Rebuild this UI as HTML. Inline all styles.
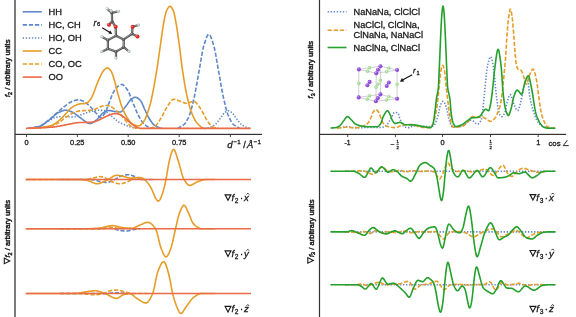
<!DOCTYPE html>
<html><head><meta charset="utf-8">
<style>
html,body{margin:0;padding:0;background:#fff;}
body{width:576px;height:317px;overflow:hidden;position:relative;font-family:"Liberation Sans",sans-serif;}
svg{position:absolute;left:0;top:0;will-change:transform;}
text{font-family:"Liberation Sans",sans-serif;fill:#1a1a1a;stroke:#1a1a1a;stroke-width:0.3px;}
</style></head><body>
<svg width="576" height="317" viewBox="0 0 576 317">
<rect width="576" height="317" fill="#fff"/>
<!-- axes -->
<rect x="14" y="0" width="2" height="317" fill="#7c7c7c"/>
<rect x="15" y="133.8" width="247" height="1.2" fill="#333"/>
<rect x="318.9" y="0" width="1.2" height="317" fill="#333"/>
<rect x="319.5" y="133.8" width="246.6" height="1.2" fill="#333"/>
<!-- ticks -->
<g fill="#333">
<rect x="26.1" y="134.5" width="0.9" height="2.6"/>
<rect x="76.9" y="134.5" width="0.9" height="2.6"/>
<rect x="127.7" y="134.5" width="0.9" height="2.6"/>
<rect x="178.7" y="134.5" width="0.9" height="2.6"/>
<rect x="229.9" y="134.5" width="0.9" height="2.6"/>
<rect x="347.3" y="134.5" width="0.9" height="2.6"/>
<rect x="394.9" y="134.5" width="0.9" height="2.6"/>
<rect x="442.1" y="134.5" width="0.9" height="2.6"/>
<rect x="490.0" y="134.5" width="0.9" height="2.6"/>
<rect x="537.7" y="134.5" width="0.9" height="2.6"/>
</g>
<g font-size="7.4" text-anchor="middle" style="stroke-width:0.5px">
<text x="26.6" y="145.2">0</text>
<text x="77.3" y="145.2">0.25</text>
<text x="128.2" y="145.2">0.50</text>
<text x="179.2" y="145.2">0.75</text>
<text x="347.6" y="145.1" font-size="6.8">-1</text>
<text x="442.6" y="145.2">0</text>
<text x="538.2" y="145.2">1</text>
</g>
<path d="M28.5 128.3L29.0 128.3L29.5 128.2L30.0 128.2L30.5 128.1L31.0 128.1L31.5 128.0L32.0 128.0L32.5 127.9L33.0 127.8L33.5 127.7L34.0 127.7L34.5 127.6L35.0 127.5L35.5 127.4L36.0 127.3L36.5 127.2L37.0 127.1L37.5 127.0L38.0 126.9L38.5 126.8L39.0 126.6L39.5 126.5L40.0 126.4L40.5 126.2L41.0 125.9L41.5 125.7L42.0 125.4L42.5 125.1L43.0 124.7L43.5 124.4L44.0 124.0L44.5 123.7L45.0 123.3L45.5 122.9L46.0 122.6L46.5 122.2L47.0 121.9L47.5 121.5L48.0 121.2L48.5 120.9L49.0 120.6L49.5 120.3L50.0 120.1L50.5 119.8L51.0 119.5L51.5 119.2L52.0 118.9L52.5 118.6L53.0 118.4L53.5 118.1L54.0 117.9L54.5 117.7L55.0 117.6L55.5 117.5L56.0 117.3L56.5 117.2L57.0 117.1L57.5 117.0L58.0 116.9L58.5 116.8L59.0 116.8L59.5 116.7L60.0 116.7L60.5 116.7L61.0 116.7L61.5 116.7L62.0 116.7L62.5 116.7L63.0 116.7L63.5 116.7L64.0 116.7L64.5 116.7L65.0 116.7L65.5 116.7L66.0 116.7L66.5 116.7L67.0 116.7L67.5 116.7L68.0 116.7L68.5 116.8L69.0 116.8L69.5 116.8L70.0 116.8L70.5 116.9L71.0 116.9L71.5 116.9L72.0 116.9L72.5 116.9L73.0 116.9L73.5 116.8L74.0 116.8L74.5 116.7L75.0 116.6L75.5 116.4L76.0 116.3L76.5 116.2L77.0 116.1L77.5 115.9L78.0 115.8L78.5 115.7L79.0 115.5L79.5 115.4L80.0 115.2L80.5 115.0L81.0 114.9L81.5 114.7L82.0 114.5L82.5 114.3L83.0 114.1L83.5 113.9L84.0 113.7L84.5 113.5L85.0 113.3L85.5 113.2L86.0 113.0L86.5 112.8L87.0 112.7L87.5 112.5L88.0 112.3L88.5 112.1L89.0 112.0L89.5 111.8L90.0 111.6L90.5 111.5L91.0 111.3L91.5 111.2L92.0 111.1L92.5 111.0L93.0 110.9L93.5 110.8L94.0 110.7L94.5 110.7L95.0 110.6L95.5 110.5L96.0 110.5L96.5 110.4L97.0 110.4L97.5 110.3L98.0 110.3L98.5 110.3L99.0 110.3L99.5 110.3L100.0 110.3L100.5 110.3L101.0 110.4L101.5 110.4L102.0 110.4L102.5 110.5L103.0 110.5L103.5 110.6L104.0 110.6L104.5 110.8L105.0 111.0L105.5 111.3L106.0 111.6L106.5 112.0L107.0 112.4L107.5 112.8L108.0 113.2L108.5 113.6L109.0 114.0L109.5 114.4L110.0 114.8L110.5 115.2L111.0 115.6L111.5 116.1L112.0 116.5L112.5 116.9L113.0 117.4L113.5 117.8L114.0 118.3L114.5 118.7L115.0 119.1L115.5 119.5L116.0 119.9L116.5 120.3L117.0 120.7L117.5 121.1L118.0 121.5L118.5 121.9L119.0 122.2L119.5 122.5L120.0 122.8L120.5 123.1L121.0 123.3L121.5 123.5L122.0 123.8L122.5 124.0L123.0 124.2L123.5 124.4L124.0 124.5L124.5 124.7L125.0 124.9L125.5 125.1L126.0 125.3L126.5 125.5L127.0 125.7L127.5 125.9L128.0 126.1L128.5 126.3L129.0 126.4L129.5 126.6L130.0 126.8L130.5 126.9L131.0 127.1L131.5 127.2L132.0 127.3L132.5 127.4L133.0 127.5L133.5 127.6L134.0 127.7L134.5 127.8L135.0 127.9L135.5 128.0L136.0 128.0L136.5 128.1L137.0 128.2L137.5 128.3L138.0 128.3L138.5 128.3M204.5 128.4L205.0 128.4L205.5 128.2L206.0 128.1L206.5 128.0L207.0 127.9L207.5 127.8L208.0 127.8L208.5 127.7L209.0 127.6L209.5 127.5L210.0 127.4L210.5 127.3L211.0 127.1L211.5 126.9L212.0 126.6L212.5 126.3L213.0 126.0L213.5 125.7L214.0 125.3L214.5 125.0L215.0 124.6L215.5 124.2L216.0 123.7L216.5 123.1L217.0 122.6L217.5 121.9L218.0 121.3L218.5 120.6L219.0 120.0L219.5 119.4L220.0 118.7L220.5 118.1L221.0 117.3L221.5 116.6L222.0 115.9L222.5 115.1L223.0 114.5L223.5 113.8L224.0 113.3L224.5 112.9L225.0 112.5L225.5 112.1L226.0 111.7L226.5 111.4L227.0 111.1L227.5 110.9L228.0 110.8L228.5 110.8L229.0 110.9L229.5 111.1L230.0 111.4L230.5 111.7L231.0 112.0L231.5 112.4L232.0 112.8L232.5 113.2L233.0 113.7L233.5 114.3L234.0 115.0L234.5 115.7L235.0 116.5L235.5 117.2L236.0 117.9L236.5 118.6L237.0 119.2L237.5 119.9L238.0 120.5L238.5 121.2L239.0 121.8L239.5 122.4L240.0 123.0L240.5 123.6L241.0 124.1L241.5 124.5L242.0 124.9L242.5 125.3L243.0 125.6L243.5 125.9L244.0 126.2L244.5 126.5L245.0 126.8L245.5 127.0L246.0 127.2L246.5 127.4L247.0 127.6L247.5 127.7L248.0 127.9L248.5 128.0L249.0 128.1L249.5 128.2L250.0 128.3L250.5 128.4" stroke="#5f88c8" stroke-width="1.6" fill="none" stroke-dasharray="1.35 1.7" stroke-linejoin="round"/>
<path d="M28.0 128.3L28.5 128.3L29.0 128.3L29.5 128.2L30.0 128.2L30.5 128.1L31.0 128.1L31.5 128.0L32.0 127.9L32.5 127.9L33.0 127.8L33.5 127.7L34.0 127.6L34.5 127.5L35.0 127.4L35.5 127.3L36.0 127.2L36.5 127.1L37.0 127.0L37.5 126.9L38.0 126.8L38.5 126.7L39.0 126.5L39.5 126.4L40.0 126.3L40.5 126.1L41.0 125.8L41.5 125.6L42.0 125.3L42.5 125.0L43.0 124.7L43.5 124.3L44.0 124.0L44.5 123.6L45.0 123.2L45.5 122.8L46.0 122.5L46.5 122.1L47.0 121.7L47.5 121.3L48.0 120.9L48.5 120.5L49.0 120.2L49.5 119.8L50.0 119.4L50.5 119.0L51.0 118.5L51.5 118.1L52.0 117.6L52.5 117.1L53.0 116.7L53.5 116.2L54.0 115.8L54.5 115.3L55.0 114.9L55.5 114.5L56.0 114.1L56.5 113.7L57.0 113.4L57.5 113.1L58.0 112.8L58.5 112.6L59.0 112.4L59.5 112.1L60.0 111.9L60.5 111.7L61.0 111.4L61.5 111.2L62.0 111.0L62.5 110.8L63.0 110.7L63.5 110.5L64.0 110.4L64.5 110.3L65.0 110.2L65.5 110.2L66.0 110.2L66.5 110.2L67.0 110.3L67.5 110.4L68.0 110.5L68.5 110.7L69.0 110.8L69.5 111.0L70.0 111.2L70.5 111.4L71.0 111.6L71.5 111.8L72.0 112.0L72.5 112.2L73.0 112.4L73.5 112.7L74.0 113.0L74.5 113.3L75.0 113.7L75.5 114.1L76.0 114.4L76.5 114.8L77.0 115.2L77.5 115.6L78.0 116.0L78.5 116.4L79.0 116.8L79.5 117.2L80.0 117.5L80.5 117.8L81.0 118.2L81.5 118.6L82.0 119.0L82.5 119.4L83.0 119.8L83.5 120.2L84.0 120.6L84.5 121.0L85.0 121.3L85.5 121.7L86.0 122.0L86.5 122.4L87.0 122.6L87.5 122.9L88.0 123.1L88.5 123.3L89.0 123.4L89.5 123.5L90.0 123.5L90.5 123.5L91.0 123.3L91.5 123.2L92.0 123.0L92.5 122.7L93.0 122.4L93.5 122.1L94.0 121.8L94.5 121.4L95.0 121.0L95.5 120.7L96.0 120.3L96.5 119.9L97.0 119.5L97.5 119.1L98.0 118.6L98.5 118.0L99.0 117.4L99.5 116.8L100.0 116.2L100.5 115.5L101.0 114.9L101.5 114.3L102.0 113.8L102.5 113.4L103.0 113.0L103.5 112.7L104.0 112.4L104.5 112.1L105.0 111.8L105.5 111.5L106.0 111.3L106.5 111.0L107.0 110.8L107.5 110.7L108.0 110.6L108.5 110.5L109.0 110.5L109.5 110.5L110.0 110.6L110.5 110.7L111.0 110.8L111.5 110.9L112.0 111.0L112.5 111.1L113.0 111.2L113.5 111.3L114.0 111.4L114.5 111.5L115.0 111.5L115.5 111.6L116.0 111.7L116.5 111.7L117.0 111.8L117.5 111.8L118.0 111.9L118.5 111.9L119.0 112.0L119.5 112.0L120.0 112.0L120.5 112.0L121.0 111.8L121.5 111.5L122.0 111.1L122.5 110.6L123.0 110.0L123.5 109.3L124.0 108.6L124.5 107.9L125.0 107.3L125.5 106.6L126.0 106.0L126.5 105.4L127.0 104.7L127.5 104.0L128.0 103.2L128.5 102.5L129.0 101.7L129.5 101.1L130.0 100.4L130.5 99.9L131.0 99.5L131.5 99.1L132.0 98.8L132.5 98.4L133.0 98.1L133.5 97.8L134.0 97.6L134.5 97.4L135.0 97.3L135.5 97.3L136.0 97.4L136.5 97.5L137.0 97.7L137.5 98.0L138.0 98.3L138.5 98.7L139.0 99.1L139.5 99.6L140.0 100.0L140.5 100.6L141.0 101.3L141.5 102.2L142.0 103.2L142.5 104.3L143.0 105.5L143.5 106.7L144.0 107.8L144.5 109.0L145.0 110.0L145.5 111.0L146.0 112.1L146.5 113.1L147.0 114.2L147.5 115.2L148.0 116.3L148.5 117.2L149.0 118.2L149.5 119.0L150.0 119.8L150.5 120.5L151.0 121.2L151.5 121.9L152.0 122.6L152.5 123.3L153.0 123.9L153.5 124.4L154.0 124.9L154.5 125.3L155.0 125.6L155.5 125.9L156.0 126.1L156.5 126.4L157.0 126.7L157.5 126.9L158.0 127.1L158.5 127.4L159.0 127.6L159.5 127.7L160.0 127.9L160.5 128.1L161.0 128.2L161.5 128.3L162.0 128.3L162.5 128.4" stroke="#5f88c8" stroke-width="1.6" fill="none" stroke-linejoin="round"/>
<path d="M28.0 128.3L28.5 128.3L29.0 128.3L29.5 128.2L30.0 128.2L30.5 128.1L31.0 128.1L31.5 128.0L32.0 127.9L32.5 127.8L33.0 127.8L33.5 127.7L34.0 127.6L34.5 127.5L35.0 127.4L35.5 127.3L36.0 127.2L36.5 127.1L37.0 126.9L37.5 126.8L38.0 126.7L38.5 126.6L39.0 126.5L39.5 126.3L40.0 126.1L40.5 125.9L41.0 125.7L41.5 125.4L42.0 125.1L42.5 124.8L43.0 124.5L43.5 124.1L44.0 123.8L44.5 123.4L45.0 123.0L45.5 122.6L46.0 122.2L46.5 121.8L47.0 121.3L47.5 120.9L48.0 120.5L48.5 120.2L49.0 119.8L49.5 119.4L50.0 119.0L50.5 118.6L51.0 118.1L51.5 117.7L52.0 117.3L52.5 116.8L53.0 116.4L53.5 115.9L54.0 115.5L54.5 115.0L55.0 114.6L55.5 114.1L56.0 113.6L56.5 113.2L57.0 112.8L57.5 112.3L58.0 111.9L58.5 111.5L59.0 111.0L59.5 110.6L60.0 110.2L60.5 109.7L61.0 109.3L61.5 108.9L62.0 108.4L62.5 108.0L63.0 107.6L63.5 107.2L64.0 106.8L64.5 106.4L65.0 106.1L65.5 105.7L66.0 105.3L66.5 104.9L67.0 104.6L67.5 104.2L68.0 103.8L68.5 103.5L69.0 103.1L69.5 102.8L70.0 102.5L70.5 102.2L71.0 102.0L71.5 101.7L72.0 101.5L72.5 101.3L73.0 101.2L73.5 101.0L74.0 100.8L74.5 100.6L75.0 100.5L75.5 100.3L76.0 100.2L76.5 100.1L77.0 100.0L77.5 99.9L78.0 99.9L78.5 99.9L79.0 99.9L79.5 100.0L80.0 100.1L80.5 100.2L81.0 100.3L81.5 100.5L82.0 100.7L82.5 100.9L83.0 101.1L83.5 101.3L84.0 101.5L84.5 101.7L85.0 102.0L85.5 102.4L86.0 102.8L86.5 103.2L87.0 103.6L87.5 104.1L88.0 104.6L88.5 105.0L89.0 105.5L89.5 106.0L90.0 106.5L90.5 107.0L91.0 107.5L91.5 108.0L92.0 108.6L92.5 109.1L93.0 109.7L93.5 110.2L94.0 110.8L94.5 111.4L95.0 111.9L95.5 112.5L96.0 113.0L96.5 113.6L97.0 114.2L97.5 114.9L98.0 115.5L98.5 116.1L99.0 116.7L99.5 117.1L100.0 117.4L100.5 117.5L101.0 117.4L101.5 117.2L102.0 116.8L102.5 116.3L103.0 115.8L103.5 115.1L104.0 114.4L104.5 113.7L105.0 113.0L105.5 112.2L106.0 111.1L106.5 109.9L107.0 108.5L107.5 107.1L108.0 105.7L108.5 104.3L109.0 103.0L109.5 101.7L110.0 100.4L110.5 99.1L111.0 97.8L111.5 96.5L112.0 95.3L112.5 94.2L113.0 93.2L113.5 92.2L114.0 91.3L114.5 90.3L115.0 89.5L115.5 88.8L116.0 88.2L116.5 87.7L117.0 87.3L117.5 86.8L118.0 86.4L118.5 86.0L119.0 85.6L119.5 85.3L120.0 85.0L120.5 84.8L121.0 84.6L121.5 84.5L122.0 84.5L122.5 84.6L123.0 84.9L123.5 85.2L124.0 85.6L124.5 86.1L125.0 86.7L125.5 87.3L126.0 87.9L126.5 88.6L127.0 89.3L127.5 90.0L128.0 90.8L128.5 91.7L129.0 92.8L129.5 93.9L130.0 95.2L130.5 96.5L131.0 97.8L131.5 99.2L132.0 100.5L132.5 101.8L133.0 103.0L133.5 104.2L134.0 105.4L134.5 106.6L135.0 107.8L135.5 109.0L136.0 110.2L136.5 111.4L137.0 112.5L137.5 113.6L138.0 114.7L138.5 115.6L139.0 116.5L139.5 117.4L140.0 118.3L140.5 119.2L141.0 120.1L141.5 120.9L142.0 121.6L142.5 122.3L143.0 123.0L143.5 123.5L144.0 124.0L144.5 124.4L145.0 124.8L145.5 125.3L146.0 125.6L146.5 126.0L147.0 126.3L147.5 126.6L148.0 126.9L148.5 127.2L149.0 127.3L149.5 127.5L150.0 127.6L150.5 127.7L151.0 127.7L151.5 127.8L152.0 127.9L152.5 127.9L153.0 128.0L153.5 128.0L154.0 128.1L154.5 128.1L155.0 128.2L155.5 128.2L156.0 128.3L156.5 128.3L157.0 128.3M177.5 128.4L178.0 128.4L178.5 128.2L179.0 127.7L179.5 127.3L180.0 127.0L180.5 126.7L181.0 126.4L181.5 126.1L182.0 125.9L182.5 125.6L183.0 125.3L183.5 124.9L184.0 124.5L184.5 124.1L185.0 123.5L185.5 122.9L186.0 122.1L186.5 121.3L187.0 120.4L187.5 119.4L188.0 118.4L188.5 117.3L189.0 116.1L189.5 114.9L190.0 113.6L190.5 112.0L191.0 110.4L191.5 108.6L192.0 106.7L192.5 104.7L193.0 102.6L193.5 100.5L194.0 98.3L194.5 96.1L195.0 93.6L195.5 91.1L196.0 88.3L196.5 85.5L197.0 82.7L197.5 79.8L198.0 76.9L198.5 74.1L199.0 71.4L199.5 68.6L200.0 65.7L200.5 62.7L201.0 59.7L201.5 56.8L202.0 54.0L202.5 51.3L203.0 48.9L203.5 46.8L204.0 45.1L204.5 43.5L205.0 41.9L205.5 40.4L206.0 38.9L206.5 37.6L207.0 36.5L207.5 35.5L208.0 34.8L208.5 34.5L209.0 34.4L209.5 34.7L210.0 35.4L210.5 36.2L211.0 37.4L211.5 38.7L212.0 40.1L212.5 41.6L213.0 43.2L213.5 44.8L214.0 46.5L214.5 48.5L215.0 50.8L215.5 53.4L216.0 56.2L216.5 59.1L217.0 62.1L217.5 65.1L218.0 68.0L218.5 70.8L219.0 73.6L219.5 76.4L220.0 79.2L220.5 82.1L221.0 85.0L221.5 87.8L222.0 90.5L222.5 93.1L223.0 95.6L223.5 97.9L224.0 100.0L224.5 102.2L225.0 104.2L225.5 106.3L226.0 108.2L226.5 110.0L227.0 111.7L227.5 113.3L228.0 114.7L228.5 115.9L229.0 117.1L229.5 118.2L230.0 119.2L230.5 120.2L231.0 121.1L231.5 122.0L232.0 122.7L232.5 123.4L233.0 124.0L233.5 124.5L234.0 124.9L234.5 125.2L235.0 125.6L235.5 125.9L236.0 126.2L236.5 126.4L237.0 126.7L237.5 127.0L238.0 127.2L238.5 127.6L239.0 127.9L239.5 128.3L240.0 128.4L240.5 128.4" stroke="#5f88c8" stroke-width="1.6" fill="none" stroke-dasharray="4.3 1.8" stroke-linejoin="round"/>
<path d="M31.5 128.3L32.0 128.3L32.5 128.3L33.0 128.3L33.5 128.2L34.0 128.2L34.5 128.2L35.0 128.2L35.5 128.1L36.0 128.1L36.5 128.1L37.0 128.1L37.5 128.0L38.0 128.0L38.5 128.0L39.0 128.0L39.5 127.9L40.0 127.9L40.5 127.9L41.0 127.8L41.5 127.8L42.0 127.7L42.5 127.7L43.0 127.6L43.5 127.6L44.0 127.5L44.5 127.5L45.0 127.4L45.5 127.3L46.0 127.2L46.5 127.2L47.0 127.1L47.5 127.0L48.0 126.9L48.5 126.8L49.0 126.7L49.5 126.6L50.0 126.4L50.5 126.3L51.0 126.1L51.5 125.9L52.0 125.7L52.5 125.5L53.0 125.4L53.5 125.2L54.0 124.9L54.5 124.7L55.0 124.5L55.5 124.3L56.0 124.1L56.5 123.9L57.0 123.6L57.5 123.4L58.0 123.1L58.5 122.8L59.0 122.5L59.5 122.2L60.0 121.9L60.5 121.6L61.0 121.2L61.5 120.8L62.0 120.4L62.5 120.0L63.0 119.6L63.5 119.2L64.0 118.8L64.5 118.4L65.0 118.1L65.5 117.7L66.0 117.3L66.5 116.9L67.0 116.6L67.5 116.2L68.0 115.9L68.5 115.5L69.0 115.2L69.5 114.9L70.0 114.6L70.5 114.3L71.0 114.0L71.5 113.7L72.0 113.4L72.5 113.2L73.0 112.9L73.5 112.7L74.0 112.5L74.5 112.3L75.0 112.1L75.5 111.9L76.0 111.7L76.5 111.6L77.0 111.4L77.5 111.3L78.0 111.2L78.5 111.1L79.0 111.0L79.5 110.9L80.0 110.9L80.5 110.8L81.0 110.8L81.5 110.7L82.0 110.7L82.5 110.7L83.0 110.6L83.5 110.6L84.0 110.6L84.5 110.6L85.0 110.5L85.5 110.5L86.0 110.5L86.5 110.5L87.0 110.5L87.5 110.5L88.0 110.5L88.5 110.4L89.0 110.4L89.5 110.4L90.0 110.4L90.5 110.4L91.0 110.3L91.5 110.3L92.0 110.3L92.5 110.2L93.0 110.0L93.5 109.8L94.0 109.6L94.5 109.4L95.0 109.2L95.5 109.0L96.0 108.7L96.5 108.5L97.0 108.3L97.5 108.1L98.0 107.9L98.5 107.6L99.0 107.4L99.5 107.1L100.0 106.9L100.5 106.7L101.0 106.5L101.5 106.4L102.0 106.3L102.5 106.2L103.0 106.0L103.5 105.9L104.0 105.8L104.5 105.7L105.0 105.7L105.5 105.6L106.0 105.5L106.5 105.5L107.0 105.5L107.5 105.5L108.0 105.6L108.5 105.7L109.0 105.9L109.5 106.1L110.0 106.3L110.5 106.5L111.0 106.7L111.5 106.9L112.0 107.2L112.5 107.5L113.0 107.9L113.5 108.2L114.0 108.6L114.5 109.0L115.0 109.4L115.5 109.8L116.0 110.2L116.5 110.6L117.0 111.1L117.5 111.5L118.0 112.0L118.5 112.5L119.0 113.0L119.5 113.5L120.0 114.0L120.5 114.5L121.0 115.1L121.5 115.6L122.0 116.2L122.5 116.8L123.0 117.4L123.5 118.0L124.0 118.6L124.5 119.2L125.0 119.8L125.5 120.4L126.0 121.0L126.5 121.6L127.0 122.2L127.5 122.8L128.0 123.4L128.5 124.0L129.0 124.6L129.5 125.1L130.0 125.5L130.5 125.9L131.0 126.3L131.5 126.7L132.0 127.0L132.5 127.3L133.0 127.5L133.5 127.6L134.0 127.7L134.5 127.8L135.0 127.9L135.5 128.0L136.0 128.1L136.5 128.2L137.0 128.2L137.5 128.3L138.0 128.3L138.5 128.4M149.5 128.4L150.0 128.3L150.5 128.2L151.0 128.1L151.5 127.9L152.0 127.7L152.5 127.5L153.0 127.3L153.5 127.0L154.0 126.8L154.5 126.5L155.0 126.2L155.5 125.9L156.0 125.4L156.5 124.9L157.0 124.3L157.5 123.6L158.0 122.9L158.5 122.1L159.0 121.3L159.5 120.5L160.0 119.7L160.5 118.8L161.0 118.0L161.5 117.2L162.0 116.4L162.5 115.5L163.0 114.5L163.5 113.5L164.0 112.5L164.5 111.5L165.0 110.5L165.5 109.5L166.0 108.6L166.5 107.8L167.0 107.0L167.5 106.3L168.0 105.5L168.5 104.7L169.0 104.0L169.5 103.2L170.0 102.5L170.5 101.8L171.0 101.2L171.5 100.6L172.0 100.1L172.5 99.8L173.0 99.5L173.5 99.3L174.0 99.3L174.5 99.3L175.0 99.4L175.5 99.5L176.0 99.7L176.5 99.9L177.0 100.0L177.5 100.2L178.0 100.4L178.5 100.6L179.0 100.8L179.5 101.0L180.0 101.2L180.5 101.4L181.0 101.6L181.5 101.8L182.0 102.0L182.5 102.2L183.0 102.4L183.5 102.6L184.0 102.8L184.5 103.0L185.0 103.1L185.5 103.2L186.0 103.2L186.5 103.2L187.0 103.1L187.5 103.0L188.0 102.9L188.5 102.7L189.0 102.6L189.5 102.4L190.0 102.3L190.5 102.2L191.0 102.0L191.5 101.8L192.0 101.7L192.5 101.5L193.0 101.4L193.5 101.3L194.0 101.3L194.5 101.4L195.0 101.7L195.5 102.1L196.0 102.6L196.5 103.1L197.0 103.8L197.5 104.4L198.0 105.0L198.5 105.6L199.0 106.3L199.5 107.1L200.0 107.9L200.5 108.7L201.0 109.5L201.5 110.4L202.0 111.3L202.5 112.2L203.0 113.0L203.5 113.9L204.0 114.8L204.5 115.7L205.0 116.7L205.5 117.6L206.0 118.6L206.5 119.5L207.0 120.3L207.5 121.2L208.0 121.9L208.5 122.6L209.0 123.2L209.5 123.8L210.0 124.4L210.5 124.9L211.0 125.5L211.5 126.0L212.0 126.4L212.5 126.8L213.0 127.2L213.5 127.4L214.0 127.6L214.5 127.7L215.0 127.8L215.5 127.9L216.0 128.0L216.5 128.1L217.0 128.2L217.5 128.2L218.0 128.3L218.5 128.3" stroke="#e69d28" stroke-width="1.6" fill="none" stroke-dasharray="4.3 1.8" stroke-linejoin="round"/>
<path d="M30.0 128.3L30.5 128.3L31.0 128.3L31.5 128.2L32.0 128.2L32.5 128.2L33.0 128.2L33.5 128.1L34.0 128.1L34.5 128.1L35.0 128.0L35.5 128.0L36.0 127.9L36.5 127.9L37.0 127.9L37.5 127.8L38.0 127.8L38.5 127.7L39.0 127.7L39.5 127.6L40.0 127.6L40.5 127.6L41.0 127.5L41.5 127.4L42.0 127.4L42.5 127.3L43.0 127.3L43.5 127.2L44.0 127.1L44.5 127.0L45.0 126.9L45.5 126.9L46.0 126.8L46.5 126.7L47.0 126.6L47.5 126.5L48.0 126.3L48.5 126.2L49.0 126.1L49.5 126.0L50.0 125.8L50.5 125.7L51.0 125.6L51.5 125.4L52.0 125.2L52.5 125.0L53.0 124.8L53.5 124.5L54.0 124.2L54.5 123.9L55.0 123.6L55.5 123.2L56.0 122.9L56.5 122.5L57.0 122.1L57.5 121.8L58.0 121.4L58.5 121.0L59.0 120.6L59.5 120.2L60.0 119.7L60.5 119.3L61.0 118.8L61.5 118.3L62.0 117.8L62.5 117.3L63.0 116.8L63.5 116.2L64.0 115.7L64.5 115.2L65.0 114.6L65.5 114.1L66.0 113.5L66.5 113.0L67.0 112.4L67.5 111.8L68.0 111.2L68.5 110.6L69.0 110.0L69.5 109.5L70.0 109.0L70.5 108.6L71.0 108.1L71.5 107.7L72.0 107.4L72.5 107.0L73.0 106.7L73.5 106.4L74.0 106.1L74.5 105.9L75.0 105.6L75.5 105.4L76.0 105.2L76.5 104.9L77.0 104.7L77.5 104.5L78.0 104.4L78.5 104.2L79.0 104.1L79.5 104.0L80.0 103.9L80.5 103.8L81.0 103.8L81.5 103.8L82.0 103.7L82.5 103.7L83.0 103.7L83.5 103.6L84.0 103.6L84.5 103.6L85.0 103.5L85.5 103.5L86.0 103.4L86.5 103.3L87.0 103.0L87.5 102.6L88.0 102.2L88.5 101.7L89.0 101.2L89.5 100.6L90.0 100.0L90.5 99.3L91.0 98.5L91.5 97.6L92.0 96.6L92.5 95.5L93.0 94.4L93.5 93.3L94.0 92.1L94.5 90.8L95.0 89.4L95.5 88.0L96.0 86.6L96.5 85.3L97.0 84.0L97.5 82.8L98.0 81.6L98.5 80.4L99.0 79.2L99.5 78.1L100.0 77.0L100.5 76.0L101.0 75.0L101.5 74.0L102.0 73.1L102.5 72.1L103.0 71.3L103.5 70.5L104.0 70.0L104.5 69.6L105.0 69.2L105.5 68.8L106.0 68.5L106.5 68.2L107.0 68.1L107.5 68.0L108.0 68.1L108.5 68.3L109.0 68.7L109.5 69.2L110.0 69.7L110.5 70.4L111.0 71.0L111.5 71.8L112.0 73.0L112.5 74.3L113.0 75.8L113.5 77.4L114.0 79.0L114.5 80.7L115.0 82.6L115.5 84.5L116.0 86.6L116.5 88.5L117.0 90.4L117.5 92.2L118.0 94.0L118.5 95.8L119.0 97.6L119.5 99.3L120.0 101.0L120.5 102.7L121.0 104.2L121.5 105.7L122.0 107.0L122.5 108.2L123.0 109.4L123.5 110.6L124.0 111.7L124.5 112.8L125.0 113.9L125.5 114.9L126.0 115.8L126.5 116.7L127.0 117.5L127.5 118.3L128.0 119.0L128.5 119.7L129.0 120.3L129.5 121.0L130.0 121.6L130.5 122.2L131.0 122.7L131.5 123.2L132.0 123.6L132.5 123.9L133.0 124.2L133.5 124.4L134.0 124.6L134.5 124.8L135.0 125.0L135.5 125.2L136.0 125.4L136.5 125.5L137.0 125.6L137.5 125.7L138.0 125.8L138.5 125.8L139.0 125.8L139.5 125.6L140.0 125.4L140.5 125.1L141.0 124.6L141.5 124.1L142.0 123.6L142.5 123.0L143.0 122.3L143.5 121.7L144.0 121.0L144.5 120.3L145.0 119.4L145.5 118.3L146.0 117.2L146.5 115.9L147.0 114.6L147.5 113.1L148.0 111.6L148.5 110.0L149.0 108.4L149.5 106.7L150.0 105.0L150.5 103.2L151.0 101.1L151.5 98.9L152.0 96.5L152.5 94.0L153.0 91.5L153.5 89.0L154.0 86.4L154.5 83.6L155.0 80.8L155.5 77.9L156.0 74.9L156.5 71.9L157.0 68.7L157.5 65.5L158.0 62.0L158.5 58.5L159.0 55.0L159.5 51.5L160.0 48.0L160.5 44.5L161.0 40.8L161.5 37.1L162.0 33.5L162.5 30.1L163.0 26.8L163.5 24.0L164.0 21.3L164.5 18.7L165.0 16.3L165.5 14.1L166.0 12.3L166.5 11.0L167.0 10.0L167.5 9.0L168.0 8.1L168.5 7.4L169.0 6.8L169.5 6.4L170.0 6.3L170.5 6.4L171.0 6.8L171.5 7.4L172.0 8.2L172.5 9.1L173.0 10.1L173.5 11.2L174.0 12.8L174.5 14.9L175.0 17.4L175.5 20.1L176.0 22.9L176.5 25.7L177.0 28.8L177.5 32.1L178.0 35.6L178.5 39.1L179.0 42.8L179.5 46.5L180.0 50.4L180.5 54.6L181.0 58.7L181.5 62.8L182.0 66.6L182.5 70.1L183.0 73.4L183.5 76.7L184.0 79.9L184.5 82.9L185.0 85.8L185.5 88.5L186.0 91.0L186.5 93.4L187.0 95.8L187.5 98.0L188.0 100.2L188.5 102.4L189.0 104.4L189.5 106.2L190.0 108.0L190.5 109.6L191.0 111.0L191.5 112.3L192.0 113.6L192.5 114.8L193.0 116.0L193.5 117.2L194.0 118.2L194.5 119.2L195.0 120.1L195.5 121.0L196.0 121.7L196.5 122.4L197.0 123.0L197.5 123.5L198.0 124.1L198.5 124.6L199.0 125.1L199.5 125.5L200.0 126.0L200.5 126.4L201.0 126.8L201.5 127.2L202.0 127.5L202.5 127.8L203.0 128.0L203.5 128.2L204.0 128.3L204.5 128.4" stroke="#e69d28" stroke-width="1.6" fill="none" stroke-linejoin="round"/>
<path d="M26.0 128.4L26.5 128.4L27.0 128.4L27.5 128.3L28.0 128.3L28.5 128.3L29.0 128.3L29.5 128.3L30.0 128.3L30.5 128.2L31.0 128.2L31.5 128.2L32.0 128.2L32.5 128.1L33.0 128.1L33.5 128.1L34.0 128.1L34.5 128.1L35.0 128.0L35.5 128.0L36.0 128.0L36.5 128.0L37.0 127.9L37.5 127.9L38.0 127.9L38.5 127.9L39.0 127.8L39.5 127.8L40.0 127.8L40.5 127.8L41.0 127.8L41.5 127.7L42.0 127.7L42.5 127.7L43.0 127.7L43.5 127.6L44.0 127.6L44.5 127.6L45.0 127.6L45.5 127.5L46.0 127.5L46.5 127.5L47.0 127.5L47.5 127.4L48.0 127.4L48.5 127.4L49.0 127.3L49.5 127.3L50.0 127.3L50.5 127.2L51.0 127.2L51.5 127.2L52.0 127.1L52.5 127.1L53.0 127.0L53.5 127.0L54.0 126.9L54.5 126.9L55.0 126.8L55.5 126.8L56.0 126.7L56.5 126.6L57.0 126.5L57.5 126.4L58.0 126.4L58.5 126.3L59.0 126.2L59.5 126.1L60.0 126.0L60.5 125.9L61.0 125.8L61.5 125.7L62.0 125.6L62.5 125.5L63.0 125.4L63.5 125.3L64.0 125.2L64.5 125.1L65.0 125.0L65.5 124.9L66.0 124.8L66.5 124.7L67.0 124.6L67.5 124.5L68.0 124.4L68.5 124.3L69.0 124.2L69.5 124.1L70.0 124.0L70.5 123.9L71.0 123.8L71.5 123.7L72.0 123.6L72.5 123.5L73.0 123.4L73.5 123.3L74.0 123.2L74.5 123.2L75.0 123.1L75.5 123.0L76.0 122.9L76.5 122.8L77.0 122.8L77.5 122.7L78.0 122.6L78.5 122.6L79.0 122.5L79.5 122.5L80.0 122.5L80.5 122.5L81.0 122.5L81.5 122.5L82.0 122.5L82.5 122.5L83.0 122.5L83.5 122.5L84.0 122.5L84.5 122.5L85.0 122.4L85.5 122.4L86.0 122.4L86.5 122.4L87.0 122.4L87.5 122.4L88.0 122.4L88.5 122.4L89.0 122.4L89.5 122.4L90.0 122.4L90.5 122.3L91.0 122.3L91.5 122.2L92.0 122.1L92.5 122.0L93.0 121.9L93.5 121.8L94.0 121.7L94.5 121.6L95.0 121.5L95.5 121.4L96.0 121.2L96.5 121.0L97.0 120.8L97.5 120.6L98.0 120.4L98.5 120.2L99.0 119.9L99.5 119.7L100.0 119.5L100.5 119.2L101.0 119.0L101.5 118.8L102.0 118.5L102.5 118.3L103.0 118.0L103.5 117.8L104.0 117.5L104.5 117.3L105.0 117.0L105.5 116.7L106.0 116.5L106.5 116.3L107.0 116.0L107.5 115.8L108.0 115.6L108.5 115.5L109.0 115.3L109.5 115.1L110.0 114.9L110.5 114.7L111.0 114.5L111.5 114.3L112.0 114.1L112.5 114.0L113.0 113.8L113.5 113.7L114.0 113.7L114.5 113.6L115.0 113.6L115.5 113.6L116.0 113.7L116.5 113.7L117.0 113.8L117.5 113.9L118.0 114.0L118.5 114.2L119.0 114.3L119.5 114.4L120.0 114.6L120.5 114.8L121.0 115.0L121.5 115.3L122.0 115.6L122.5 116.0L123.0 116.4L123.5 116.8L124.0 117.2L124.5 117.6L125.0 118.0L125.5 118.4L126.0 118.8L126.5 119.3L127.0 119.8L127.5 120.2L128.0 120.7L128.5 121.2L129.0 121.6L129.5 122.1L130.0 122.5L130.5 122.9L131.0 123.3L131.5 123.7L132.0 124.1L132.5 124.5L133.0 124.9L133.5 125.3L134.0 125.6L134.5 125.9L135.0 126.2L135.5 126.5L136.0 126.7L136.5 127.0L137.0 127.2L137.5 127.4L138.0 127.7L138.5 127.9L139.0 128.0L139.5 128.2L140.0 128.3L140.5 128.4L141.0 128.4L141.5 128.4L142.0 128.4L142.5 128.4L143.0 128.4L143.5 128.4L144.0 128.4L144.5 128.4L145.0 128.4L145.5 128.4L146.0 128.4L146.5 128.4L147.0 128.4L147.5 128.4L148.0 128.4L148.5 128.4L149.0 128.4L149.5 128.4L150.0 128.4L150.5 128.4L151.0 128.4L151.5 128.4L152.0 128.4L152.5 128.4L153.0 128.4L153.5 128.4L154.0 128.4L154.5 128.4L155.0 128.4L155.5 128.4L156.0 128.4L156.5 128.4L157.0 128.4L157.5 128.4L158.0 128.4L158.5 128.4L159.0 128.4L159.5 128.4L160.0 128.4L160.5 128.4L161.0 128.4L161.5 128.4L162.0 128.4L162.5 128.4L163.0 128.4L163.5 128.4L164.0 128.4L164.5 128.4L165.0 128.4L165.5 128.4L166.0 128.4L166.5 128.4L167.0 128.4L167.5 128.4L168.0 128.4L168.5 128.4L169.0 128.4L169.5 128.4L170.0 128.4L170.5 128.4L171.0 128.4L171.5 128.4L172.0 128.4L172.5 128.4L173.0 128.4L173.5 128.4L174.0 128.4L174.5 128.4L175.0 128.4L175.5 128.4L176.0 128.4L176.5 128.4L177.0 128.4L177.5 128.4L178.0 128.4L178.5 128.4L179.0 128.4L179.5 128.4L180.0 128.4L180.5 128.4L181.0 128.4L181.5 128.4L182.0 128.4L182.5 128.4L183.0 128.4L183.5 128.4L184.0 128.4L184.5 128.4L185.0 128.4L185.5 128.4L186.0 128.4L186.5 128.4L187.0 128.4L187.5 128.4L188.0 128.4L188.5 128.4L189.0 128.4L189.5 128.4L190.0 128.4L190.5 128.4L191.0 128.4L191.5 128.4L192.0 128.4L192.5 128.4L193.0 128.4L193.5 128.4L194.0 128.4L194.5 128.4L195.0 128.4L195.5 128.4L196.0 128.4L196.5 128.4L197.0 128.4L197.5 128.4L198.0 128.4L198.5 128.4L199.0 128.4L199.5 128.4L200.0 128.4L200.5 128.4L201.0 128.4L201.5 128.4L202.0 128.4L202.5 128.4L203.0 128.4L203.5 128.4L204.0 128.4L204.5 128.4L205.0 128.4L205.5 128.4L206.0 128.4L206.5 128.4L207.0 128.4L207.5 128.4L208.0 128.4L208.5 128.4L209.0 128.4L209.5 128.4L210.0 128.4L210.5 128.4L211.0 128.4L211.5 128.4L212.0 128.4L212.5 128.4L213.0 128.4L213.5 128.4L214.0 128.4L214.5 128.4L215.0 128.4L215.5 128.4L216.0 128.4L216.5 128.4L217.0 128.4L217.5 128.4L218.0 128.4L218.5 128.4L219.0 128.4L219.5 128.4L220.0 128.4L220.5 128.4L221.0 128.4L221.5 128.4L222.0 128.4L222.5 128.4L223.0 128.4L223.5 128.4L224.0 128.4L224.5 128.4L225.0 128.4L225.5 128.4L226.0 128.4L226.5 128.4L227.0 128.4L227.5 128.4L228.0 128.4L228.5 128.4L229.0 128.4L229.5 128.4L230.0 128.4L230.5 128.4L231.0 128.4L231.5 128.4L232.0 128.4L232.5 128.4L233.0 128.4L233.5 128.4L234.0 128.4L234.5 128.4L235.0 128.4L235.5 128.4L236.0 128.4L236.5 128.4L237.0 128.4L237.5 128.4L238.0 128.4L238.5 128.4L239.0 128.4L239.5 128.4L240.0 128.4L240.5 128.4L241.0 128.4L241.5 128.4L242.0 128.4L242.5 128.4L243.0 128.4L243.5 128.4L244.0 128.4L244.5 128.4L245.0 128.4L245.5 128.4L246.0 128.4L246.5 128.4L247.0 128.4L247.5 128.4L248.0 128.4L248.5 128.4L249.0 128.4L249.5 128.4L250.0 128.4L250.5 128.4L250.7 128.4" stroke="#ec6b46" stroke-width="1.6" fill="none" stroke-linejoin="round"/>
<path d="M337.0 128.2L337.5 128.1L338.0 128.0L338.5 128.0L339.0 127.9L339.5 127.8L340.0 127.7L340.5 127.6L341.0 127.6L341.5 127.5L342.0 127.4L342.5 127.3L343.0 127.2L343.5 127.1L344.0 127.0L344.5 126.9L345.0 126.8L345.5 126.7L346.0 126.7L346.5 126.6L347.0 126.6L347.5 126.6L348.0 126.7L348.5 126.8L349.0 126.9L349.5 127.0L350.0 127.2L350.5 127.3L351.0 127.4L351.5 127.5L352.0 127.5L352.5 127.5L353.0 127.5L353.5 127.5L354.0 127.5L354.5 127.6L355.0 127.6L355.5 127.6L356.0 127.6L356.5 127.6L357.0 127.6L357.5 127.6L358.0 127.6L358.5 127.6L359.0 127.6L359.5 127.6L360.0 127.6L360.5 127.6L361.0 127.6L361.5 127.6L362.0 127.6L362.5 127.6L363.0 127.6L363.5 127.5L364.0 127.5L364.5 127.5L365.0 127.5L365.5 127.5L366.0 127.5L366.5 127.5L367.0 127.4L367.5 127.4L368.0 127.4L368.5 127.4L369.0 127.4L369.5 127.4L370.0 127.4L370.5 127.4L371.0 127.4L371.5 127.4L372.0 127.4L372.5 127.4L373.0 127.4L373.5 127.4L374.0 127.4L374.5 127.4L375.0 127.5L375.5 127.5L376.0 127.5L376.5 127.5L377.0 127.5L377.5 127.5L378.0 127.5L378.5 127.5L379.0 127.5L379.5 127.5L380.0 127.5L380.5 127.5L381.0 127.5L381.5 127.4L382.0 127.3L382.5 127.2L383.0 127.1L383.5 127.0L384.0 126.8L384.5 126.7L385.0 126.5L385.5 126.2L386.0 125.8L386.5 125.3L387.0 124.8L387.5 124.1L388.0 123.5L388.5 122.8L389.0 122.0L389.5 121.1L390.0 120.2L390.5 119.3L391.0 118.4L391.5 117.5L392.0 116.6L392.5 115.5L393.0 114.5L393.5 113.5L394.0 112.7L394.5 112.3L395.0 112.2L395.5 112.3L396.0 112.4L396.5 112.6L397.0 112.8L397.5 113.1L398.0 113.4L398.5 114.2L399.0 115.7L399.5 117.4L400.0 118.8L400.5 120.3L401.0 121.7L401.5 123.0L402.0 124.0L402.5 124.8L403.0 125.6L403.5 126.3L404.0 126.8L404.5 127.0L405.0 127.2L405.5 127.3L406.0 127.4L406.5 127.5L407.0 127.5L407.5 127.6L408.0 127.6L408.5 127.6L409.0 127.6L409.5 127.4L410.0 127.3L410.5 127.1L411.0 126.9L411.5 126.6L412.0 126.4L412.5 126.2L413.0 126.1L413.5 126.0L414.0 126.0L414.5 126.0L415.0 126.0L415.5 126.0L416.0 126.0L416.5 126.1L417.0 126.1L417.5 126.1L418.0 126.1L418.5 126.1L419.0 126.2L419.5 126.2L420.0 126.2L420.5 126.2L421.0 126.2L421.5 126.3L422.0 126.3L422.5 126.3L423.0 126.4L423.5 126.4L424.0 126.4L424.5 126.5L425.0 126.5L425.5 126.5L426.0 126.6L426.5 126.6L427.0 126.6L427.5 126.6L428.0 126.6L428.5 126.6L429.0 126.6L429.5 126.6L430.0 126.5L430.5 126.5L431.0 126.4L431.5 126.4L432.0 126.3L432.5 126.2L433.0 126.1L433.5 126.0L434.0 125.6L434.5 124.8L435.0 123.8L435.5 122.7L436.0 121.6L436.5 120.3L437.0 118.9L437.5 117.3L438.0 115.6L438.5 113.5L439.0 111.1L439.5 108.8L440.0 106.6L440.5 104.9L441.0 103.8L441.5 102.9L442.0 102.1L442.5 101.5L443.0 101.3L443.5 101.4L444.0 101.9L444.5 102.8L445.0 103.8L445.5 105.0L446.0 106.2L446.5 107.8L447.0 110.0L447.5 112.4L448.0 115.0L448.5 117.4L449.0 119.4L449.5 120.9L450.0 122.4L450.5 123.8L451.0 125.1L451.5 126.0L452.0 126.7L452.5 126.8L453.0 126.9L453.5 127.0L454.0 127.0L454.5 127.1L455.0 127.1L455.5 127.1L456.0 127.1L456.5 127.1L457.0 127.1L457.5 127.0L458.0 127.0L458.5 126.9L459.0 126.8L459.5 126.7L460.0 126.6L460.5 126.5L461.0 126.4L461.5 126.3L462.0 126.1L462.5 126.0L463.0 125.8L463.5 125.6L464.0 125.2L464.5 124.7L465.0 124.2L465.5 123.7L466.0 123.2L466.5 122.8L467.0 122.3L467.5 121.8L468.0 121.3L468.5 120.8L469.0 120.4L469.5 120.1L470.0 120.1L470.5 120.2L471.0 120.3L471.5 120.4L472.0 120.6L472.5 120.8L473.0 121.1L473.5 121.3L474.0 121.6L474.5 122.1L475.0 122.6L475.5 123.1L476.0 123.5L476.5 123.9L477.0 124.1L477.5 124.2L478.0 124.1L478.5 123.8L479.0 123.4L479.5 122.9L480.0 122.2L480.5 121.4L481.0 120.5L481.5 118.7L482.0 115.7L482.5 111.9L483.0 108.0L483.5 103.6L484.0 98.4L484.5 93.0L485.0 88.0L485.5 83.1L486.0 77.9L486.5 73.1L487.0 69.0L487.5 66.0L488.0 63.8L488.5 61.7L489.0 59.9L489.5 58.4L490.0 57.3L490.5 56.8L491.0 56.9L491.5 58.0L492.0 59.9L492.5 62.3L493.0 65.1L493.5 68.0L494.0 71.7L494.5 76.5L495.0 81.9L495.5 87.2L496.0 91.8L496.5 96.5L497.0 101.0L497.5 104.9L498.0 107.7L498.5 110.2L499.0 112.3L499.5 114.1L500.0 115.2L500.5 115.8L501.0 116.2L501.5 116.5L502.0 116.6L502.5 116.4L503.0 115.8L503.5 115.1L504.0 114.2L504.5 113.1L505.0 112.0L505.5 110.0L506.0 107.6L506.5 105.0L507.0 102.7L507.5 101.0L508.0 99.3L508.5 97.7L509.0 96.2L509.5 95.1L510.0 94.6L510.5 94.6L511.0 95.4L511.5 96.8L512.0 98.4L512.5 100.1L513.0 101.7L513.5 103.0L514.0 104.1L514.5 105.3L515.0 106.5L515.5 107.6L516.0 108.6L516.5 109.5L517.0 110.2L517.5 110.5L518.0 110.5L518.5 109.8L519.0 108.5L519.5 106.8L520.0 104.9L520.5 103.0L521.0 101.0L521.5 98.5L522.0 95.9L522.5 93.2L523.0 90.7L523.5 88.6L524.0 86.6L524.5 84.6L525.0 82.6L525.5 80.8L526.0 79.3L526.5 78.4L527.0 78.0L527.5 79.1L528.0 81.9L528.5 85.8L529.0 90.2L529.5 94.5L530.0 98.0L530.5 100.5L531.0 102.7L531.5 104.7L532.0 106.6L532.5 108.4L533.0 110.0L533.5 111.5L534.0 113.0L534.5 114.4L535.0 115.8L535.5 117.1L536.0 118.4L536.5 119.5L537.0 120.6L537.5 121.4L538.0 122.1L538.5 122.7L539.0 123.3L539.5 123.9L540.0 124.4L540.5 124.9L541.0 125.3L541.5 125.7L542.0 126.0L542.5 126.3L543.0 126.6L543.5 126.8L544.0 126.9L544.5 127.1L545.0 127.2L545.5 127.3L546.0 127.4L546.5 127.5L547.0 127.6L547.5 127.7L548.0 127.8L548.5 127.9L549.0 127.9L549.5 128.0L550.0 128.0L550.5 128.0L551.0 128.1L551.5 128.1L552.0 128.1L552.5 128.1L553.0 128.2L553.5 128.2L554.0 128.2L554.5 128.2L555.0 128.2" stroke="#5f88c8" stroke-width="1.6" fill="none" stroke-dasharray="1.35 1.7" stroke-linejoin="round"/>
<path d="M337.0 128.2L337.5 128.1L338.0 128.1L338.5 128.0L339.0 127.9L339.5 127.9L340.0 127.8L340.5 127.8L341.0 127.7L341.5 127.6L342.0 127.6L342.5 127.5L343.0 127.5L343.5 127.4L344.0 127.4L344.5 127.3L345.0 127.3L345.5 127.3L346.0 127.2L346.5 127.2L347.0 127.2L347.5 127.2L348.0 127.2L348.5 127.3L349.0 127.3L349.5 127.4L350.0 127.4L350.5 127.5L351.0 127.6L351.5 127.6L352.0 127.7L352.5 127.7L353.0 127.8L353.5 127.8L354.0 127.9L354.5 127.9L355.0 127.9L355.5 127.9L356.0 127.9L356.5 127.8L357.0 127.8L357.5 127.7L358.0 127.6L358.5 127.5L359.0 127.4L359.5 127.3L360.0 127.2L360.5 127.1L361.0 127.0L361.5 126.8L362.0 126.6L362.5 126.4L363.0 126.2L363.5 126.0L364.0 125.8L364.5 125.6L365.0 125.3L365.5 125.1L366.0 124.8L366.5 124.4L367.0 124.0L367.5 123.6L368.0 123.0L368.5 122.3L369.0 121.5L369.5 120.6L370.0 119.6L370.5 118.5L371.0 117.5L371.5 116.3L372.0 114.9L372.5 113.5L373.0 112.3L373.5 111.5L374.0 110.9L374.5 110.4L375.0 110.0L375.5 109.7L376.0 109.6L376.5 109.7L377.0 110.1L377.5 110.6L378.0 111.3L378.5 112.0L379.0 112.9L379.5 114.2L380.0 115.6L380.5 117.0L381.0 118.3L381.5 119.7L382.0 120.9L382.5 121.9L383.0 122.8L383.5 123.6L384.0 124.3L384.5 124.8L385.0 125.2L385.5 125.6L386.0 125.9L386.5 126.1L387.0 126.3L387.5 126.4L388.0 126.6L388.5 126.7L389.0 126.8L389.5 126.9L390.0 127.0L390.5 127.1L391.0 127.2L391.5 127.3L392.0 127.4L392.5 127.5L393.0 127.5L393.5 127.5L394.0 127.6L394.5 127.6L395.0 127.6L395.5 127.6L396.0 127.5L396.5 127.4L397.0 127.3L397.5 127.1L398.0 126.9L398.5 126.7L399.0 126.5L399.5 126.3L400.0 126.0L400.5 125.8L401.0 125.6L401.5 125.4L402.0 125.3L402.5 125.1L403.0 125.0L403.5 125.0L404.0 124.9L404.5 124.9L405.0 124.8L405.5 124.8L406.0 124.7L406.5 124.7L407.0 124.6L407.5 124.6L408.0 124.6L408.5 124.6L409.0 124.5L409.5 124.5L410.0 124.5L410.5 124.5L411.0 124.5L411.5 124.6L412.0 124.6L412.5 124.8L413.0 124.9L413.5 125.0L414.0 125.2L414.5 125.3L415.0 125.5L415.5 125.7L416.0 125.8L416.5 125.9L417.0 126.1L417.5 126.3L418.0 126.5L418.5 126.7L419.0 126.9L419.5 127.0L420.0 127.1L420.5 127.2L421.0 127.3L421.5 127.3L422.0 127.4L422.5 127.4L423.0 127.4L423.5 127.4L424.0 127.5L424.5 127.5L425.0 127.5L425.5 127.5L426.0 127.5L426.5 127.6L427.0 127.6L427.5 127.6L428.0 127.6L428.5 127.6L429.0 127.6L429.5 127.6L430.0 127.4L430.5 127.1L431.0 126.6L431.5 126.0L432.0 125.3L432.5 124.5L433.0 123.6L433.5 122.3L434.0 120.7L434.5 119.0L435.0 117.1L435.5 115.0L436.0 112.6L436.5 109.7L437.0 106.6L437.5 102.9L438.0 98.2L438.5 93.1L439.0 87.9L439.5 83.1L440.0 78.0L440.5 73.2L441.0 70.0L441.5 68.0L442.0 66.3L442.5 65.4L443.0 65.5L443.5 66.6L444.0 68.4L444.5 70.5L445.0 74.3L445.5 79.6L446.0 85.1L446.5 89.8L447.0 94.1L447.5 98.3L448.0 102.3L448.5 106.2L449.0 110.1L449.5 113.7L450.0 117.0L450.5 120.4L451.0 123.2L451.5 124.6L452.0 125.7L452.5 126.5L453.0 127.0L453.5 127.1L454.0 127.1L454.5 127.1L455.0 127.1L455.5 127.1L456.0 127.1L456.5 127.1L457.0 127.1L457.5 127.0L458.0 127.0L458.5 127.0L459.0 126.9L459.5 126.8L460.0 126.8L460.5 126.7L461.0 126.6L461.5 126.5L462.0 126.4L462.5 126.3L463.0 126.0L463.5 125.7L464.0 125.4L464.5 125.0L465.0 124.6L465.5 124.2L466.0 123.7L466.5 123.3L467.0 122.8L467.5 122.4L468.0 121.9L468.5 121.3L469.0 120.6L469.5 119.9L470.0 119.1L470.5 118.4L471.0 117.8L471.5 117.2L472.0 116.8L472.5 116.6L473.0 116.6L473.5 116.7L474.0 116.7L474.5 116.8L475.0 116.9L475.5 117.1L476.0 117.1L476.5 117.2L477.0 117.2L477.5 117.2L478.0 117.2L478.5 117.2L479.0 117.2L479.5 117.2L480.0 117.2L480.5 117.2L481.0 117.2L481.5 117.2L482.0 117.2L482.5 117.2L483.0 117.2L483.5 117.4L484.0 117.6L484.5 117.9L485.0 118.2L485.5 118.5L486.0 118.8L486.5 119.1L487.0 119.4L487.5 119.8L488.0 120.2L488.5 120.5L489.0 120.8L489.5 121.1L490.0 121.2L490.5 121.2L491.0 121.2L491.5 121.0L492.0 120.7L492.5 120.4L493.0 120.0L493.5 119.6L494.0 119.2L494.5 118.7L495.0 118.1L495.5 117.3L496.0 116.4L496.5 115.4L497.0 114.3L497.5 113.2L498.0 112.0L498.5 110.8L499.0 109.5L499.5 108.0L500.0 106.3L500.5 104.2L501.0 101.4L501.5 98.2L502.0 94.5L502.5 90.5L503.0 85.6L503.5 80.3L504.0 75.0L504.5 69.9L505.0 64.7L505.5 58.7L506.0 51.3L506.5 43.2L507.0 35.6L507.5 29.3L508.0 23.3L508.5 18.2L509.0 14.8L509.5 11.8L510.0 9.6L510.5 9.0L511.0 10.3L511.5 12.9L512.0 16.0L512.5 20.1L513.0 25.7L513.5 31.8L514.0 38.3L514.5 45.6L515.0 52.0L515.5 57.4L516.0 62.3L516.5 65.6L517.0 67.1L517.5 68.3L518.0 69.1L518.5 69.5L519.0 69.7L519.5 69.7L520.0 69.8L520.5 69.9L521.0 70.2L521.5 71.0L522.0 72.0L522.5 73.3L523.0 74.7L523.5 76.0L524.0 77.5L524.5 79.4L525.0 81.3L525.5 82.9L526.0 84.1L526.5 84.4L527.0 83.7L527.5 82.2L528.0 80.3L528.5 78.3L529.0 76.4L529.5 75.0L530.0 73.9L530.5 72.8L531.0 71.7L531.5 70.7L532.0 69.9L532.5 69.4L533.0 69.1L533.5 69.3L534.0 70.2L534.5 71.6L535.0 73.4L535.5 75.4L536.0 77.7L536.5 80.0L537.0 82.9L537.5 86.6L538.0 90.7L538.5 94.8L539.0 98.4L539.5 102.2L540.0 105.8L540.5 109.0L541.0 111.4L541.5 113.5L542.0 115.5L542.5 117.2L543.0 118.7L543.5 120.0L544.0 121.2L544.5 122.4L545.0 123.5L545.5 124.5L546.0 125.4L546.5 126.1L547.0 126.6L547.5 126.8L548.0 127.0L548.5 127.2L549.0 127.3L549.5 127.5L550.0 127.6L550.5 127.7L551.0 127.8L551.5 127.9L552.0 128.0L552.5 128.0L553.0 128.1L553.5 128.1L554.0 128.2L554.5 128.2L555.0 128.2" stroke="#e69d28" stroke-width="1.6" fill="none" stroke-dasharray="4.3 1.8" stroke-linejoin="round"/>
<path d="M330.5 128.0L331.0 128.0L331.5 128.0L332.0 128.0L332.5 127.9L333.0 127.9L333.5 127.9L334.0 127.8L334.5 127.8L335.0 127.7L335.5 127.7L336.0 127.6L336.5 127.5L337.0 127.3L337.5 127.1L338.0 126.9L338.5 126.6L339.0 126.2L339.5 125.9L340.0 125.5L340.5 125.0L341.0 124.5L341.5 123.8L342.0 123.1L342.5 122.3L343.0 121.6L343.5 121.0L344.0 120.4L344.5 119.6L345.0 118.9L345.5 118.2L346.0 117.6L346.5 117.1L347.0 116.7L347.5 116.6L348.0 116.7L348.5 117.0L349.0 117.4L349.5 117.9L350.0 118.5L350.5 119.0L351.0 119.5L351.5 120.0L352.0 120.5L352.5 121.1L353.0 121.7L353.5 122.3L354.0 122.9L354.5 123.4L355.0 123.8L355.5 124.1L356.0 124.3L356.5 124.5L357.0 124.7L357.5 124.9L358.0 125.1L358.5 125.3L359.0 125.5L359.5 125.6L360.0 125.8L360.5 125.9L361.0 126.0L361.5 126.1L362.0 126.2L362.5 126.3L363.0 126.3L363.5 126.4L364.0 126.4L364.5 126.5L365.0 126.5L365.5 126.6L366.0 126.6L366.5 126.7L367.0 126.7L367.5 126.7L368.0 126.8L368.5 126.8L369.0 126.8L369.5 126.8L370.0 126.8L370.5 126.8L371.0 126.8L371.5 126.8L372.0 126.8L372.5 126.8L373.0 126.8L373.5 126.8L374.0 126.8L374.5 126.8L375.0 126.8L375.5 126.8L376.0 126.8L376.5 126.8L377.0 126.8L377.5 126.8L378.0 126.6L378.5 126.2L379.0 125.8L379.5 125.2L380.0 124.6L380.5 124.0L381.0 123.1L381.5 121.7L382.0 120.2L382.5 118.6L383.0 117.1L383.5 116.0L384.0 115.1L384.5 114.2L385.0 113.4L385.5 112.6L386.0 111.9L386.5 111.3L387.0 111.0L387.5 110.8L388.0 111.0L388.5 111.6L389.0 112.5L389.5 113.5L390.0 114.5L390.5 115.6L391.0 117.0L391.5 118.5L392.0 119.7L392.5 120.7L393.0 121.4L393.5 122.2L394.0 122.8L394.5 123.2L395.0 123.4L395.5 123.4L396.0 123.3L396.5 123.2L397.0 123.1L397.5 122.9L398.0 122.8L398.5 122.7L399.0 122.5L399.5 122.4L400.0 122.4L400.5 122.4L401.0 122.6L401.5 122.8L402.0 123.1L402.5 123.4L403.0 123.7L403.5 124.1L404.0 124.4L404.5 124.6L405.0 124.8L405.5 124.8L406.0 124.8L406.5 124.8L407.0 124.8L407.5 124.8L408.0 124.8L408.5 124.8L409.0 124.8L409.5 124.9L410.0 124.9L410.5 124.9L411.0 124.9L411.5 124.9L412.0 124.9L412.5 124.9L413.0 124.9L413.5 124.9L414.0 124.9L414.5 124.9L415.0 125.0L415.5 125.0L416.0 125.1L416.5 125.2L417.0 125.3L417.5 125.4L418.0 125.5L418.5 125.6L419.0 125.7L419.5 125.8L420.0 126.0L420.5 126.1L421.0 126.2L421.5 126.3L422.0 126.4L422.5 126.5L423.0 126.6L423.5 126.7L424.0 126.7L424.5 126.8L425.0 126.9L425.5 127.0L426.0 127.1L426.5 127.2L427.0 127.3L427.5 127.4L428.0 127.4L428.5 127.5L429.0 127.5L429.5 127.6L430.0 127.6L430.5 127.6L431.0 127.4L431.5 126.8L432.0 126.1L432.5 125.1L433.0 124.0L433.5 122.0L434.0 118.9L434.5 115.1L435.0 111.1L435.5 107.2L436.0 102.7L436.5 98.4L437.0 95.3L437.5 93.1L438.0 90.6L438.5 86.4L439.0 75.4L439.5 63.6L440.0 51.7L440.5 39.9L441.0 29.0L441.5 19.4L442.0 12.1L442.5 7.8L443.0 6.0L443.5 7.8L444.0 12.1L444.5 19.4L445.0 29.0L445.5 39.9L446.0 51.7L446.5 63.6L447.0 75.5L447.5 86.5L448.0 89.9L448.5 92.0L449.0 94.3L449.5 96.6L450.0 99.7L450.5 105.5L451.0 112.2L451.5 116.0L452.0 118.8L452.5 121.0L453.0 122.5L453.5 123.6L454.0 124.6L454.5 125.5L455.0 126.1L455.5 126.4L456.0 126.5L456.5 126.5L457.0 126.4L457.5 126.3L458.0 126.2L458.5 126.0L459.0 125.9L459.5 125.7L460.0 125.5L460.5 125.3L461.0 125.1L461.5 124.9L462.0 124.7L462.5 124.4L463.0 124.1L463.5 123.8L464.0 123.4L464.5 123.0L465.0 122.6L465.5 122.2L466.0 121.8L466.5 121.4L467.0 121.0L467.5 120.7L468.0 120.3L468.5 120.0L469.0 119.6L469.5 119.2L470.0 118.8L470.5 118.4L471.0 118.1L471.5 117.9L472.0 117.8L472.5 117.7L473.0 117.7L473.5 117.7L474.0 117.6L474.5 117.6L475.0 117.6L475.5 117.6L476.0 117.6L476.5 117.5L477.0 117.5L477.5 117.4L478.0 117.2L478.5 117.0L479.0 116.7L479.5 116.4L480.0 116.0L480.5 115.6L481.0 115.1L481.5 114.3L482.0 113.5L482.5 112.6L483.0 111.9L483.5 111.3L484.0 110.6L484.5 110.0L485.0 109.5L485.5 109.2L486.0 109.3L486.5 109.5L487.0 109.9L487.5 110.3L488.0 110.6L488.5 110.8L489.0 110.4L489.5 108.9L490.0 106.8L490.5 104.5L491.0 101.8L491.5 98.2L492.0 94.2L492.5 90.0L493.0 85.4L493.5 80.3L494.0 75.1L494.5 70.4L495.0 66.5L495.5 62.7L496.0 58.9L496.5 55.3L497.0 52.4L497.5 50.3L498.0 49.3L498.5 49.7L499.0 51.3L499.5 54.0L500.0 57.3L500.5 61.2L501.0 65.4L501.5 70.0L502.0 77.2L502.5 85.3L503.0 92.0L503.5 96.4L504.0 100.3L504.5 103.8L505.0 106.8L505.5 109.2L506.0 111.0L506.5 112.4L507.0 113.7L507.5 114.8L508.0 115.4L508.5 115.4L509.0 114.8L509.5 113.7L510.0 112.2L510.5 110.6L511.0 109.0L511.5 107.1L512.0 104.8L512.5 102.3L513.0 99.8L513.5 97.7L514.0 96.0L514.5 94.7L515.0 93.4L515.5 92.2L516.0 91.2L516.5 90.5L517.0 90.1L517.5 90.2L518.0 90.5L518.5 91.0L519.0 91.6L519.5 92.3L520.0 93.0L520.5 93.6L521.0 94.1L521.5 94.3L522.0 93.9L522.5 92.6L523.0 90.6L523.5 88.2L524.0 85.8L524.5 83.6L525.0 82.0L525.5 80.7L526.0 79.4L526.5 78.2L527.0 77.2L527.5 76.4L528.0 75.9L528.5 75.9L529.0 76.8L529.5 78.4L530.0 80.5L530.5 83.0L531.0 85.6L531.5 88.0L532.0 90.5L532.5 93.5L533.0 96.7L533.5 100.0L534.0 103.3L534.5 106.5L535.0 109.4L535.5 111.9L536.0 113.8L536.5 115.4L537.0 116.8L537.5 118.0L538.0 119.1L538.5 120.2L539.0 121.3L539.5 122.3L540.0 123.2L540.5 123.9L541.0 124.6L541.5 125.2L542.0 125.7L542.5 126.3L543.0 126.7L543.5 127.0L544.0 127.2L544.5 127.4L545.0 127.6L545.5 127.7L546.0 127.9L546.5 128.0L547.0 128.1L547.5 128.1L548.0 128.2L548.5 128.2L549.0 128.2L549.5 128.2L550.0 128.2L550.5 128.2L551.0 128.2L551.5 128.2L552.0 128.2L552.5 128.2L553.0 128.2L553.5 128.2L554.0 128.2L554.5 128.2L555.0 128.2L555.5 128.2" stroke="#24a02c" stroke-width="1.6" fill="none" stroke-linejoin="round"/>
<path d="M60.0 179.5L60.5 179.5L61.0 179.5L61.5 179.5L62.0 179.5L62.5 179.5L63.0 179.5L63.5 179.5L64.0 179.5L64.5 179.5L65.0 179.5L65.5 179.5L66.0 179.5L66.5 179.5L67.0 179.5L67.5 179.5L68.0 179.5L68.5 179.5L69.0 179.5L69.5 179.5L70.0 179.5L70.5 179.5L71.0 179.5L71.5 179.5L72.0 179.5L72.5 179.5L73.0 179.5L73.5 179.5L74.0 179.5L74.5 179.5L75.0 179.5L75.5 179.5L76.0 179.5L76.5 179.5L77.0 179.5L77.5 179.5L78.0 179.5L78.5 179.5L79.0 179.5L79.5 179.5L80.0 179.5L80.5 179.5L81.0 179.5L81.5 179.5L82.0 179.5L82.5 179.5L83.0 179.5L83.5 179.5L84.0 179.5L84.5 179.5L85.0 179.5L85.5 179.5L86.0 179.5L86.5 179.5L87.0 179.5L87.5 179.5L88.0 179.5L88.5 179.5L89.0 179.5L89.5 179.5L90.0 179.5L90.5 179.5L91.0 179.5L91.5 179.6L92.0 179.6L92.5 179.7L93.0 179.7L93.5 179.8L94.0 179.9L94.5 179.9L95.0 180.0L95.5 180.1L96.0 180.2L96.5 180.4L97.0 180.5L97.5 180.7L98.0 180.9L98.5 181.1L99.0 181.2L99.5 181.4L100.0 181.5L100.5 181.6L101.0 181.7L101.5 181.8L102.0 181.9L102.5 182.0L103.0 182.1L103.5 182.2L104.0 182.3L104.5 182.3L105.0 182.4L105.5 182.4L106.0 182.5L106.5 182.5L107.0 182.5L107.5 182.4L108.0 182.3L108.5 182.2L109.0 182.1L109.5 181.9L110.0 181.8L110.5 181.6L111.0 181.4L111.5 181.2L112.0 181.0L112.5 180.8L113.0 180.5L113.5 180.3L114.0 180.0L114.5 179.7L115.0 179.4L115.5 179.1L116.0 178.8L116.5 178.5L117.0 178.2L117.5 177.9L118.0 177.7L118.5 177.4L119.0 177.1L119.5 176.8L120.0 176.6L120.5 176.4L121.0 176.1L121.5 176.0L122.0 175.8L122.5 175.7L123.0 175.6L123.5 175.4L124.0 175.3L124.5 175.2L125.0 175.1L125.5 175.0L126.0 174.9L126.5 174.9L127.0 174.8L127.5 174.8L128.0 174.7L128.5 174.7L129.0 174.7L129.5 174.8L130.0 174.9L130.5 175.0L131.0 175.1L131.5 175.3L132.0 175.5L132.5 175.7L133.0 175.8L133.5 176.0L134.0 176.2L134.5 176.4L135.0 176.6L135.5 176.8L136.0 177.0L136.5 177.2L137.0 177.4L137.5 177.6L138.0 177.8L138.5 178.0L139.0 178.2L139.5 178.4L140.0 178.6L140.5 178.8L141.0 179.0L141.5 179.2L142.0 179.3L142.5 179.4L143.0 179.5L143.5 179.5L144.0 179.5L144.5 179.5L145.0 179.5L145.5 179.5L146.0 179.5L146.5 179.5L147.0 179.5L147.5 179.5L148.0 179.5L148.5 179.5L149.0 179.5L149.5 179.5L150.0 179.5L150.5 179.5L151.0 179.5L151.5 179.5L152.0 179.5L152.5 179.5L153.0 179.5L153.5 179.5L154.0 179.5L154.5 179.5L155.0 179.5" stroke="#5f88c8" stroke-width="1.6" fill="none" stroke-dasharray="4.3 1.8" stroke-linejoin="round"/>
<path d="M26.0 179.5L26.5 179.5L27.0 179.5L27.5 179.5L28.0 179.5L28.5 179.5L29.0 179.5L29.5 179.5L30.0 179.5L30.5 179.5L31.0 179.5L31.5 179.5L32.0 179.5L32.5 179.5L33.0 179.5L33.5 179.5L34.0 179.5L34.5 179.5L35.0 179.5L35.5 179.5L36.0 179.5L36.5 179.5L37.0 179.5L37.5 179.5L38.0 179.5L38.5 179.5L39.0 179.5L39.5 179.5L40.0 179.5L40.5 179.5L41.0 179.5L41.5 179.5L42.0 179.5L42.5 179.5L43.0 179.5L43.5 179.5L44.0 179.5L44.5 179.5L45.0 179.5L45.5 179.5L46.0 179.5L46.5 179.5L47.0 179.5L47.5 179.5L48.0 179.5L48.5 179.5L49.0 179.5L49.5 179.5L50.0 179.5L50.5 179.5L51.0 179.5L51.5 179.5L52.0 179.5L52.5 179.5L53.0 179.5L53.5 179.5L54.0 179.5L54.5 179.5L55.0 179.5L55.5 179.5L56.0 179.5L56.5 179.5L57.0 179.5L57.5 179.5L58.0 179.5L58.5 179.5L59.0 179.5L59.5 179.5L60.0 179.5L60.5 179.5L61.0 179.5L61.5 179.5L62.0 179.5L62.5 179.5L63.0 179.5L63.5 179.5L64.0 179.5L64.5 179.5L65.0 179.5L65.5 179.5L66.0 179.5L66.5 179.5L67.0 179.5L67.5 179.5L68.0 179.5L68.5 179.5L69.0 179.5L69.5 179.5L70.0 179.5L70.5 179.5L71.0 179.5L71.5 179.5L72.0 179.5L72.5 179.5L73.0 179.5L73.5 179.5L74.0 179.5L74.5 179.5L75.0 179.5L75.5 179.5L76.0 179.5L76.5 179.5L77.0 179.5L77.5 179.5L78.0 179.5L78.5 179.5L79.0 179.5L79.5 179.5L80.0 179.5L80.5 179.5L81.0 179.5L81.5 179.5L82.0 179.5L82.5 179.5L83.0 179.5L83.5 179.5L84.0 179.5L84.5 179.5L85.0 179.5L85.5 179.5L86.0 179.4L86.5 179.4L87.0 179.3L87.5 179.2L88.0 179.2L88.5 179.1L89.0 178.9L89.5 178.8L90.0 178.7L90.5 178.6L91.0 178.5L91.5 178.4L92.0 178.3L92.5 178.2L93.0 178.1L93.5 178.0L94.0 177.9L94.5 177.7L95.0 177.6L95.5 177.5L96.0 177.3L96.5 177.2L97.0 177.1L97.5 177.0L98.0 176.9L98.5 176.8L99.0 176.7L99.5 176.7L100.0 176.6L100.5 176.6L101.0 176.6L101.5 176.7L102.0 176.8L102.5 176.9L103.0 177.0L103.5 177.2L104.0 177.4L104.5 177.6L105.0 177.9L105.5 178.1L106.0 178.3L106.5 178.6L107.0 178.8L107.5 179.1L108.0 179.3L108.5 179.6L109.0 179.8L109.5 180.1L110.0 180.4L110.5 180.7L111.0 181.0L111.5 181.3L112.0 181.6L112.5 181.8L113.0 182.1L113.5 182.3L114.0 182.5L114.5 182.6L115.0 182.8L115.5 183.0L116.0 183.1L116.5 183.2L117.0 183.4L117.5 183.5L118.0 183.6L118.5 183.7L119.0 183.7L119.5 183.8L120.0 183.8L120.5 183.8L121.0 183.7L121.5 183.7L122.0 183.6L122.5 183.5L123.0 183.3L123.5 183.2L124.0 183.0L124.5 182.9L125.0 182.7L125.5 182.5L126.0 182.3L126.5 182.2L127.0 182.0L127.5 181.8L128.0 181.6L128.5 181.3L129.0 181.1L129.5 180.8L130.0 180.5L130.5 180.3L131.0 180.0L131.5 179.8L132.0 179.6L132.5 179.5L133.0 179.4L133.5 179.3L134.0 179.3L134.5 179.3L135.0 179.3L135.5 179.3L136.0 179.3L136.5 179.3L137.0 179.3L137.5 179.3L138.0 179.3L138.5 179.3L139.0 179.3L139.5 179.3L140.0 179.3L140.5 179.3L141.0 179.4L141.5 179.4L142.0 179.4L142.5 179.4L143.0 179.4L143.5 179.4L144.0 179.5L144.5 179.5L145.0 179.5" stroke="#e69d28" stroke-width="1.6" fill="none" stroke-dasharray="4.3 1.8" stroke-linejoin="round"/>
<path d="M26.0 179.5L26.5 179.5L27.0 179.5L27.5 179.5L28.0 179.5L28.5 179.5L29.0 179.5L29.5 179.5L30.0 179.5L30.5 179.5L31.0 179.5L31.5 179.5L32.0 179.5L32.5 179.5L33.0 179.5L33.5 179.5L34.0 179.5L34.5 179.5L35.0 179.5L35.5 179.5L36.0 179.5L36.5 179.5L37.0 179.5L37.5 179.5L38.0 179.5L38.5 179.5L39.0 179.5L39.5 179.5L40.0 179.5L40.5 179.5L41.0 179.5L41.5 179.5L42.0 179.5L42.5 179.5L43.0 179.5L43.5 179.5L44.0 179.5L44.5 179.5L45.0 179.5L45.5 179.5L46.0 179.5L46.5 179.5L47.0 179.5L47.5 179.5L48.0 179.5L48.5 179.5L49.0 179.5L49.5 179.5L50.0 179.5L50.5 179.5L51.0 179.5L51.5 179.5L52.0 179.5L52.5 179.5L53.0 179.5L53.5 179.5L54.0 179.5L54.5 179.5L55.0 179.5L55.5 179.5L56.0 179.5L56.5 179.5L57.0 179.5L57.5 179.5L58.0 179.5L58.5 179.5L59.0 179.5L59.5 179.5L60.0 179.5L60.5 179.5L61.0 179.5L61.5 179.5L62.0 179.5L62.5 179.5L63.0 179.5L63.5 179.5L64.0 179.5L64.5 179.5L65.0 179.5L65.5 179.5L66.0 179.5L66.5 179.5L67.0 179.5L67.5 179.5L68.0 179.5L68.5 179.5L69.0 179.5L69.5 179.5L70.0 179.5L70.5 179.5L71.0 179.5L71.5 179.5L72.0 179.5L72.5 179.5L73.0 179.5L73.5 179.5L74.0 179.5L74.5 179.5L75.0 179.5L75.5 179.5L76.0 179.5L76.5 179.5L77.0 179.5L77.5 179.5L78.0 179.5L78.5 179.5L79.0 179.5L79.5 179.5L80.0 179.5L80.5 179.5L81.0 179.5L81.5 179.6L82.0 179.6L82.5 179.7L83.0 179.7L83.5 179.8L84.0 179.9L84.5 179.9L85.0 180.0L85.5 180.1L86.0 180.2L86.5 180.3L87.0 180.4L87.5 180.5L88.0 180.6L88.5 180.7L89.0 180.9L89.5 181.1L90.0 181.3L90.5 181.5L91.0 181.7L91.5 181.9L92.0 182.2L92.5 182.4L93.0 182.7L93.5 182.9L94.0 183.1L94.5 183.3L95.0 183.4L95.5 183.6L96.0 183.7L96.5 183.7L97.0 183.8L97.5 183.8L98.0 183.7L98.5 183.6L99.0 183.5L99.5 183.4L100.0 183.3L100.5 183.1L101.0 182.9L101.5 182.7L102.0 182.5L102.5 182.2L103.0 182.0L103.5 181.8L104.0 181.5L104.5 181.2L105.0 181.0L105.5 180.7L106.0 180.5L106.5 180.2L107.0 180.0L107.5 179.7L108.0 179.5L108.5 179.2L109.0 179.0L109.5 178.7L110.0 178.4L110.5 178.1L111.0 177.7L111.5 177.4L112.0 177.1L112.5 176.8L113.0 176.5L113.5 176.2L114.0 176.0L114.5 175.8L115.0 175.6L115.5 175.5L116.0 175.4L116.5 175.3L117.0 175.3L117.5 175.4L118.0 175.4L118.5 175.5L119.0 175.5L119.5 175.6L120.0 175.7L120.5 175.8L121.0 175.9L121.5 176.0L122.0 176.2L122.5 176.3L123.0 176.4L123.5 176.5L124.0 176.6L124.5 176.7L125.0 176.8L125.5 177.0L126.0 177.1L126.5 177.3L127.0 177.4L127.5 177.6L128.0 177.7L128.5 177.8L129.0 177.9L129.5 178.0L130.0 178.1L130.5 178.2L131.0 178.2L131.5 178.2L132.0 178.1L132.5 178.1L133.0 178.0L133.5 178.0L134.0 177.9L134.5 177.8L135.0 177.8L135.5 177.7L136.0 177.7L136.5 177.7L137.0 177.7L137.5 177.7L138.0 177.6L138.5 177.6L139.0 177.6L139.5 177.6L140.0 177.6L140.5 177.6L141.0 177.6L141.5 177.7L142.0 177.9L142.5 178.1L143.0 178.4L143.5 178.8L144.0 179.2L144.5 179.6L145.0 180.0L145.5 180.5L146.0 180.9L146.5 181.5L147.0 182.0L147.5 182.6L148.0 183.3L148.5 183.9L149.0 184.6L149.5 185.3L150.0 186.1L150.5 186.9L151.0 187.8L151.5 188.8L152.0 189.9L152.5 191.0L153.0 192.2L153.5 193.4L154.0 194.6L154.5 195.8L155.0 196.9L155.5 197.9L156.0 198.9L156.5 199.7L157.0 200.3L157.5 200.8L158.0 201.1L158.5 201.1L159.0 200.8L159.5 200.3L160.0 199.6L160.5 198.6L161.0 197.4L161.5 196.2L162.0 194.8L162.5 193.4L163.0 191.9L163.5 190.3L164.0 188.4L164.5 186.4L165.0 184.2L165.5 181.8L166.0 179.4L166.5 176.7L167.0 173.8L167.5 170.8L168.0 167.8L168.5 165.0L169.0 162.4L169.5 160.2L170.0 158.2L170.5 156.3L171.0 154.6L171.5 152.9L172.0 151.5L172.5 150.4L173.0 149.7L173.5 149.4L174.0 149.5L174.5 150.1L175.0 151.0L175.5 152.2L176.0 153.7L176.5 155.2L177.0 156.9L177.5 158.4L178.0 160.0L178.5 161.6L179.0 163.3L179.5 165.0L180.0 166.9L180.5 168.8L181.0 170.6L181.5 172.5L182.0 174.2L182.5 175.8L183.0 177.2L183.5 178.4L184.0 179.4L184.5 180.3L185.0 181.0L185.5 181.8L186.0 182.5L186.5 183.2L187.0 183.7L187.5 184.3L188.0 184.7L188.5 185.1L189.0 185.3L189.5 185.4L190.0 185.4L190.5 185.4L191.0 185.2L191.5 185.1L192.0 184.8L192.5 184.6L193.0 184.3L193.5 184.0L194.0 183.7L194.5 183.3L195.0 183.0L195.5 182.7L196.0 182.5L196.5 182.2L197.0 182.0L197.5 181.8L198.0 181.6L198.5 181.4L199.0 181.2L199.5 181.1L200.0 180.9L200.5 180.7L201.0 180.5L201.5 180.3L202.0 180.2L202.5 180.0L203.0 179.9L203.5 179.8L204.0 179.7L204.5 179.6L205.0 179.6L205.5 179.5L206.0 179.5L206.5 179.5L207.0 179.5L207.5 179.5L208.0 179.5L208.5 179.5L209.0 179.5L209.5 179.5L210.0 179.5L210.5 179.5L211.0 179.5L211.5 179.5L212.0 179.5L212.5 179.5L213.0 179.5L213.5 179.5L214.0 179.5L214.5 179.5L215.0 179.5" stroke="#e69d28" stroke-width="1.6" fill="none" stroke-linejoin="round"/>
<path d="M25.6 179.5H251" stroke="#ec6b46" stroke-width="1.6" fill="none"/>
<path d="M60.0 228.8L60.5 228.8L61.0 228.8L61.5 228.8L62.0 228.8L62.5 228.8L63.0 228.8L63.5 228.8L64.0 228.8L64.5 228.8L65.0 228.8L65.5 228.8L66.0 228.8L66.5 228.8L67.0 228.8L67.5 228.8L68.0 228.8L68.5 228.8L69.0 228.8L69.5 228.8L70.0 228.8L70.5 228.8L71.0 228.8L71.5 228.8L72.0 228.8L72.5 228.8L73.0 228.8L73.5 228.8L74.0 228.8L74.5 228.8L75.0 228.8L75.5 228.8L76.0 228.8L76.5 228.8L77.0 228.8L77.5 228.8L78.0 228.8L78.5 228.8L79.0 228.8L79.5 228.8L80.0 228.8L80.5 228.8L81.0 228.8L81.5 228.8L82.0 228.8L82.5 228.8L83.0 228.8L83.5 228.8L84.0 228.8L84.5 228.8L85.0 228.8L85.5 228.8L86.0 228.8L86.5 228.8L87.0 228.8L87.5 228.8L88.0 228.8L88.5 228.8L89.0 228.8L89.5 228.8L90.0 228.8L90.5 228.8L91.0 228.8L91.5 228.8L92.0 228.8L92.5 228.8L93.0 228.8L93.5 228.8L94.0 228.8L94.5 228.8L95.0 228.8L95.5 228.8L96.0 228.8L96.5 228.8L97.0 228.8L97.5 228.8L98.0 228.8L98.5 228.8L99.0 228.8L99.5 228.8L100.0 228.8L100.5 228.8L101.0 228.8L101.5 228.7L102.0 228.7L102.5 228.6L103.0 228.5L103.5 228.4L104.0 228.3L104.5 228.2L105.0 228.1L105.5 228.1L106.0 228.0L106.5 227.9L107.0 227.8L107.5 227.7L108.0 227.6L108.5 227.6L109.0 227.5L109.5 227.5L110.0 227.5L110.5 227.6L111.0 227.6L111.5 227.7L112.0 227.8L112.5 228.0L113.0 228.2L113.5 228.4L114.0 228.6L114.5 228.8L115.0 229.0L115.5 229.2L116.0 229.4L116.5 229.6L117.0 229.7L117.5 229.9L118.0 230.0L118.5 230.1L119.0 230.2L119.5 230.3L120.0 230.4L120.5 230.5L121.0 230.6L121.5 230.7L122.0 230.7L122.5 230.8L123.0 230.9L123.5 230.9L124.0 231.0L124.5 231.0L125.0 231.1L125.5 231.1L126.0 231.1L126.5 231.1L127.0 231.0L127.5 231.0L128.0 230.9L128.5 230.8L129.0 230.7L129.5 230.6L130.0 230.4L130.5 230.3L131.0 230.2L131.5 230.0L132.0 229.9L132.5 229.8L133.0 229.7L133.5 229.6L134.0 229.5L134.5 229.4L135.0 229.4L135.5 229.3L136.0 229.2L136.5 229.2L137.0 229.1L137.5 229.0L138.0 229.0L138.5 228.9L139.0 228.9L139.5 228.8L140.0 228.8" stroke="#5f88c8" stroke-width="1.6" fill="none" stroke-dasharray="4.3 1.8" stroke-linejoin="round"/>
<path d="M60.0 228.8L60.5 228.8L61.0 228.8L61.5 228.8L62.0 228.8L62.5 228.8L63.0 228.8L63.5 228.8L64.0 228.8L64.5 228.8L65.0 228.8L65.5 228.8L66.0 228.8L66.5 228.8L67.0 228.8L67.5 228.8L68.0 228.8L68.5 228.8L69.0 228.8L69.5 228.8L70.0 228.8L70.5 228.8L71.0 228.8L71.5 228.8L72.0 228.8L72.5 228.8L73.0 228.8L73.5 228.8L74.0 228.8L74.5 228.8L75.0 228.8L75.5 228.8L76.0 228.8L76.5 228.8L77.0 228.8L77.5 228.8L78.0 228.8L78.5 228.8L79.0 228.8L79.5 228.8L80.0 228.8L80.5 228.8L81.0 228.8L81.5 228.8L82.0 228.8L82.5 228.8L83.0 228.8L83.5 228.8L84.0 228.8L84.5 228.8L85.0 228.8L85.5 228.8L86.0 228.8L86.5 228.8L87.0 228.8L87.5 228.8L88.0 228.8L88.5 228.8L89.0 228.8L89.5 228.8L90.0 228.8L90.5 228.8L91.0 228.8L91.5 228.8L92.0 228.8L92.5 228.8L93.0 228.8L93.5 228.8L94.0 228.8L94.5 228.8L95.0 228.8L95.5 228.8L96.0 228.8L96.5 228.8L97.0 228.8L97.5 228.8L98.0 228.8L98.5 228.8L99.0 228.8L99.5 228.8L100.0 228.8L100.5 228.8L101.0 228.8L101.5 228.7L102.0 228.7L102.5 228.6L103.0 228.6L103.5 228.5L104.0 228.5L104.5 228.4L105.0 228.3L105.5 228.2L106.0 228.2L106.5 228.1L107.0 228.0L107.5 227.9L108.0 227.8L108.5 227.8L109.0 227.7L109.5 227.7L110.0 227.6L110.5 227.6L111.0 227.5L111.5 227.5L112.0 227.5L112.5 227.5L113.0 227.6L113.5 227.6L114.0 227.7L114.5 227.7L115.0 227.8L115.5 227.9L116.0 228.0L116.5 228.1L117.0 228.2L117.5 228.3L118.0 228.3L118.5 228.4L119.0 228.4L119.5 228.5L120.0 228.5L120.5 228.5L121.0 228.5L121.5 228.5L122.0 228.5L122.5 228.5L123.0 228.4L123.5 228.4L124.0 228.4L124.5 228.4L125.0 228.3L125.5 228.3L126.0 228.3L126.5 228.3L127.0 228.3L127.5 228.2L128.0 228.2L128.5 228.2L129.0 228.2L129.5 228.2L130.0 228.2L130.5 228.2L131.0 228.2L131.5 228.2L132.0 228.2L132.5 228.2L133.0 228.3L133.5 228.3L134.0 228.3L134.5 228.3L135.0 228.4L135.5 228.4L136.0 228.4L136.5 228.5L137.0 228.5L137.5 228.6L138.0 228.6L138.5 228.7L139.0 228.7L139.5 228.7L140.0 228.8" stroke="#e69d28" stroke-width="1.6" fill="none" stroke-dasharray="4.3 1.8" stroke-linejoin="round"/>
<path d="M26.0 228.8L26.5 228.8L27.0 228.8L27.5 228.8L28.0 228.8L28.5 228.8L29.0 228.8L29.5 228.8L30.0 228.8L30.5 228.8L31.0 228.8L31.5 228.8L32.0 228.8L32.5 228.8L33.0 228.8L33.5 228.8L34.0 228.8L34.5 228.8L35.0 228.8L35.5 228.8L36.0 228.8L36.5 228.8L37.0 228.8L37.5 228.8L38.0 228.8L38.5 228.8L39.0 228.8L39.5 228.8L40.0 228.8L40.5 228.8L41.0 228.8L41.5 228.8L42.0 228.8L42.5 228.8L43.0 228.8L43.5 228.8L44.0 228.8L44.5 228.8L45.0 228.8L45.5 228.8L46.0 228.8L46.5 228.8L47.0 228.8L47.5 228.8L48.0 228.8L48.5 228.8L49.0 228.8L49.5 228.8L50.0 228.8L50.5 228.8L51.0 228.8L51.5 228.8L52.0 228.8L52.5 228.8L53.0 228.8L53.5 228.8L54.0 228.8L54.5 228.8L55.0 228.8L55.5 228.8L56.0 228.8L56.5 228.8L57.0 228.8L57.5 228.8L58.0 228.8L58.5 228.8L59.0 228.8L59.5 228.8L60.0 228.8L60.5 228.8L61.0 228.8L61.5 228.8L62.0 228.8L62.5 228.8L63.0 228.8L63.5 228.8L64.0 228.8L64.5 228.8L65.0 228.8L65.5 228.8L66.0 228.8L66.5 228.8L67.0 228.8L67.5 228.8L68.0 228.8L68.5 228.8L69.0 228.8L69.5 228.8L70.0 228.8L70.5 228.8L71.0 228.8L71.5 228.8L72.0 228.8L72.5 228.8L73.0 228.8L73.5 228.8L74.0 228.8L74.5 228.8L75.0 228.8L75.5 228.8L76.0 228.8L76.5 228.8L77.0 228.8L77.5 228.8L78.0 228.8L78.5 228.8L79.0 228.8L79.5 228.8L80.0 228.8L80.5 228.8L81.0 228.8L81.5 228.8L82.0 228.8L82.5 228.8L83.0 228.8L83.5 228.8L84.0 228.8L84.5 228.8L85.0 228.8L85.5 228.8L86.0 228.8L86.5 228.8L87.0 228.8L87.5 228.8L88.0 228.8L88.5 228.7L89.0 228.7L89.5 228.7L90.0 228.7L90.5 228.7L91.0 228.6L91.5 228.6L92.0 228.6L92.5 228.6L93.0 228.5L93.5 228.5L94.0 228.5L94.5 228.4L95.0 228.4L95.5 228.4L96.0 228.3L96.5 228.3L97.0 228.2L97.5 228.2L98.0 228.2L98.5 228.1L99.0 228.1L99.5 228.0L100.0 228.0L100.5 227.9L101.0 227.9L101.5 227.8L102.0 227.7L102.5 227.6L103.0 227.5L103.5 227.4L104.0 227.3L104.5 227.1L105.0 227.0L105.5 226.9L106.0 226.7L106.5 226.6L107.0 226.5L107.5 226.4L108.0 226.2L108.5 226.1L109.0 226.0L109.5 225.9L110.0 225.8L110.5 225.8L111.0 225.7L111.5 225.7L112.0 225.6L112.5 225.6L113.0 225.6L113.5 225.7L114.0 225.7L114.5 225.8L115.0 225.9L115.5 226.0L116.0 226.1L116.5 226.2L117.0 226.3L117.5 226.4L118.0 226.6L118.5 226.7L119.0 226.9L119.5 227.0L120.0 227.1L120.5 227.2L121.0 227.3L121.5 227.4L122.0 227.5L122.5 227.6L123.0 227.6L123.5 227.7L124.0 227.8L124.5 227.8L125.0 227.9L125.5 228.0L126.0 228.0L126.5 228.1L127.0 228.2L127.5 228.2L128.0 228.3L128.5 228.3L129.0 228.3L129.5 228.4L130.0 228.4L130.5 228.4L131.0 228.4L131.5 228.4L132.0 228.3L132.5 228.2L133.0 228.1L133.5 227.9L134.0 227.7L134.5 227.5L135.0 227.3L135.5 227.1L136.0 226.9L136.5 226.6L137.0 226.4L137.5 226.1L138.0 225.9L138.5 225.6L139.0 225.4L139.5 225.2L140.0 225.0L140.5 224.8L141.0 224.6L141.5 224.4L142.0 224.2L142.5 224.0L143.0 223.7L143.5 223.5L144.0 223.3L144.5 223.1L145.0 222.9L145.5 222.8L146.0 222.6L146.5 222.5L147.0 222.4L147.5 222.3L148.0 222.3L148.5 222.4L149.0 222.5L149.5 222.7L150.0 222.9L150.5 223.2L151.0 223.6L151.5 224.0L152.0 224.4L152.5 224.9L153.0 225.5L153.5 226.0L154.0 226.7L154.5 227.3L155.0 228.0L155.5 228.8L156.0 229.8L156.5 231.1L157.0 232.6L157.5 234.5L158.0 236.5L158.5 238.6L159.0 240.8L159.5 242.8L160.0 244.7L160.5 246.4L161.0 247.9L161.5 249.2L162.0 250.5L162.5 251.7L163.0 252.9L163.5 254.0L164.0 254.9L164.5 255.7L165.0 256.4L165.5 256.8L166.0 256.9L166.5 256.8L167.0 256.4L167.5 255.8L168.0 255.0L168.5 254.1L169.0 253.0L169.5 251.8L170.0 250.6L170.5 249.3L171.0 247.9L171.5 246.3L172.0 244.6L172.5 242.5L173.0 240.3L173.5 238.0L174.0 235.7L174.5 233.3L175.0 231.0L175.5 228.8L176.0 226.7L176.5 224.5L177.0 222.3L177.5 220.1L178.0 218.1L178.5 216.2L179.0 214.6L179.5 213.1L180.0 211.8L180.5 210.6L181.0 209.4L181.5 208.3L182.0 207.3L182.5 206.5L183.0 205.8L183.5 205.4L184.0 205.3L184.5 205.5L185.0 205.9L185.5 206.6L186.0 207.5L186.5 208.6L187.0 209.7L187.5 210.8L188.0 211.9L188.5 213.0L189.0 214.1L189.5 215.3L190.0 216.5L190.5 217.8L191.0 219.1L191.5 220.3L192.0 221.4L192.5 222.4L193.0 223.3L193.5 223.9L194.0 224.4L194.5 224.9L195.0 225.3L195.5 225.8L196.0 226.2L196.5 226.5L197.0 226.9L197.5 227.2L198.0 227.5L198.5 227.8L199.0 228.1L199.5 228.3L200.0 228.4L200.5 228.6L201.0 228.7L201.5 228.8L202.0 228.8L202.5 228.8L203.0 228.8L203.5 228.8L204.0 228.8L204.5 228.8L205.0 228.8L205.5 228.8L206.0 228.8L206.5 228.8L207.0 228.8L207.5 228.8L208.0 228.8L208.5 228.8L209.0 228.8L209.5 228.8L210.0 228.8L210.5 228.8L211.0 228.8L211.5 228.8L212.0 228.8L212.5 228.8L213.0 228.8L213.5 228.8L214.0 228.8L214.5 228.8L215.0 228.8" stroke="#e69d28" stroke-width="1.6" fill="none" stroke-linejoin="round"/>
<path d="M25.6 228.8H251" stroke="#ec6b46" stroke-width="1.6" fill="none"/>
<path d="M60.0 293.5L60.5 293.5L61.0 293.5L61.5 293.5L62.0 293.5L62.5 293.5L63.0 293.5L63.5 293.5L64.0 293.5L64.5 293.5L65.0 293.5L65.5 293.5L66.0 293.5L66.5 293.5L67.0 293.5L67.5 293.5L68.0 293.5L68.5 293.5L69.0 293.5L69.5 293.5L70.0 293.5L70.5 293.5L71.0 293.5L71.5 293.5L72.0 293.5L72.5 293.5L73.0 293.5L73.5 293.5L74.0 293.5L74.5 293.5L75.0 293.5L75.5 293.5L76.0 293.5L76.5 293.5L77.0 293.5L77.5 293.5L78.0 293.5L78.5 293.5L79.0 293.5L79.5 293.5L80.0 293.5L80.5 293.5L81.0 293.5L81.5 293.5L82.0 293.5L82.5 293.5L83.0 293.5L83.5 293.5L84.0 293.5L84.5 293.5L85.0 293.5L85.5 293.5L86.0 293.5L86.5 293.5L87.0 293.5L87.5 293.5L88.0 293.5L88.5 293.5L89.0 293.5L89.5 293.5L90.0 293.5L90.5 293.5L91.0 293.5L91.5 293.5L92.0 293.5L92.5 293.5L93.0 293.5L93.5 293.5L94.0 293.5L94.5 293.5L95.0 293.5L95.5 293.5L96.0 293.5L96.5 293.5L97.0 293.5L97.5 293.5L98.0 293.5L98.5 293.5L99.0 293.5L99.5 293.5L100.0 293.6L100.5 293.6L101.0 293.6L101.5 293.6L102.0 293.6L102.5 293.6L103.0 293.6L103.5 293.6L104.0 293.6L104.5 293.6L105.0 293.6L105.5 293.6L106.0 293.6L106.5 293.5L107.0 293.5L107.5 293.5L108.0 293.4L108.5 293.4L109.0 293.3L109.5 293.3L110.0 293.2L110.5 293.1L111.0 293.1L111.5 293.0L112.0 293.0L112.5 292.9L113.0 292.9L113.5 292.9L114.0 292.8L114.5 292.8L115.0 292.8L115.5 292.8L116.0 292.8L116.5 292.8L117.0 292.8L117.5 292.8L118.0 292.9L118.5 292.9L119.0 292.9L119.5 292.9L120.0 293.0L120.5 293.0L121.0 293.0L121.5 293.1L122.0 293.1L122.5 293.2L123.0 293.2L123.5 293.3L124.0 293.4L124.5 293.4L125.0 293.5" stroke="#5f88c8" stroke-width="1.6" fill="none" stroke-dasharray="4.3 1.8" stroke-linejoin="round"/>
<path d="M60.0 293.5L60.5 293.5L61.0 293.5L61.5 293.5L62.0 293.5L62.5 293.5L63.0 293.5L63.5 293.5L64.0 293.5L64.5 293.5L65.0 293.5L65.5 293.5L66.0 293.5L66.5 293.5L67.0 293.5L67.5 293.5L68.0 293.5L68.5 293.5L69.0 293.5L69.5 293.5L70.0 293.5L70.5 293.5L71.0 293.5L71.5 293.5L72.0 293.5L72.5 293.5L73.0 293.5L73.5 293.5L74.0 293.5L74.5 293.5L75.0 293.5L75.5 293.5L76.0 293.5L76.5 293.5L77.0 293.5L77.5 293.5L78.0 293.5L78.5 293.5L79.0 293.5L79.5 293.5L80.0 293.5L80.5 293.5L81.0 293.5L81.5 293.6L82.0 293.6L82.5 293.6L83.0 293.7L83.5 293.8L84.0 293.8L84.5 293.9L85.0 294.0L85.5 294.0L86.0 294.1L86.5 294.1L87.0 294.2L87.5 294.3L88.0 294.3L88.5 294.3L89.0 294.4L89.5 294.4L90.0 294.5L90.5 294.5L91.0 294.6L91.5 294.6L92.0 294.6L92.5 294.7L93.0 294.7L93.5 294.7L94.0 294.8L94.5 294.8L95.0 294.8L95.5 294.8L96.0 294.8L96.5 294.7L97.0 294.7L97.5 294.7L98.0 294.6L98.5 294.5L99.0 294.4L99.5 294.3L100.0 294.2L100.5 294.1L101.0 294.0L101.5 293.9L102.0 293.7L102.5 293.6L103.0 293.5L103.5 293.3L104.0 293.2L104.5 293.0L105.0 292.8L105.5 292.6L106.0 292.4L106.5 292.2L107.0 291.9L107.5 291.7L108.0 291.5L108.5 291.3L109.0 291.1L109.5 290.9L110.0 290.8L110.5 290.7L111.0 290.6L111.5 290.5L112.0 290.5L112.5 290.4L113.0 290.3L113.5 290.3L114.0 290.2L114.5 290.2L115.0 290.1L115.5 290.1L116.0 290.0L116.5 290.0L117.0 290.0L117.5 290.0L118.0 290.1L118.5 290.1L119.0 290.2L119.5 290.3L120.0 290.4L120.5 290.6L121.0 290.7L121.5 290.9L122.0 291.1L122.5 291.3L123.0 291.4L123.5 291.6L124.0 291.7L124.5 291.9L125.0 292.0L125.5 292.1L126.0 292.2L126.5 292.4L127.0 292.5L127.5 292.6L128.0 292.7L128.5 292.8L129.0 293.0L129.5 293.1L130.0 293.2L130.5 293.3L131.0 293.3L131.5 293.4L132.0 293.4L132.5 293.5L133.0 293.5L133.5 293.5L134.0 293.5L134.5 293.5L135.0 293.5L135.5 293.5L136.0 293.5L136.5 293.5L137.0 293.5L137.5 293.5L138.0 293.5L138.5 293.5L139.0 293.5L139.5 293.5L140.0 293.5L140.5 293.5L141.0 293.5L141.5 293.5L142.0 293.5L142.5 293.5L143.0 293.5L143.5 293.5L144.0 293.5L144.5 293.5L145.0 293.5L145.5 293.5L146.0 293.5L146.5 293.5L147.0 293.5L147.5 293.5L148.0 293.5L148.5 293.5L149.0 293.5L149.5 293.5L150.0 293.5" stroke="#e69d28" stroke-width="1.6" fill="none" stroke-dasharray="4.3 1.8" stroke-linejoin="round"/>
<path d="M26.0 293.5L26.5 293.5L27.0 293.5L27.5 293.5L28.0 293.5L28.5 293.5L29.0 293.5L29.5 293.5L30.0 293.5L30.5 293.5L31.0 293.5L31.5 293.5L32.0 293.5L32.5 293.5L33.0 293.5L33.5 293.5L34.0 293.5L34.5 293.5L35.0 293.5L35.5 293.5L36.0 293.5L36.5 293.5L37.0 293.5L37.5 293.5L38.0 293.5L38.5 293.5L39.0 293.5L39.5 293.5L40.0 293.5L40.5 293.5L41.0 293.5L41.5 293.5L42.0 293.5L42.5 293.5L43.0 293.5L43.5 293.5L44.0 293.5L44.5 293.5L45.0 293.5L45.5 293.5L46.0 293.5L46.5 293.5L47.0 293.5L47.5 293.5L48.0 293.5L48.5 293.5L49.0 293.5L49.5 293.5L50.0 293.5L50.5 293.5L51.0 293.5L51.5 293.5L52.0 293.5L52.5 293.5L53.0 293.5L53.5 293.5L54.0 293.5L54.5 293.5L55.0 293.5L55.5 293.5L56.0 293.5L56.5 293.5L57.0 293.5L57.5 293.5L58.0 293.5L58.5 293.5L59.0 293.5L59.5 293.5L60.0 293.5L60.5 293.5L61.0 293.5L61.5 293.5L62.0 293.5L62.5 293.5L63.0 293.5L63.5 293.5L64.0 293.5L64.5 293.5L65.0 293.5L65.5 293.5L66.0 293.5L66.5 293.5L67.0 293.5L67.5 293.5L68.0 293.5L68.5 293.5L69.0 293.5L69.5 293.5L70.0 293.5L70.5 293.5L71.0 293.5L71.5 293.5L72.0 293.5L72.5 293.5L73.0 293.5L73.5 293.5L74.0 293.5L74.5 293.5L75.0 293.5L75.5 293.5L76.0 293.5L76.5 293.4L77.0 293.4L77.5 293.3L78.0 293.3L78.5 293.2L79.0 293.1L79.5 293.0L80.0 292.9L80.5 292.8L81.0 292.7L81.5 292.6L82.0 292.5L82.5 292.4L83.0 292.3L83.5 292.2L84.0 292.2L84.5 292.1L85.0 292.0L85.5 291.9L86.0 291.9L86.5 291.8L87.0 291.7L87.5 291.6L88.0 291.6L88.5 291.5L89.0 291.4L89.5 291.3L90.0 291.3L90.5 291.2L91.0 291.1L91.5 291.1L92.0 291.0L92.5 291.0L93.0 290.9L93.5 290.9L94.0 290.8L94.5 290.8L95.0 290.8L95.5 290.8L96.0 290.8L96.5 290.9L97.0 290.9L97.5 291.0L98.0 291.1L98.5 291.2L99.0 291.4L99.5 291.5L100.0 291.7L100.5 291.9L101.0 292.0L101.5 292.2L102.0 292.4L102.5 292.6L103.0 292.8L103.5 293.0L104.0 293.1L104.5 293.3L105.0 293.5L105.5 293.7L106.0 293.9L106.5 294.1L107.0 294.4L107.5 294.6L108.0 294.9L108.5 295.2L109.0 295.5L109.5 295.7L110.0 296.0L110.5 296.3L111.0 296.6L111.5 296.9L112.0 297.1L112.5 297.4L113.0 297.6L113.5 297.8L114.0 298.0L114.5 298.1L115.0 298.2L115.5 298.3L116.0 298.4L116.5 298.4L117.0 298.3L117.5 298.2L118.0 298.0L118.5 297.7L119.0 297.4L119.5 297.1L120.0 296.8L120.5 296.4L121.0 296.1L121.5 295.7L122.0 295.4L122.5 295.1L123.0 294.9L123.5 294.7L124.0 294.5L124.5 294.4L125.0 294.3L125.5 294.2L126.0 294.1L126.5 294.0L127.0 293.9L127.5 293.9L128.0 293.8L128.5 293.8L129.0 293.7L129.5 293.7L130.0 293.8L130.5 293.8L131.0 294.0L131.5 294.2L132.0 294.5L132.5 294.9L133.0 295.3L133.5 295.7L134.0 296.1L134.5 296.6L135.0 297.0L135.5 297.4L136.0 297.8L136.5 298.2L137.0 298.5L137.5 298.8L138.0 299.1L138.5 299.4L139.0 299.8L139.5 300.1L140.0 300.4L140.5 300.7L141.0 301.1L141.5 301.4L142.0 301.6L142.5 301.9L143.0 302.2L143.5 302.4L144.0 302.6L144.5 302.7L145.0 302.9L145.5 302.9L146.0 302.9L146.5 302.9L147.0 302.7L147.5 302.3L148.0 301.9L148.5 301.3L149.0 300.6L149.5 299.8L150.0 299.0L150.5 298.1L151.0 297.1L151.5 296.1L152.0 295.0L152.5 293.8L153.0 292.5L153.5 290.8L154.0 288.9L154.5 286.6L155.0 284.2L155.5 281.6L156.0 279.1L156.5 276.7L157.0 274.6L157.5 272.7L158.0 271.2L158.5 269.8L159.0 268.6L159.5 267.4L160.0 266.3L160.5 265.3L161.0 264.3L161.5 263.5L162.0 262.8L162.5 262.2L163.0 261.9L163.5 261.7L164.0 261.8L164.5 262.2L165.0 262.9L165.5 263.9L166.0 265.1L166.5 266.5L167.0 268.1L167.5 269.7L168.0 271.5L168.5 273.3L169.0 275.2L169.5 277.3L170.0 279.7L170.5 282.4L171.0 285.2L171.5 287.9L172.0 290.5L172.5 292.9L173.0 295.0L173.5 296.9L174.0 298.6L174.5 300.3L175.0 301.9L175.5 303.4L176.0 304.7L176.5 306.0L177.0 307.2L177.5 308.4L178.0 309.5L178.5 310.6L179.0 311.6L179.5 312.4L180.0 313.0L180.5 313.3L181.0 313.4L181.5 313.2L182.0 312.9L182.5 312.3L183.0 311.7L183.5 310.9L184.0 310.1L184.5 309.3L185.0 308.5L185.5 307.7L186.0 307.0L186.5 306.3L187.0 305.6L187.5 304.9L188.0 304.2L188.5 303.5L189.0 302.8L189.5 302.1L190.0 301.4L190.5 300.7L191.0 300.1L191.5 299.5L192.0 299.0L192.5 298.5L193.0 298.0L193.5 297.6L194.0 297.2L194.5 296.8L195.0 296.4L195.5 296.0L196.0 295.7L196.5 295.3L197.0 295.0L197.5 294.7L198.0 294.4L198.5 294.1L199.0 293.9L199.5 293.8L200.0 293.6L200.5 293.6L201.0 293.5L201.5 293.5L202.0 293.5L202.5 293.5L203.0 293.5L203.5 293.5L204.0 293.5L204.5 293.5L205.0 293.5L205.5 293.5L206.0 293.5L206.5 293.5L207.0 293.5L207.5 293.5L208.0 293.5L208.5 293.5L209.0 293.5L209.5 293.5L210.0 293.5L210.5 293.5L211.0 293.5L211.5 293.5L212.0 293.5L212.5 293.5L213.0 293.5L213.5 293.5L214.0 293.5L214.5 293.5L215.0 293.5" stroke="#e69d28" stroke-width="1.6" fill="none" stroke-linejoin="round"/>
<path d="M25.6 293.5H251" stroke="#ec6b46" stroke-width="1.6" fill="none"/>
<path d="M345.0 171.2L345.5 171.2L346.0 171.2L346.5 171.2L347.0 171.2L347.5 171.2L348.0 171.2L348.5 171.2L349.0 171.2L349.5 171.2L350.0 171.2L350.5 171.2L351.0 171.2L351.5 171.2L352.0 171.2L352.5 171.2L353.0 171.2L353.5 171.2L354.0 171.2L354.5 171.2L355.0 171.2L355.5 171.2L356.0 171.2L356.5 171.2L357.0 171.2L357.5 171.2L358.0 171.2L358.5 171.2L359.0 171.2L359.5 171.2L360.0 171.2L360.5 171.2L361.0 171.2L361.5 171.2L362.0 171.2L362.5 171.2L363.0 171.2L363.5 171.2L364.0 171.2L364.5 171.2L365.0 171.2L365.5 171.2L366.0 171.2L366.5 171.2L367.0 171.2L367.5 171.2L368.0 171.2L368.5 171.2L369.0 171.2L369.5 171.2L370.0 171.2L370.5 171.2L371.0 171.2L371.5 171.2L372.0 171.2L372.5 171.2L373.0 171.2L373.5 171.2L374.0 171.2L374.5 171.2L375.0 171.2L375.5 171.2L376.0 171.2L376.5 171.2L377.0 171.2L377.5 171.2L378.0 171.2L378.5 171.2L379.0 171.2L379.5 171.2L380.0 171.2L380.5 171.2L381.0 171.2L381.5 171.2L382.0 171.2L382.5 171.2L383.0 171.2L383.5 171.2L384.0 171.2L384.5 171.2L385.0 171.2L385.5 171.2L386.0 171.2L386.5 171.2L387.0 171.2L387.5 171.2L388.0 171.2L388.5 171.2L389.0 171.2L389.5 171.2L390.0 171.2L390.5 171.2L391.0 171.2L391.5 171.2L392.0 171.2L392.5 171.2L393.0 171.2L393.5 171.2L394.0 171.2L394.5 171.2L395.0 171.2L395.5 171.2L396.0 171.2L396.5 171.2L397.0 171.2L397.5 171.2L398.0 171.2L398.5 171.2L399.0 171.2L399.5 171.2L400.0 171.2L400.5 171.2L401.0 171.2L401.5 171.2L402.0 171.2L402.5 171.2L403.0 171.2L403.5 171.2L404.0 171.2L404.5 171.2L405.0 171.2L405.5 171.2L406.0 171.2L406.5 171.2L407.0 171.2L407.5 171.2L408.0 171.2L408.5 171.2L409.0 171.2L409.5 171.2L410.0 171.2L410.5 171.2L411.0 171.2L411.5 171.2L412.0 171.2L412.5 171.2L413.0 171.2L413.5 171.2L414.0 171.2L414.5 171.2L415.0 171.2L415.5 171.2L416.0 171.2L416.5 171.2L417.0 171.2L417.5 171.2L418.0 171.2L418.5 171.2L419.0 171.2L419.5 171.2L420.0 171.2L420.5 171.2L421.0 171.2L421.5 171.2L422.0 171.2L422.5 171.2L423.0 171.2L423.5 171.2L424.0 171.2L424.5 171.2L425.0 171.2L425.5 171.2L426.0 171.2L426.5 171.2L427.0 171.2L427.5 171.2L428.0 171.2L428.5 171.2L429.0 171.2L429.5 171.2L430.0 171.2L430.5 171.2L431.0 171.2L431.5 171.2L432.0 171.2L432.5 171.2L433.0 171.2L433.5 171.2L434.0 171.2L434.5 171.2L435.0 171.2L435.5 171.2L436.0 171.2L436.5 171.2L437.0 171.2L437.5 171.2L438.0 171.2L438.5 171.2L439.0 171.2L439.5 171.2L440.0 171.2L440.5 171.2L441.0 171.2L441.5 171.2L442.0 171.2L442.5 171.2L443.0 171.2L443.5 171.2L444.0 171.2L444.5 171.2L445.0 171.2L445.5 171.2L446.0 171.2L446.5 171.2L447.0 171.2L447.5 171.2L448.0 171.2L448.5 171.2L449.0 171.2L449.5 171.2L450.0 171.2L450.5 171.2L451.0 171.2L451.5 171.2L452.0 171.2L452.5 171.2L453.0 171.2L453.5 171.2L454.0 171.2L454.5 171.2L455.0 171.2L455.5 171.2L456.0 171.2L456.5 171.2L457.0 171.2L457.5 171.2L458.0 171.2L458.5 171.2L459.0 171.2L459.5 171.2L460.0 171.2L460.5 171.2L461.0 171.2L461.5 171.2L462.0 171.2L462.5 171.2L463.0 171.2L463.5 171.2L464.0 171.2L464.5 171.2L465.0 171.2L465.5 171.2L466.0 171.2L466.5 171.2L467.0 171.2L467.5 171.2L468.0 171.2L468.5 171.2L469.0 171.2L469.5 171.2L470.0 171.2L470.5 171.2L471.0 171.2L471.5 171.2L472.0 171.2L472.5 171.2L473.0 171.2L473.5 171.2L474.0 171.2L474.5 171.2L475.0 171.2L475.5 171.2L476.0 171.2L476.5 171.2L477.0 171.2L477.5 171.2L478.0 171.2L478.5 171.2L479.0 171.2L479.5 171.2L480.0 171.2L480.5 171.2L481.0 171.2L481.5 171.2L482.0 171.2L482.5 171.2L483.0 171.2L483.5 171.2L484.0 171.2L484.5 171.2L485.0 171.2L485.5 171.2L486.0 171.2L486.5 171.2L487.0 171.2L487.5 171.2L488.0 171.2L488.5 171.2L489.0 171.2L489.5 171.2L490.0 171.2L490.5 171.2L491.0 171.2L491.5 171.2L492.0 171.2L492.5 171.2L493.0 171.2L493.5 171.2L494.0 171.2L494.5 171.2L495.0 171.2L495.5 171.2L496.0 171.2L496.5 171.2L497.0 171.2L497.5 171.2L498.0 171.2L498.5 171.2L499.0 171.2L499.5 171.2L500.0 171.2L500.5 171.2L501.0 171.2L501.5 171.2L502.0 171.2L502.5 171.2L503.0 171.2L503.5 171.2L504.0 171.2L504.5 171.2L505.0 171.2L505.5 171.2L506.0 171.2L506.5 171.2L507.0 171.2L507.5 171.2L508.0 171.2L508.5 171.2L509.0 171.2L509.5 171.2L510.0 171.2L510.5 171.2L511.0 171.2L511.5 171.2L512.0 171.2L512.5 171.2L513.0 171.2L513.5 171.2L514.0 171.2L514.5 171.2L515.0 171.2L515.5 171.2L516.0 171.2L516.5 171.2L517.0 171.2L517.5 171.2L518.0 171.2L518.5 171.2L519.0 171.2L519.5 171.2L520.0 171.2L520.5 171.2L521.0 171.2L521.5 171.2L522.0 171.2L522.5 171.2L523.0 171.2L523.5 171.2L524.0 171.2L524.5 171.2L525.0 171.2L525.5 171.2L526.0 171.2L526.5 171.2L527.0 171.2L527.5 171.2L528.0 171.2L528.5 171.2L529.0 171.2L529.5 171.2L530.0 171.2L530.5 171.2L531.0 171.2L531.5 171.2L532.0 171.2L532.5 171.2L533.0 171.2L533.5 171.2L534.0 171.2L534.5 171.2L535.0 171.2L535.5 171.2L536.0 171.2L536.5 171.2L537.0 171.2L537.5 171.2L538.0 171.2L538.5 171.2L539.0 171.2L539.5 171.2L540.0 171.2L540.5 171.2L541.0 171.2L541.5 171.2L542.0 171.2L542.5 171.2L543.0 171.2L543.5 171.2L544.0 171.2L544.5 171.2L545.0 171.2L545.5 171.2L546.0 171.2L546.5 171.2L547.0 171.2L547.5 171.2L548.0 171.2L548.5 171.2L549.0 171.2L549.5 171.2L550.0 171.2L550.5 171.2L551.0 171.2L551.5 171.2L552.0 171.2L552.5 171.2L553.0 171.2L553.5 171.2L554.0 171.2L554.5 171.2L555.0 171.2" stroke="#5f88c8" stroke-width="1.6" fill="none" stroke-dasharray="1.35 1.7" stroke-linejoin="round"/>
<path d="M345.0 171.2L345.5 171.2L346.0 171.2L346.5 171.2L347.0 171.2L347.5 171.2L348.0 171.2L348.5 171.2L349.0 171.2L349.5 171.2L350.0 171.2L350.5 171.2L351.0 171.2L351.5 171.2L352.0 171.2L352.5 171.2L353.0 171.2L353.5 171.2L354.0 171.2L354.5 171.2L355.0 171.2L355.5 171.2L356.0 171.2L356.5 171.2L357.0 171.2L357.5 171.1L358.0 171.1L358.5 171.0L359.0 171.0L359.5 170.9L360.0 170.9L360.5 170.9L361.0 170.8L361.5 170.8L362.0 170.8L362.5 170.8L363.0 170.9L363.5 171.0L364.0 171.1L364.5 171.3L365.0 171.4L365.5 171.6L366.0 171.8L366.5 172.0L367.0 172.1L367.5 172.3L368.0 172.5L368.5 172.7L369.0 172.9L369.5 173.2L370.0 173.4L370.5 173.6L371.0 173.9L371.5 174.1L372.0 174.2L372.5 174.3L373.0 174.3L373.5 174.2L374.0 174.0L374.5 173.6L375.0 173.2L375.5 172.6L376.0 172.1L376.5 171.5L377.0 171.0L377.5 170.5L378.0 170.0L378.5 169.6L379.0 169.2L379.5 168.7L380.0 168.3L380.5 167.9L381.0 167.6L381.5 167.3L382.0 167.2L382.5 167.1L383.0 167.2L383.5 167.5L384.0 167.9L384.5 168.3L385.0 168.8L385.5 169.3L386.0 169.8L386.5 170.2L387.0 170.4L387.5 170.7L388.0 170.8L388.5 171.0L389.0 171.1L389.5 171.3L390.0 171.4L390.5 171.5L391.0 171.6L391.5 171.7L392.0 171.7L392.5 171.8L393.0 171.8L393.5 171.8L394.0 171.7L394.5 171.6L395.0 171.5L395.5 171.4L396.0 171.2L396.5 171.1L397.0 170.9L397.5 170.7L398.0 170.6L398.5 170.5L399.0 170.4L399.5 170.4L400.0 170.3L400.5 170.4L401.0 170.5L401.5 170.6L402.0 170.8L402.5 170.9L403.0 171.2L403.5 171.4L404.0 171.5L404.5 171.7L405.0 171.8L405.5 171.9L406.0 172.0L406.5 171.9L407.0 171.9L407.5 171.8L408.0 171.6L408.5 171.5L409.0 171.3L409.5 171.1L410.0 171.0L410.5 170.8L411.0 170.7L411.5 170.7L412.0 170.6L412.5 170.6L413.0 170.7L413.5 170.7L414.0 170.7L414.5 170.8L415.0 170.9L415.5 171.0L416.0 171.0L416.5 171.1L417.0 171.2L417.5 171.3L418.0 171.4L418.5 171.4L419.0 171.5L419.5 171.5L420.0 171.5L420.5 171.5L421.0 171.5L421.5 171.4L422.0 171.4L422.5 171.4L423.0 171.3L423.5 171.3L424.0 171.2L424.5 171.2L425.0 171.2L425.5 171.1L426.0 171.1L426.5 171.1L427.0 171.0L427.5 171.0L428.0 171.0L428.5 171.0L429.0 171.0L429.5 171.1L430.0 171.1L430.5 171.2L431.0 171.2L431.5 171.3L432.0 171.4L432.5 171.5L433.0 171.6L433.5 171.7L434.0 171.9L434.5 172.2L435.0 172.7L435.5 173.4L436.0 174.2L436.5 175.1L437.0 176.1L437.5 176.9L438.0 177.7L438.5 178.3L439.0 178.7L439.5 178.9L440.0 178.7L440.5 178.2L441.0 177.4L441.5 176.4L442.0 175.4L442.5 174.2L443.0 173.1L443.5 172.0L444.0 170.8L444.5 169.5L445.0 168.1L445.5 166.7L446.0 165.4L446.5 164.3L447.0 163.5L447.5 163.1L448.0 163.0L448.5 163.4L449.0 164.0L449.5 164.8L450.0 165.8L450.5 166.7L451.0 167.6L451.5 168.3L452.0 168.9L452.5 169.3L453.0 169.7L453.5 170.1L454.0 170.4L454.5 170.7L455.0 170.9L455.5 171.2L456.0 171.3L456.5 171.4L457.0 171.5L457.5 171.5L458.0 171.5L458.5 171.4L459.0 171.4L459.5 171.3L460.0 171.3L460.5 171.2L461.0 171.2L461.5 171.1L462.0 171.0L462.5 171.0L463.0 170.9L463.5 170.9L464.0 170.8L464.5 170.8L465.0 170.8L465.5 170.8L466.0 170.9L466.5 170.9L467.0 171.0L467.5 171.1L468.0 171.2L468.5 171.3L469.0 171.4L469.5 171.5L470.0 171.6L470.5 171.7L471.0 171.8L471.5 171.9L472.0 171.9L472.5 172.0L473.0 172.0L473.5 172.0L474.0 171.9L474.5 171.9L475.0 171.8L475.5 171.7L476.0 171.6L476.5 171.5L477.0 171.3L477.5 171.2L478.0 171.1L478.5 170.9L479.0 170.8L479.5 170.6L480.0 170.5L480.5 170.3L481.0 170.1L481.5 169.9L482.0 169.7L482.5 169.5L483.0 169.3L483.5 169.2L484.0 169.0L484.5 169.0L485.0 169.0L485.5 169.1L486.0 169.4L486.5 169.7L487.0 170.1L487.5 170.6L488.0 171.1L488.5 171.5L489.0 172.0L489.5 172.5L490.0 173.0L490.5 173.5L491.0 174.1L491.5 174.6L492.0 175.0L492.5 175.3L493.0 175.4L493.5 175.4L494.0 175.1L494.5 174.7L495.0 174.1L495.5 173.5L496.0 172.8L496.5 172.1L497.0 171.5L497.5 170.9L498.0 170.2L498.5 169.5L499.0 168.8L499.5 168.1L500.0 167.4L500.5 166.8L501.0 166.2L501.5 165.7L502.0 165.4L502.5 165.2L503.0 165.2L503.5 165.5L504.0 166.1L504.5 167.0L505.0 168.0L505.5 169.1L506.0 170.3L506.5 171.4L507.0 172.4L507.5 173.2L508.0 173.8L508.5 174.4L509.0 174.8L509.5 175.3L510.0 175.7L510.5 176.0L511.0 176.2L511.5 176.4L512.0 176.4L512.5 176.2L513.0 176.0L513.5 175.6L514.0 175.0L514.5 174.4L515.0 173.8L515.5 173.2L516.0 172.5L516.5 172.0L517.0 171.5L517.5 171.0L518.0 170.7L518.5 170.3L519.0 170.0L519.5 169.6L520.0 169.3L520.5 169.0L521.0 168.8L521.5 168.6L522.0 168.4L522.5 168.3L523.0 168.2L523.5 168.2L524.0 168.3L524.5 168.4L525.0 168.5L525.5 168.6L526.0 168.8L526.5 169.0L527.0 169.2L527.5 169.4L528.0 169.6L528.5 169.8L529.0 170.0L529.5 170.1L530.0 170.3L530.5 170.4L531.0 170.6L531.5 170.8L532.0 170.9L532.5 171.1L533.0 171.3L533.5 171.4L534.0 171.6L534.5 171.7L535.0 171.9L535.5 172.0L536.0 172.1L536.5 172.2L537.0 172.3L537.5 172.3L538.0 172.4L538.5 172.4L539.0 172.4L539.5 172.4L540.0 172.3L540.5 172.3L541.0 172.2L541.5 172.1L542.0 172.1L542.5 172.0L543.0 171.8L543.5 171.7L544.0 171.6L544.5 171.4L545.0 171.3" stroke="#e69d28" stroke-width="1.6" fill="none" stroke-dasharray="4.3 1.8" stroke-linejoin="round"/>
<path d="M330.4 171.2L330.9 171.2L331.4 171.2L331.9 171.2L332.4 171.2L332.9 171.2L333.4 171.2L333.9 171.2L334.4 171.2L334.9 171.2L335.4 171.2L335.9 171.2L336.4 171.2L336.9 171.2L337.4 171.2L337.9 171.2L338.4 171.2L338.9 171.2L339.4 171.2L339.9 171.2L340.4 171.2L340.9 171.2L341.4 171.2L341.9 171.2L342.4 171.2L342.9 171.2L343.4 171.2L343.9 171.2L344.4 171.2L344.9 171.2L345.4 171.2L345.9 171.2L346.4 171.2L346.9 171.2L347.4 171.2L347.9 171.2L348.4 171.2L348.9 171.2L349.4 171.2L349.9 171.2L350.4 171.2L350.9 171.2L351.4 171.3L351.9 171.3L352.4 171.3L352.9 171.3L353.4 171.3L353.9 171.3L354.4 171.4L354.9 171.5L355.4 171.7L355.9 171.9L356.4 172.2L356.9 172.4L357.4 172.7L357.9 172.9L358.4 173.2L358.9 173.5L359.4 173.8L359.9 174.1L360.4 174.5L360.9 175.0L361.4 175.4L361.9 175.8L362.4 176.3L362.9 176.7L363.4 177.0L363.9 177.2L364.4 177.3L364.9 177.3L365.4 177.0L365.9 176.4L366.4 175.5L366.9 174.6L367.4 173.6L367.9 172.7L368.4 171.7L368.9 170.8L369.4 169.8L369.9 168.9L370.4 168.3L370.9 168.0L371.4 168.1L371.9 168.5L372.4 169.1L372.9 169.8L373.4 170.5L373.9 171.1L374.4 171.6L374.9 172.0L375.4 172.4L375.9 172.6L376.4 172.6L376.9 172.3L377.4 171.7L377.9 170.9L378.4 170.1L378.9 169.4L379.4 168.7L379.9 168.1L380.4 167.5L380.9 167.1L381.4 166.9L381.9 166.9L382.4 167.1L382.9 167.5L383.4 167.9L383.9 168.4L384.4 168.9L384.9 169.5L385.4 170.1L385.9 170.7L386.4 171.3L386.9 171.8L387.4 172.1L387.9 172.2L388.4 172.1L388.9 171.9L389.4 171.7L389.9 171.4L390.4 171.1L390.9 170.8L391.4 170.4L391.9 170.1L392.4 169.8L392.9 169.7L393.4 169.7L393.9 169.8L394.4 170.0L394.9 170.2L395.4 170.5L395.9 170.8L396.4 171.1L396.9 171.5L397.4 171.8L397.9 172.3L398.4 172.8L398.9 173.3L399.4 173.9L399.9 174.4L400.4 174.9L400.9 175.4L401.4 175.8L401.9 176.2L402.4 176.5L402.9 176.8L403.4 177.1L403.9 177.3L404.4 177.5L404.9 177.7L405.4 177.8L405.9 178.0L406.4 178.2L406.9 178.5L407.4 178.9L407.9 179.3L408.4 179.8L408.9 180.3L409.4 180.7L409.9 181.0L410.4 181.1L410.9 181.1L411.4 180.8L411.9 180.4L412.4 179.7L412.9 179.0L413.4 178.1L413.9 177.1L414.4 176.1L414.9 175.1L415.4 174.1L415.9 173.2L416.4 172.2L416.9 171.1L417.4 169.9L417.9 168.8L418.4 167.7L418.9 166.7L419.4 165.9L419.9 165.2L420.4 164.7L420.9 164.3L421.4 164.0L421.9 163.7L422.4 163.4L422.9 163.1L423.4 162.9L423.9 162.7L424.4 162.6L424.9 162.6L425.4 162.6L425.9 162.7L426.4 162.9L426.9 163.1L427.4 163.5L427.9 163.8L428.4 164.2L428.9 164.6L429.4 165.0L429.9 165.4L430.4 165.7L430.9 166.0L431.4 166.3L431.9 166.6L432.4 167.0L432.9 167.3L433.4 167.8L433.9 168.3L434.4 169.0L434.9 170.0L435.4 171.4L435.9 173.1L436.4 175.1L436.9 177.3L437.4 179.8L437.9 182.6L438.4 185.8L438.9 189.1L439.4 192.2L439.9 195.2L440.4 197.8L440.9 199.7L441.4 200.6L441.9 200.2L442.4 198.5L442.9 195.7L443.4 192.1L443.9 187.5L444.4 182.0L444.9 176.2L445.4 170.5L445.9 165.4L446.4 160.9L446.9 157.2L447.4 154.2L447.9 151.9L448.4 150.6L448.9 150.6L449.4 151.9L449.9 154.1L450.4 157.0L450.9 160.1L451.4 163.4L451.9 166.6L452.4 169.3L452.9 171.2L453.4 172.5L453.9 173.4L454.4 174.2L454.9 174.9L455.4 175.5L455.9 176.0L456.4 176.4L456.9 176.7L457.4 176.8L457.9 176.8L458.4 176.7L458.9 176.2L459.4 175.6L459.9 174.7L460.4 173.7L460.9 172.8L461.4 171.8L461.9 171.0L462.4 170.5L462.9 170.2L463.4 170.2L463.9 170.5L464.4 171.0L464.9 171.7L465.4 172.6L465.9 173.5L466.4 174.5L466.9 175.4L467.4 176.3L467.9 177.0L468.4 177.5L468.9 177.9L469.4 177.9L469.9 177.8L470.4 177.6L470.9 177.2L471.4 176.7L471.9 176.1L472.4 175.4L472.9 174.8L473.4 174.1L473.9 173.4L474.4 172.7L474.9 172.1L475.4 171.5L475.9 171.1L476.4 170.7L476.9 170.5L477.4 170.5L477.9 170.7L478.4 171.1L478.9 171.8L479.4 172.6L479.9 173.5L480.4 174.4L480.9 175.2L481.4 176.0L481.9 176.5L482.4 176.8L482.9 176.8L483.4 176.6L483.9 176.2L484.4 175.7L484.9 175.0L485.4 174.2L485.9 173.4L486.4 172.5L486.9 171.6L487.4 170.8L487.9 170.0L488.4 169.2L488.9 168.6L489.4 168.1L489.9 167.8L490.4 167.7L490.9 167.8L491.4 168.2L491.9 168.7L492.4 169.4L492.9 170.2L493.4 171.1L493.9 171.9L494.4 172.7L494.9 173.6L495.4 174.5L495.9 175.4L496.4 176.2L496.9 177.0L497.4 177.5L497.9 177.7L498.4 177.9L498.9 177.9L499.4 177.9L499.9 177.8L500.4 177.8L500.9 177.8L501.4 177.7L501.9 177.6L502.4 177.6L502.9 177.5L503.4 177.5L503.9 177.4L504.4 177.3L504.9 177.2L505.4 177.1L505.9 177.0L506.4 176.8L506.9 176.6L507.4 176.4L507.9 176.1L508.4 175.9L508.9 175.6L509.4 175.3L509.9 175.0L510.4 174.7L510.9 174.3L511.4 173.9L511.9 173.5L512.4 173.2L512.9 173.0L513.4 172.9L513.9 172.9L514.4 172.9L514.9 173.0L515.4 173.1L515.9 173.2L516.4 173.3L516.9 173.4L517.4 173.5L517.9 173.6L518.4 173.7L518.9 173.7L519.4 173.6L519.9 173.5L520.4 173.4L520.9 173.3L521.4 173.1L521.9 172.9L522.4 172.7L522.9 172.5L523.4 172.3L523.9 172.2L524.4 172.1L524.9 172.1L525.4 172.2L525.9 172.4L526.4 172.8L526.9 173.3L527.4 173.8L527.9 174.4L528.4 174.9L528.9 175.4L529.4 175.9L529.9 176.4L530.4 176.9L530.9 177.3L531.4 177.6L531.9 177.8L532.4 177.8L532.9 177.7L533.4 177.6L533.9 177.4L534.4 177.1L534.9 176.8L535.4 176.5L535.9 176.2L536.4 175.9L536.9 175.6L537.4 175.2L537.9 174.9L538.4 174.5L538.9 174.0L539.4 173.6L539.9 173.2L540.4 172.8L540.9 172.4L541.4 172.1L541.9 171.9L542.4 171.8L542.9 171.7L543.4 171.6L543.9 171.5L544.4 171.5L544.9 171.4L545.4 171.4L545.9 171.3L546.4 171.3L546.9 171.3L547.4 171.3L547.9 171.3L548.4 171.3L548.9 171.3L549.4 171.3L549.9 171.3L550.4 171.2L550.9 171.2L551.4 171.2L551.9 171.2L552.4 171.2L552.9 171.2L553.4 171.2L553.9 171.2L554.4 171.2L554.9 171.2L555.4 171.2L555.6 171.2" stroke="#24a02c" stroke-width="1.6" fill="none" stroke-linejoin="round"/>
<path d="M345.0 231.9L345.5 231.9L346.0 231.9L346.5 231.9L347.0 231.9L347.5 231.9L348.0 231.9L348.5 231.9L349.0 231.9L349.5 231.9L350.0 231.9L350.5 231.9L351.0 231.9L351.5 231.9L352.0 231.9L352.5 231.9L353.0 231.9L353.5 231.9L354.0 231.9L354.5 231.9L355.0 231.9L355.5 231.9L356.0 231.9L356.5 231.9L357.0 231.9L357.5 231.9L358.0 231.9L358.5 231.9L359.0 231.9L359.5 231.9L360.0 231.9L360.5 231.9L361.0 231.9L361.5 231.9L362.0 231.9L362.5 231.9L363.0 231.9L363.5 231.9L364.0 231.9L364.5 231.9L365.0 231.9L365.5 231.9L366.0 231.9L366.5 231.9L367.0 231.9L367.5 231.9L368.0 231.9L368.5 231.9L369.0 231.9L369.5 231.9L370.0 231.9L370.5 231.9L371.0 231.9L371.5 231.9L372.0 231.9L372.5 231.9L373.0 231.9L373.5 231.9L374.0 231.9L374.5 231.9L375.0 231.9L375.5 231.9L376.0 231.9L376.5 231.9L377.0 231.9L377.5 231.9L378.0 231.9L378.5 231.9L379.0 231.9L379.5 231.9L380.0 231.9L380.5 231.9L381.0 231.9L381.5 231.9L382.0 231.9L382.5 231.9L383.0 231.9L383.5 231.9L384.0 231.9L384.5 231.9L385.0 231.9L385.5 231.9L386.0 231.9L386.5 231.9L387.0 231.9L387.5 231.9L388.0 231.9L388.5 231.9L389.0 231.9L389.5 231.9L390.0 231.9L390.5 231.9L391.0 231.9L391.5 231.9L392.0 231.9L392.5 231.9L393.0 231.9L393.5 231.9L394.0 231.9L394.5 231.9L395.0 231.9L395.5 231.9L396.0 231.9L396.5 231.9L397.0 231.9L397.5 231.9L398.0 231.9L398.5 231.9L399.0 231.9L399.5 231.9L400.0 231.9L400.5 231.9L401.0 231.9L401.5 231.9L402.0 231.9L402.5 231.9L403.0 231.9L403.5 231.9L404.0 231.9L404.5 231.9L405.0 231.9L405.5 231.9L406.0 231.9L406.5 231.9L407.0 231.9L407.5 231.9L408.0 231.9L408.5 231.9L409.0 231.9L409.5 231.9L410.0 231.9L410.5 231.9L411.0 231.9L411.5 231.9L412.0 231.9L412.5 231.9L413.0 231.9L413.5 231.9L414.0 231.9L414.5 231.9L415.0 231.9L415.5 231.9L416.0 231.9L416.5 231.9L417.0 231.9L417.5 231.9L418.0 231.9L418.5 231.9L419.0 231.9L419.5 231.9L420.0 231.9L420.5 231.9L421.0 231.9L421.5 231.9L422.0 231.9L422.5 231.9L423.0 231.9L423.5 231.9L424.0 231.9L424.5 231.9L425.0 231.9L425.5 231.9L426.0 231.9L426.5 231.9L427.0 231.9L427.5 231.9L428.0 231.9L428.5 231.9L429.0 231.9L429.5 231.9L430.0 231.9L430.5 231.9L431.0 231.9L431.5 231.9L432.0 231.9L432.5 231.9L433.0 231.9L433.5 231.9L434.0 231.9L434.5 231.9L435.0 231.9L435.5 231.9L436.0 231.9L436.5 231.9L437.0 231.9L437.5 231.9L438.0 231.9L438.5 231.9L439.0 231.9L439.5 231.9L440.0 231.9L440.5 231.9L441.0 231.9L441.5 231.9L442.0 231.9L442.5 231.9L443.0 231.9L443.5 231.9L444.0 231.9L444.5 231.9L445.0 231.9L445.5 231.9L446.0 231.9L446.5 231.9L447.0 231.9L447.5 231.9L448.0 231.9L448.5 231.9L449.0 231.9L449.5 231.9L450.0 231.9L450.5 231.9L451.0 231.9L451.5 231.9L452.0 231.9L452.5 231.9L453.0 231.9L453.5 231.9L454.0 231.9L454.5 231.9L455.0 231.9L455.5 231.9L456.0 231.9L456.5 231.9L457.0 231.9L457.5 231.9L458.0 231.9L458.5 231.9L459.0 231.9L459.5 231.9L460.0 231.9L460.5 231.9L461.0 231.9L461.5 231.9L462.0 231.9L462.5 231.9L463.0 231.9L463.5 231.9L464.0 231.9L464.5 231.9L465.0 231.9L465.5 231.9L466.0 231.9L466.5 231.9L467.0 231.9L467.5 231.9L468.0 231.9L468.5 231.9L469.0 231.9L469.5 231.9L470.0 231.9L470.5 231.9L471.0 231.9L471.5 231.9L472.0 231.9L472.5 231.9L473.0 231.9L473.5 231.9L474.0 231.9L474.5 231.9L475.0 231.9L475.5 231.9L476.0 231.9L476.5 231.9L477.0 231.9L477.5 231.9L478.0 231.9L478.5 231.9L479.0 231.9L479.5 231.9L480.0 231.9L480.5 231.9L481.0 231.9L481.5 231.9L482.0 231.9L482.5 231.9L483.0 231.9L483.5 231.9L484.0 231.9L484.5 231.9L485.0 231.9L485.5 231.9L486.0 231.9L486.5 231.9L487.0 231.9L487.5 231.9L488.0 231.9L488.5 231.9L489.0 231.9L489.5 231.9L490.0 231.9L490.5 231.9L491.0 231.9L491.5 231.9L492.0 231.9L492.5 231.9L493.0 231.9L493.5 231.9L494.0 231.9L494.5 231.9L495.0 231.9L495.5 231.9L496.0 231.9L496.5 231.9L497.0 231.9L497.5 231.9L498.0 231.9L498.5 231.9L499.0 231.9L499.5 231.9L500.0 231.9L500.5 231.9L501.0 231.9L501.5 231.9L502.0 231.9L502.5 231.9L503.0 231.9L503.5 231.9L504.0 231.9L504.5 231.9L505.0 231.9L505.5 231.9L506.0 231.9L506.5 231.9L507.0 231.9L507.5 231.9L508.0 231.9L508.5 231.9L509.0 231.9L509.5 231.9L510.0 231.9L510.5 231.9L511.0 231.9L511.5 231.9L512.0 231.9L512.5 231.9L513.0 231.9L513.5 231.9L514.0 231.9L514.5 231.9L515.0 231.9L515.5 231.9L516.0 231.9L516.5 231.9L517.0 231.9L517.5 231.9L518.0 231.9L518.5 231.9L519.0 231.9L519.5 231.9L520.0 231.9L520.5 231.9L521.0 231.9L521.5 231.9L522.0 231.9L522.5 231.9L523.0 231.9L523.5 231.9L524.0 231.9L524.5 231.9L525.0 231.9L525.5 231.9L526.0 231.9L526.5 231.9L527.0 231.9L527.5 231.9L528.0 231.9L528.5 231.9L529.0 231.9L529.5 231.9L530.0 231.9L530.5 231.9L531.0 231.9L531.5 231.9L532.0 231.9L532.5 231.9L533.0 231.9L533.5 231.9L534.0 231.9L534.5 231.9L535.0 231.9L535.5 231.9L536.0 231.9L536.5 231.9L537.0 231.9L537.5 231.9L538.0 231.9L538.5 231.9L539.0 231.9L539.5 231.9L540.0 231.9L540.5 231.9L541.0 231.9L541.5 231.9L542.0 231.9L542.5 231.9L543.0 231.9L543.5 231.9L544.0 231.9L544.5 231.9L545.0 231.9L545.5 231.9L546.0 231.9L546.5 231.9L547.0 231.9L547.5 231.9L548.0 231.9L548.5 231.9L549.0 231.9L549.5 231.9L550.0 231.9L550.5 231.9L551.0 231.9L551.5 231.9L552.0 231.9L552.5 231.9L553.0 231.9L553.5 231.9L554.0 231.9L554.5 231.9L555.0 231.9" stroke="#5f88c8" stroke-width="1.6" fill="none" stroke-dasharray="1.35 1.7" stroke-linejoin="round"/>
<path d="M345.0 231.9L345.5 231.9L346.0 231.9L346.5 231.9L347.0 231.9L347.5 231.9L348.0 231.9L348.5 231.9L349.0 231.9L349.5 231.9L350.0 231.9L350.5 231.9L351.0 231.9L351.5 231.9L352.0 231.9L352.5 231.9L353.0 232.0L353.5 232.1L354.0 232.2L354.5 232.3L355.0 232.4L355.5 232.6L356.0 232.7L356.5 232.8L357.0 232.9L357.5 233.0L358.0 233.0L358.5 232.9L359.0 232.9L359.5 232.7L360.0 232.6L360.5 232.4L361.0 232.2L361.5 232.1L362.0 231.9L362.5 231.8L363.0 231.6L363.5 231.6L364.0 231.5L364.5 231.6L365.0 231.7L365.5 231.8L366.0 232.0L366.5 232.3L367.0 232.5L367.5 232.7L368.0 233.0L368.5 233.2L369.0 233.3L369.5 233.4L370.0 233.4L370.5 233.4L371.0 233.2L371.5 233.0L372.0 232.7L372.5 232.4L373.0 232.0L373.5 231.6L374.0 231.3L374.5 231.0L375.0 230.8L375.5 230.6L376.0 230.6L376.5 230.6L377.0 230.7L377.5 230.9L378.0 231.2L378.5 231.5L379.0 231.8L379.5 232.0L380.0 232.3L380.5 232.6L381.0 232.8L381.5 232.9L382.0 233.0L382.5 232.9L383.0 232.9L383.5 232.8L384.0 232.7L384.5 232.5L385.0 232.4L385.5 232.3L386.0 232.1L386.5 232.0L387.0 231.9L387.5 231.9L388.0 231.8L388.5 231.8L389.0 231.8L389.5 231.9L390.0 231.9L390.5 232.0L391.0 232.1L391.5 232.1L392.0 232.2L392.5 232.3L393.0 232.3L393.5 232.4L394.0 232.5L394.5 232.5L395.0 232.6L395.5 232.6L396.0 232.6L396.5 232.6L397.0 232.5L397.5 232.4L398.0 232.3L398.5 232.2L399.0 232.1L399.5 231.9L400.0 231.8L400.5 231.7L401.0 231.5L401.5 231.4L402.0 231.3L402.5 231.2L403.0 231.1L403.5 231.0L404.0 231.0L404.5 231.0L405.0 231.1L405.5 231.2L406.0 231.3L406.5 231.4L407.0 231.6L407.5 231.7L408.0 231.9L408.5 232.1L409.0 232.2L409.5 232.4L410.0 232.5L410.5 232.6L411.0 232.7L411.5 232.8L412.0 232.8L412.5 232.8L413.0 232.7L413.5 232.7L414.0 232.6L414.5 232.5L415.0 232.4L415.5 232.3L416.0 232.2L416.5 232.0L417.0 231.9L417.5 231.8L418.0 231.7L418.5 231.6L419.0 231.6L419.5 231.5L420.0 231.5L420.5 231.5L421.0 231.5L421.5 231.6L422.0 231.6L422.5 231.6L423.0 231.7L423.5 231.7L424.0 231.8L424.5 231.8L425.0 231.8L425.5 231.9L426.0 231.9L426.5 231.9L427.0 232.0L427.5 232.0L428.0 232.0L428.5 232.0L429.0 232.0L429.5 231.9L430.0 231.9L430.5 231.9L431.0 231.8L431.5 231.8L432.0 231.7L432.5 231.7L433.0 231.7L433.5 231.6L434.0 231.6L434.5 231.6L435.0 231.5L435.5 231.5L436.0 231.6L436.5 231.7L437.0 232.0L437.5 232.4L438.0 232.9L438.5 233.5L439.0 234.1L439.5 234.9L440.0 235.6L440.5 236.3L441.0 237.0L441.5 237.6L442.0 238.1L442.5 238.6L443.0 238.8L443.5 239.0L444.0 238.9L444.5 238.6L445.0 238.2L445.5 237.6L446.0 236.9L446.5 236.1L447.0 235.3L447.5 234.5L448.0 233.8L448.5 233.2L449.0 232.7L449.5 232.3L450.0 232.1L450.5 232.0L451.0 231.9L451.5 231.9L452.0 231.8L452.5 231.8L453.0 231.7L453.5 231.7L454.0 231.7L454.5 231.6L455.0 231.6L455.5 231.6L456.0 231.6L456.5 231.6L457.0 231.5L457.5 231.5L458.0 231.5L458.5 231.5L459.0 231.5L459.5 231.5L460.0 231.5L460.5 231.5L461.0 231.6L461.5 231.7L462.0 231.8L462.5 231.9L463.0 232.0L463.5 232.2L464.0 232.3L464.5 232.5L465.0 232.7L465.5 232.9L466.0 233.1L466.5 233.3L467.0 233.5L467.5 233.8L468.0 234.0L468.5 234.4L469.0 234.7L469.5 235.1L470.0 235.4L470.5 235.8L471.0 236.1L471.5 236.4L472.0 236.6L472.5 236.8L473.0 236.9L473.5 236.9L474.0 236.9L474.5 236.8L475.0 236.6L475.5 236.3L476.0 236.1L476.5 235.8L477.0 235.4L477.5 235.1L478.0 234.8L478.5 234.4L479.0 234.1L479.5 233.8L480.0 233.5L480.5 233.2L481.0 233.0L481.5 232.7L482.0 232.4L482.5 232.1L483.0 231.9L483.5 231.6L484.0 231.4L484.5 231.1L485.0 230.9L485.5 230.7L486.0 230.5L486.5 230.3L487.0 230.2L487.5 230.0L488.0 229.8L488.5 229.6L489.0 229.5L489.5 229.3L490.0 229.2L490.5 229.1L491.0 229.0L491.5 228.9L492.0 228.9L492.5 228.8L493.0 228.9L493.5 229.1L494.0 229.3L494.5 229.7L495.0 230.1L495.5 230.6L496.0 231.0L496.5 231.6L497.0 232.2L497.5 232.8L498.0 233.5L498.5 234.3L499.0 235.0L499.5 235.6L500.0 236.1L500.5 236.5L501.0 236.7L501.5 236.8L502.0 236.8L502.5 236.7L503.0 236.6L503.5 236.4L504.0 236.2L504.5 235.9L505.0 235.7L505.5 235.4L506.0 235.1L506.5 234.8L507.0 234.5L507.5 234.3L508.0 234.0L508.5 233.7L509.0 233.5L509.5 233.3L510.0 233.0L510.5 232.8L511.0 232.5L511.5 232.3L512.0 232.0L512.5 231.7L513.0 231.5L513.5 231.2L514.0 231.0L514.5 230.8L515.0 230.7L515.5 230.6L516.0 230.5L516.5 230.5L517.0 230.5L517.5 230.7L518.0 231.1L518.5 231.5L519.0 232.0L519.5 232.5L520.0 233.0L520.5 233.5L521.0 234.0L521.5 234.4L522.0 234.8L522.5 235.3L523.0 235.7L523.5 236.2L524.0 236.6L524.5 237.0L525.0 237.3L525.5 237.6L526.0 237.8L526.5 237.9L527.0 237.9L527.5 237.8L528.0 237.6L528.5 237.3L529.0 237.0L529.5 236.6L530.0 236.2L530.5 235.8L531.0 235.5L531.5 235.2L532.0 235.0L532.5 234.7L533.0 234.5L533.5 234.2L534.0 234.0L534.5 233.8L535.0 233.6L535.5 233.4L536.0 233.3L536.5 233.1L537.0 233.0L537.5 232.9L538.0 232.8L538.5 232.7L539.0 232.6L539.5 232.5L540.0 232.4L540.5 232.3L541.0 232.2L541.5 232.2L542.0 232.1L542.5 232.0L543.0 232.0L543.5 232.0L544.0 231.9L544.5 231.9L545.0 231.9" stroke="#e69d28" stroke-width="1.6" fill="none" stroke-dasharray="4.3 1.8" stroke-linejoin="round"/>
<path d="M330.4 231.9L330.9 231.9L331.4 231.9L331.9 231.9L332.4 231.9L332.9 231.9L333.4 231.9L333.9 231.9L334.4 231.9L334.9 231.9L335.4 231.9L335.9 231.9L336.4 231.9L336.9 231.9L337.4 231.9L337.9 231.9L338.4 231.9L338.9 231.9L339.4 231.9L339.9 231.9L340.4 231.9L340.9 231.9L341.4 231.9L341.9 231.9L342.4 231.9L342.9 231.9L343.4 231.9L343.9 231.9L344.4 231.9L344.9 231.9L345.4 231.9L345.9 231.9L346.4 231.9L346.9 231.9L347.4 231.8L347.9 231.7L348.4 231.6L348.9 231.4L349.4 231.1L349.9 231.0L350.4 230.8L350.9 230.7L351.4 230.6L351.9 230.7L352.4 230.8L352.9 230.9L353.4 231.0L353.9 231.2L354.4 231.4L354.9 231.6L355.4 231.8L355.9 232.1L356.4 232.3L356.9 232.5L357.4 232.7L357.9 232.9L358.4 233.1L358.9 233.3L359.4 233.6L359.9 233.8L360.4 234.0L360.9 234.3L361.4 234.5L361.9 234.7L362.4 234.9L362.9 235.1L363.4 235.2L363.9 235.3L364.4 235.3L364.9 235.2L365.4 235.0L365.9 234.6L366.4 233.9L366.9 233.2L367.4 232.5L367.9 231.8L368.4 231.2L368.9 230.6L369.4 230.1L369.9 229.6L370.4 229.1L370.9 228.7L371.4 228.3L371.9 227.9L372.4 227.7L372.9 227.6L373.4 227.6L373.9 227.7L374.4 228.0L374.9 228.3L375.4 228.6L375.9 229.1L376.4 229.5L376.9 229.9L377.4 230.4L377.9 230.8L378.4 231.1L378.9 231.4L379.4 231.7L379.9 231.9L380.4 232.1L380.9 232.4L381.4 232.6L381.9 232.8L382.4 233.0L382.9 233.2L383.4 233.4L383.9 233.5L384.4 233.7L384.9 233.8L385.4 233.9L385.9 233.9L386.4 234.0L386.9 233.9L387.4 233.8L387.9 233.6L388.4 233.4L388.9 233.1L389.4 232.8L389.9 232.5L390.4 232.3L390.9 232.0L391.4 231.8L391.9 231.6L392.4 231.4L392.9 231.2L393.4 231.1L393.9 231.0L394.4 230.9L394.9 230.9L395.4 230.9L395.9 231.0L396.4 231.2L396.9 231.5L397.4 231.7L397.9 232.0L398.4 232.2L398.9 232.5L399.4 232.7L399.9 233.0L400.4 233.2L400.9 233.4L401.4 233.6L401.9 233.7L402.4 233.6L402.9 233.5L403.4 233.2L403.9 232.9L404.4 232.4L404.9 232.0L405.4 231.5L405.9 231.1L406.4 230.7L406.9 230.3L407.4 229.9L407.9 229.5L408.4 229.1L408.9 228.8L409.4 228.5L409.9 228.3L410.4 228.2L410.9 228.3L411.4 228.6L411.9 229.0L412.4 229.6L412.9 230.2L413.4 231.0L413.9 231.7L414.4 232.4L414.9 233.1L415.4 233.9L415.9 234.7L416.4 235.6L416.9 236.4L417.4 237.1L417.9 237.7L418.4 238.1L418.9 238.3L419.4 238.2L419.9 237.9L420.4 237.4L420.9 236.8L421.4 236.0L421.9 235.2L422.4 234.3L422.9 233.5L423.4 232.8L423.9 232.2L424.4 231.6L424.9 231.1L425.4 230.6L425.9 230.1L426.4 229.6L426.9 229.2L427.4 228.8L427.9 228.5L428.4 228.2L428.9 227.9L429.4 227.8L429.9 227.6L430.4 227.5L430.9 227.4L431.4 227.2L431.9 227.1L432.4 227.0L432.9 227.0L433.4 226.9L433.9 226.9L434.4 226.9L434.9 227.0L435.4 227.3L435.9 228.0L436.4 229.1L436.9 230.5L437.4 232.1L437.9 233.9L438.4 235.9L438.9 238.1L439.4 240.3L439.9 242.4L440.4 244.1L440.9 245.6L441.4 246.8L441.9 247.7L442.4 248.1L442.9 247.7L443.4 246.4L443.9 244.3L444.4 241.8L444.9 239.1L445.4 236.6L445.9 234.1L446.4 231.7L446.9 229.3L447.4 227.2L447.9 225.5L448.4 224.5L448.9 224.1L449.4 224.2L449.9 224.7L450.4 225.2L450.9 225.9L451.4 226.6L451.9 227.3L452.4 228.1L452.9 228.8L453.4 229.4L453.9 229.9L454.4 230.3L454.9 230.7L455.4 231.1L455.9 231.4L456.4 231.7L456.9 232.0L457.4 232.2L457.9 232.4L458.4 232.6L458.9 232.7L459.4 232.8L459.9 232.8L460.4 232.6L460.9 232.1L461.4 231.4L461.9 230.5L462.4 229.3L462.9 228.0L463.4 226.3L463.9 224.1L464.4 221.6L464.9 219.0L465.4 216.6L465.9 214.3L466.4 212.1L466.9 210.0L467.4 208.1L467.9 206.8L468.4 206.2L468.9 206.5L469.4 207.8L469.9 210.0L470.4 212.8L470.9 216.0L471.4 219.6L471.9 223.5L472.4 227.8L472.9 232.4L473.4 236.8L473.9 240.9L474.4 244.6L474.9 248.1L475.4 251.2L475.9 253.8L476.4 255.7L476.9 256.6L477.4 256.6L477.9 255.9L478.4 254.5L478.9 252.9L479.4 251.1L479.9 249.2L480.4 247.4L480.9 245.7L481.4 243.9L481.9 242.1L482.4 240.3L482.9 238.5L483.4 236.7L483.9 235.1L484.4 233.6L484.9 232.3L485.4 231.1L485.9 230.0L486.4 228.9L486.9 227.8L487.4 226.8L487.9 225.8L488.4 225.0L488.9 224.2L489.4 223.6L489.9 223.2L490.4 222.9L490.9 222.9L491.4 223.3L491.9 223.9L492.4 224.8L492.9 225.9L493.4 227.1L493.9 228.3L494.4 229.6L494.9 230.8L495.4 232.0L495.9 233.3L496.4 234.6L496.9 236.0L497.4 237.2L497.9 238.3L498.4 239.1L498.9 239.6L499.4 239.8L499.9 239.8L500.4 239.6L500.9 239.3L501.4 239.0L501.9 238.6L502.4 238.3L502.9 237.9L503.4 237.6L503.9 237.3L504.4 237.1L504.9 236.8L505.4 236.6L505.9 236.4L506.4 236.1L506.9 235.9L507.4 235.6L507.9 235.3L508.4 234.9L508.9 234.5L509.4 234.0L509.9 233.3L510.4 232.7L510.9 232.0L511.4 231.3L511.9 230.7L512.4 230.1L512.9 229.6L513.4 229.1L513.9 228.6L514.4 228.1L514.9 227.6L515.4 227.3L515.9 227.0L516.4 226.8L516.9 226.8L517.4 227.0L517.9 227.3L518.4 227.8L518.9 228.4L519.4 229.0L519.9 229.6L520.4 230.3L520.9 230.9L521.4 231.5L521.9 232.2L522.4 233.0L522.9 233.7L523.4 234.5L523.9 235.3L524.4 235.9L524.9 236.5L525.4 237.0L525.9 237.4L526.4 237.6L526.9 237.9L527.4 238.0L527.9 238.2L528.4 238.4L528.9 238.5L529.4 238.7L529.9 238.8L530.4 238.9L530.9 238.9L531.4 239.0L531.9 239.0L532.4 238.9L532.9 238.7L533.4 238.4L533.9 238.1L534.4 237.7L534.9 237.2L535.4 236.8L535.9 236.4L536.4 235.9L536.9 235.6L537.4 235.3L537.9 235.0L538.4 234.7L538.9 234.4L539.4 234.1L539.9 233.8L540.4 233.5L540.9 233.3L541.4 233.0L541.9 232.8L542.4 232.6L542.9 232.5L543.4 232.4L543.9 232.3L544.4 232.2L544.9 232.2L545.4 232.1L545.9 232.0L546.4 232.0L546.9 231.9L547.4 231.9L547.9 231.9L548.4 231.9L548.9 231.9L549.4 231.9L549.9 231.9L550.4 231.9L550.9 231.9L551.4 231.9L551.9 231.9L552.4 231.9L552.9 231.9L553.4 231.9L553.9 231.9L554.4 231.9L554.9 231.9L555.4 231.9L555.6 231.9" stroke="#24a02c" stroke-width="1.6" fill="none" stroke-linejoin="round"/>
<path d="M345.0 284.8L345.5 284.8L346.0 284.8L346.5 284.8L347.0 284.8L347.5 284.8L348.0 284.8L348.5 284.8L349.0 284.8L349.5 284.8L350.0 284.8L350.5 284.8L351.0 284.8L351.5 284.8L352.0 284.8L352.5 284.8L353.0 284.8L353.5 284.8L354.0 284.8L354.5 284.8L355.0 284.8L355.5 284.8L356.0 284.8L356.5 284.8L357.0 284.8L357.5 284.8L358.0 284.8L358.5 284.8L359.0 284.8L359.5 284.8L360.0 284.8L360.5 284.8L361.0 284.8L361.5 284.8L362.0 284.8L362.5 284.8L363.0 284.8L363.5 284.8L364.0 284.8L364.5 284.8L365.0 284.8L365.5 284.8L366.0 284.8L366.5 284.8L367.0 284.8L367.5 284.8L368.0 284.8L368.5 284.8L369.0 284.8L369.5 284.8L370.0 284.8L370.5 284.8L371.0 284.8L371.5 284.8L372.0 284.8L372.5 284.8L373.0 284.8L373.5 284.8L374.0 284.8L374.5 284.8L375.0 284.8L375.5 284.8L376.0 284.8L376.5 284.8L377.0 284.8L377.5 284.8L378.0 284.8L378.5 284.8L379.0 284.8L379.5 284.8L380.0 284.8L380.5 284.8L381.0 284.8L381.5 284.8L382.0 284.8L382.5 284.8L383.0 284.8L383.5 284.8L384.0 284.8L384.5 284.8L385.0 284.8L385.5 284.8L386.0 284.8L386.5 284.8L387.0 284.8L387.5 284.8L388.0 284.8L388.5 284.8L389.0 284.8L389.5 284.8L390.0 284.8L390.5 284.8L391.0 284.8L391.5 284.8L392.0 284.8L392.5 284.8L393.0 284.8L393.5 284.8L394.0 284.8L394.5 284.8L395.0 284.8L395.5 284.8L396.0 284.8L396.5 284.8L397.0 284.8L397.5 284.8L398.0 284.8L398.5 284.8L399.0 284.8L399.5 284.8L400.0 284.8L400.5 284.8L401.0 284.8L401.5 284.8L402.0 284.8L402.5 284.8L403.0 284.8L403.5 284.8L404.0 284.8L404.5 284.8L405.0 284.8L405.5 284.8L406.0 284.8L406.5 284.8L407.0 284.8L407.5 284.8L408.0 284.8L408.5 284.8L409.0 284.8L409.5 284.8L410.0 284.8L410.5 284.8L411.0 284.8L411.5 284.8L412.0 284.8L412.5 284.8L413.0 284.8L413.5 284.8L414.0 284.8L414.5 284.8L415.0 284.8L415.5 284.8L416.0 284.8L416.5 284.8L417.0 284.8L417.5 284.8L418.0 284.8L418.5 284.8L419.0 284.8L419.5 284.8L420.0 284.8L420.5 284.8L421.0 284.8L421.5 284.8L422.0 284.8L422.5 284.8L423.0 284.8L423.5 284.8L424.0 284.8L424.5 284.8L425.0 284.8L425.5 284.8L426.0 284.8L426.5 284.8L427.0 284.8L427.5 284.8L428.0 284.8L428.5 284.8L429.0 284.8L429.5 284.8L430.0 284.8L430.5 284.8L431.0 284.8L431.5 284.8L432.0 284.8L432.5 284.8L433.0 284.8L433.5 284.8L434.0 284.8L434.5 284.8L435.0 284.8L435.5 284.8L436.0 284.8L436.5 284.8L437.0 284.8L437.5 284.8L438.0 284.8L438.5 284.8L439.0 284.8L439.5 284.8L440.0 284.8L440.5 284.8L441.0 284.8L441.5 284.8L442.0 284.8L442.5 284.8L443.0 284.8L443.5 284.8L444.0 284.8L444.5 284.8L445.0 284.8L445.5 284.8L446.0 284.8L446.5 284.8L447.0 284.8L447.5 284.8L448.0 284.8L448.5 284.8L449.0 284.8L449.5 284.8L450.0 284.8L450.5 284.8L451.0 284.8L451.5 284.8L452.0 284.8L452.5 284.8L453.0 284.8L453.5 284.8L454.0 284.8L454.5 284.8L455.0 284.8L455.5 284.8L456.0 284.8L456.5 284.8L457.0 284.8L457.5 284.8L458.0 284.8L458.5 284.8L459.0 284.8L459.5 284.8L460.0 284.8L460.5 284.8L461.0 284.8L461.5 284.8L462.0 284.8L462.5 284.8L463.0 284.8L463.5 284.8L464.0 284.8L464.5 284.8L465.0 284.8L465.5 284.8L466.0 284.8L466.5 284.8L467.0 284.8L467.5 284.8L468.0 284.8L468.5 284.8L469.0 284.8L469.5 284.8L470.0 284.8L470.5 284.8L471.0 284.8L471.5 284.8L472.0 284.8L472.5 284.8L473.0 284.8L473.5 284.8L474.0 284.8L474.5 284.8L475.0 284.8L475.5 284.8L476.0 284.8L476.5 284.8L477.0 284.8L477.5 284.8L478.0 284.8L478.5 284.8L479.0 284.8L479.5 284.8L480.0 284.8L480.5 284.8L481.0 284.8L481.5 284.8L482.0 284.8L482.5 284.8L483.0 284.8L483.5 284.8L484.0 284.8L484.5 284.8L485.0 284.8L485.5 284.8L486.0 284.8L486.5 284.8L487.0 284.8L487.5 284.8L488.0 284.8L488.5 284.8L489.0 284.8L489.5 284.8L490.0 284.8L490.5 284.8L491.0 284.8L491.5 284.8L492.0 284.8L492.5 284.8L493.0 284.8L493.5 284.8L494.0 284.8L494.5 284.8L495.0 284.8L495.5 284.8L496.0 284.8L496.5 284.8L497.0 284.8L497.5 284.8L498.0 284.8L498.5 284.8L499.0 284.8L499.5 284.8L500.0 284.8L500.5 284.8L501.0 284.8L501.5 284.8L502.0 284.8L502.5 284.8L503.0 284.8L503.5 284.8L504.0 284.8L504.5 284.8L505.0 284.8L505.5 284.8L506.0 284.8L506.5 284.8L507.0 284.8L507.5 284.8L508.0 284.8L508.5 284.8L509.0 284.8L509.5 284.8L510.0 284.8L510.5 284.8L511.0 284.8L511.5 284.8L512.0 284.8L512.5 284.8L513.0 284.8L513.5 284.8L514.0 284.8L514.5 284.8L515.0 284.8L515.5 284.8L516.0 284.8L516.5 284.8L517.0 284.8L517.5 284.8L518.0 284.8L518.5 284.8L519.0 284.8L519.5 284.8L520.0 284.8L520.5 284.8L521.0 284.8L521.5 284.8L522.0 284.8L522.5 284.8L523.0 284.8L523.5 284.8L524.0 284.8L524.5 284.8L525.0 284.8L525.5 284.8L526.0 284.8L526.5 284.8L527.0 284.8L527.5 284.8L528.0 284.8L528.5 284.8L529.0 284.8L529.5 284.8L530.0 284.8L530.5 284.8L531.0 284.8L531.5 284.8L532.0 284.8L532.5 284.8L533.0 284.8L533.5 284.8L534.0 284.8L534.5 284.8L535.0 284.8L535.5 284.8L536.0 284.8L536.5 284.8L537.0 284.8L537.5 284.8L538.0 284.8L538.5 284.8L539.0 284.8L539.5 284.8L540.0 284.8L540.5 284.8L541.0 284.8L541.5 284.8L542.0 284.8L542.5 284.8L543.0 284.8L543.5 284.8L544.0 284.8L544.5 284.8L545.0 284.8L545.5 284.8L546.0 284.8L546.5 284.8L547.0 284.8L547.5 284.8L548.0 284.8L548.5 284.8L549.0 284.8L549.5 284.8L550.0 284.8L550.5 284.8L551.0 284.8L551.5 284.8L552.0 284.8L552.5 284.8L553.0 284.8L553.5 284.8L554.0 284.8L554.5 284.8L555.0 284.8" stroke="#5f88c8" stroke-width="1.6" fill="none" stroke-dasharray="1.35 1.7" stroke-linejoin="round"/>
<path d="M345.0 284.8L345.5 284.8L346.0 284.8L346.5 284.8L347.0 284.8L347.5 284.8L348.0 284.8L348.5 284.8L349.0 284.8L349.5 284.8L350.0 284.8L350.5 284.8L351.0 284.8L351.5 284.8L352.0 284.8L352.5 284.8L353.0 284.8L353.5 284.8L354.0 284.8L354.5 284.8L355.0 284.8L355.5 284.8L356.0 284.7L356.5 284.7L357.0 284.6L357.5 284.6L358.0 284.5L358.5 284.4L359.0 284.3L359.5 284.2L360.0 284.2L360.5 284.1L361.0 284.1L361.5 284.0L362.0 284.0L362.5 284.1L363.0 284.2L363.5 284.3L364.0 284.5L364.5 284.7L365.0 284.9L365.5 285.1L366.0 285.3L366.5 285.5L367.0 285.6L367.5 285.7L368.0 285.8L368.5 285.7L369.0 285.6L369.5 285.5L370.0 285.3L370.5 285.1L371.0 284.9L371.5 284.6L372.0 284.4L372.5 284.1L373.0 283.9L373.5 283.7L374.0 283.5L374.5 283.4L375.0 283.2L375.5 283.1L376.0 282.9L376.5 282.8L377.0 282.6L377.5 282.5L378.0 282.4L378.5 282.4L379.0 282.3L379.5 282.4L380.0 282.4L380.5 282.6L381.0 282.8L381.5 283.1L382.0 283.4L382.5 283.7L383.0 284.0L383.5 284.3L384.0 284.5L384.5 284.7L385.0 284.8L385.5 284.8L386.0 284.8L386.5 284.7L387.0 284.7L387.5 284.7L388.0 284.6L388.5 284.6L389.0 284.5L389.5 284.4L390.0 284.4L390.5 284.3L391.0 284.3L391.5 284.2L392.0 284.2L392.5 284.2L393.0 284.1L393.5 284.1L394.0 284.1L394.5 284.1L395.0 284.1L395.5 284.0L396.0 284.0L396.5 284.0L397.0 284.0L397.5 284.0L398.0 283.9L398.5 283.9L399.0 283.9L399.5 283.8L400.0 283.8L400.5 283.7L401.0 283.6L401.5 283.5L402.0 283.3L402.5 283.2L403.0 283.0L403.5 282.8L404.0 282.5L404.5 282.3L405.0 282.1L405.5 281.9L406.0 281.8L406.5 281.6L407.0 281.5L407.5 281.4L408.0 281.3L408.5 281.4L409.0 281.6L409.5 281.9L410.0 282.5L410.5 283.2L411.0 284.1L411.5 285.0L412.0 285.9L412.5 286.7L413.0 287.5L413.5 288.2L414.0 288.7L414.5 289.0L415.0 289.1L415.5 289.0L416.0 288.8L416.5 288.5L417.0 288.1L417.5 287.6L418.0 287.2L418.5 286.7L419.0 286.3L419.5 285.9L420.0 285.5L420.5 285.2L421.0 285.0L421.5 284.9L422.0 284.8L422.5 284.7L423.0 284.6L423.5 284.6L424.0 284.5L424.5 284.5L425.0 284.4L425.5 284.4L426.0 284.3L426.5 284.2L427.0 284.2L427.5 284.1L428.0 284.0L428.5 283.9L429.0 283.7L429.5 283.6L430.0 283.4L430.5 283.2L431.0 283.0L431.5 282.8L432.0 282.6L432.5 282.3L433.0 282.1L433.5 281.9L434.0 281.8L434.5 281.6L435.0 281.5L435.5 281.4L436.0 281.3L436.5 281.3L437.0 281.3L437.5 281.5L438.0 281.9L438.5 282.4L439.0 283.0L439.5 283.8L440.0 284.5L440.5 285.4L441.0 286.2L441.5 287.0L442.0 287.7L442.5 288.4L443.0 288.9L443.5 289.3L444.0 289.5L444.5 289.6L445.0 289.4L445.5 289.1L446.0 288.7L446.5 288.2L447.0 287.6L447.5 287.1L448.0 286.5L448.5 286.0L449.0 285.6L449.5 285.3L450.0 285.1L450.5 284.9L451.0 284.8L451.5 284.8L452.0 284.7L452.5 284.6L453.0 284.6L453.5 284.5L454.0 284.5L454.5 284.4L455.0 284.4L455.5 284.4L456.0 284.4L456.5 284.3L457.0 284.3L457.5 284.3L458.0 284.3L458.5 284.3L459.0 284.3L459.5 284.3L460.0 284.4L460.5 284.4L461.0 284.5L461.5 284.5L462.0 284.5L462.5 284.6L463.0 284.6L463.5 284.7L464.0 284.8L464.5 284.8L465.0 284.8L465.5 284.9L466.0 284.9L466.5 285.0L467.0 285.0L467.5 285.0L468.0 285.0L468.5 285.0L469.0 285.0L469.5 285.0L470.0 284.9L470.5 284.9L471.0 284.9L471.5 284.9L472.0 284.8L472.5 284.8L473.0 284.8L473.5 284.7L474.0 284.7L474.5 284.6L475.0 284.6L475.5 284.6L476.0 284.6L476.5 284.5L477.0 284.5L477.5 284.5L478.0 284.5L478.5 284.5L479.0 284.5L479.5 284.5L480.0 284.5L480.5 284.5L481.0 284.5L481.5 284.5L482.0 284.5L482.5 284.5L483.0 284.5L483.5 284.5L484.0 284.5L484.5 284.4L485.0 284.2L485.5 283.9L486.0 283.6L486.5 283.3L487.0 282.9L487.5 282.5L488.0 282.2L488.5 282.0L489.0 281.8L489.5 281.7L490.0 281.9L490.5 282.2L491.0 282.8L491.5 283.6L492.0 284.4L492.5 285.4L493.0 286.4L493.5 287.4L494.0 288.2L494.5 289.0L495.0 289.6L495.5 289.9L496.0 290.0L496.5 289.8L497.0 289.3L497.5 288.6L498.0 287.8L498.5 286.9L499.0 285.9L499.5 285.0L500.0 284.1L500.5 283.4L501.0 282.9L501.5 282.6L502.0 282.5L502.5 282.6L503.0 282.7L503.5 282.9L504.0 283.2L504.5 283.5L505.0 283.8L505.5 284.1L506.0 284.4L506.5 284.6L507.0 284.8L507.5 284.9L508.0 285.0L508.5 285.0L509.0 285.0L509.5 284.9L510.0 284.9L510.5 284.8L511.0 284.7L511.5 284.6L512.0 284.5L512.5 284.4L513.0 284.3L513.5 284.2L514.0 284.1L514.5 284.0L515.0 283.9L515.5 283.8L516.0 283.7L516.5 283.7L517.0 283.6L517.5 283.5L518.0 283.5L518.5 283.4L519.0 283.4L519.5 283.4L520.0 283.5L520.5 283.5L521.0 283.7L521.5 283.8L522.0 284.0L522.5 284.2L523.0 284.4L523.5 284.6L524.0 284.8L524.5 285.0L525.0 285.1L525.5 285.3L526.0 285.4L526.5 285.4L527.0 285.5L527.5 285.5L528.0 285.4L528.5 285.4L529.0 285.3L529.5 285.3L530.0 285.2L530.5 285.1L531.0 285.0L531.5 284.9L532.0 284.8L532.5 284.7L533.0 284.7L533.5 284.6L534.0 284.6L534.5 284.5L535.0 284.5L535.5 284.5L536.0 284.5L536.5 284.5L537.0 284.5L537.5 284.5L538.0 284.5L538.5 284.5L539.0 284.5L539.5 284.5L540.0 284.5L540.5 284.6L541.0 284.6L541.5 284.6L542.0 284.6L542.5 284.6L543.0 284.7L543.5 284.7L544.0 284.7L544.5 284.8L545.0 284.8" stroke="#e69d28" stroke-width="1.6" fill="none" stroke-dasharray="4.3 1.8" stroke-linejoin="round"/>
<path d="M330.4 284.8L330.9 284.8L331.4 284.8L331.9 284.8L332.4 284.8L332.9 284.8L333.4 284.8L333.9 284.8L334.4 284.8L334.9 284.8L335.4 284.8L335.9 284.8L336.4 284.8L336.9 284.8L337.4 284.8L337.9 284.8L338.4 284.8L338.9 284.8L339.4 284.8L339.9 284.8L340.4 284.8L340.9 284.8L341.4 284.8L341.9 284.8L342.4 284.8L342.9 284.8L343.4 284.8L343.9 284.8L344.4 284.8L344.9 284.8L345.4 284.8L345.9 284.8L346.4 284.8L346.9 284.8L347.4 284.8L347.9 284.8L348.4 284.8L348.9 284.8L349.4 284.8L349.9 284.8L350.4 284.8L350.9 284.8L351.4 284.8L351.9 284.8L352.4 284.8L352.9 284.8L353.4 284.8L353.9 284.8L354.4 284.8L354.9 284.8L355.4 284.8L355.9 284.8L356.4 284.8L356.9 284.8L357.4 284.8L357.9 284.9L358.4 285.0L358.9 285.1L359.4 285.4L359.9 285.6L360.4 285.9L360.9 286.2L361.4 286.5L361.9 286.8L362.4 287.2L362.9 287.6L363.4 288.0L363.9 288.4L364.4 288.8L364.9 289.0L365.4 289.0L365.9 288.9L366.4 288.5L366.9 288.0L367.4 287.4L367.9 286.8L368.4 286.1L368.9 285.5L369.4 284.8L369.9 284.2L370.4 283.8L370.9 283.6L371.4 283.6L371.9 284.0L372.4 284.6L372.9 285.2L373.4 285.9L373.9 286.7L374.4 287.4L374.9 288.1L375.4 288.8L375.9 289.2L376.4 289.2L376.9 288.8L377.4 288.0L377.9 287.0L378.4 285.7L378.9 284.5L379.4 283.3L379.9 282.1L380.4 281.0L380.9 280.0L381.4 279.0L381.9 278.3L382.4 278.0L382.9 278.1L383.4 278.6L383.9 279.2L384.4 280.0L384.9 280.9L385.4 281.6L385.9 282.4L386.4 283.1L386.9 283.7L387.4 284.1L387.9 284.3L388.4 284.3L388.9 284.2L389.4 284.0L389.9 283.9L390.4 283.8L390.9 283.6L391.4 283.6L391.9 283.5L392.4 283.4L392.9 283.4L393.4 283.3L393.9 283.3L394.4 283.4L394.9 283.6L395.4 283.9L395.9 284.2L396.4 284.6L396.9 285.0L397.4 285.5L397.9 285.9L398.4 286.3L398.9 286.8L399.4 287.2L399.9 287.7L400.4 288.2L400.9 288.6L401.4 289.1L401.9 289.6L402.4 290.1L402.9 290.5L403.4 291.0L403.9 291.5L404.4 291.9L404.9 292.4L405.4 293.0L405.9 293.6L406.4 294.3L406.9 295.0L407.4 295.8L407.9 296.4L408.4 296.9L408.9 297.2L409.4 297.1L409.9 296.6L410.4 295.8L410.9 294.6L411.4 293.3L411.9 291.9L412.4 290.5L412.9 289.3L413.4 288.1L413.9 287.0L414.4 285.8L414.9 284.7L415.4 283.6L415.9 282.5L416.4 281.7L416.9 281.0L417.4 280.6L417.9 280.4L418.4 280.4L418.9 280.5L419.4 280.7L419.9 280.9L420.4 281.1L420.9 281.3L421.4 281.4L421.9 281.5L422.4 281.6L422.9 281.6L423.4 281.4L423.9 281.0L424.4 280.4L424.9 279.8L425.4 279.2L425.9 278.7L426.4 278.2L426.9 277.9L427.4 277.7L427.9 277.7L428.4 277.8L428.9 278.1L429.4 278.5L429.9 278.9L430.4 279.3L430.9 279.7L431.4 280.1L431.9 280.5L432.4 281.0L432.9 281.6L433.4 282.4L433.9 283.5L434.4 285.0L434.9 286.9L435.4 289.2L435.9 291.7L436.4 294.5L436.9 297.4L437.4 300.5L437.9 303.3L438.4 305.8L438.9 308.1L439.4 310.1L439.9 311.6L440.4 312.2L440.9 311.8L441.4 310.5L441.9 308.3L442.4 305.5L442.9 302.0L443.4 297.7L443.9 292.4L444.4 286.8L444.9 281.5L445.4 276.6L445.9 272.2L446.4 268.2L446.9 265.1L447.4 263.0L447.9 262.3L448.4 263.0L448.9 264.5L449.4 266.7L449.9 269.1L450.4 271.4L450.9 273.7L451.4 276.0L451.9 278.2L452.4 280.4L452.9 282.4L453.4 284.1L453.9 285.6L454.4 286.8L454.9 287.8L455.4 288.7L455.9 289.5L456.4 290.2L456.9 290.6L457.4 290.8L457.9 290.7L458.4 290.3L458.9 289.7L459.4 288.9L459.9 288.2L460.4 287.5L460.9 286.9L461.4 286.5L461.9 286.2L462.4 286.1L462.9 286.3L463.4 286.7L463.9 287.3L464.4 288.1L464.9 289.1L465.4 290.6L465.9 292.6L466.4 295.0L466.9 297.5L467.4 300.0L467.9 302.5L468.4 304.9L468.9 306.8L469.4 307.8L469.9 307.9L470.4 306.9L470.9 305.2L471.4 302.9L471.9 299.9L472.4 296.0L472.9 291.3L473.4 286.2L473.9 281.4L474.4 277.2L474.9 273.5L475.4 270.4L475.9 268.1L476.4 267.0L476.9 267.0L477.4 268.0L477.9 269.6L478.4 271.6L478.9 273.6L479.4 275.5L479.9 277.4L480.4 279.2L480.9 281.1L481.4 282.9L481.9 284.5L482.4 286.0L482.9 287.1L483.4 288.0L483.9 288.6L484.4 289.1L484.9 289.5L485.4 289.9L485.9 290.3L486.4 290.6L486.9 290.9L487.4 291.2L487.9 291.5L488.4 291.8L488.9 292.1L489.4 292.4L489.9 292.7L490.4 293.0L490.9 293.3L491.4 293.5L491.9 293.7L492.4 293.8L492.9 293.7L493.4 293.5L493.9 293.1L494.4 292.5L494.9 291.7L495.4 290.9L495.9 290.0L496.4 289.1L496.9 288.1L497.4 287.0L497.9 285.8L498.4 284.5L498.9 283.3L499.4 282.2L499.9 281.4L500.4 280.8L500.9 280.7L501.4 280.9L501.9 281.3L502.4 282.0L502.9 282.8L503.4 283.6L503.9 284.4L504.4 285.1L504.9 285.9L505.4 286.7L505.9 287.3L506.4 287.7L506.9 288.0L507.4 288.1L507.9 288.1L508.4 288.1L508.9 288.2L509.4 288.2L509.9 288.2L510.4 288.2L510.9 288.3L511.4 288.3L511.9 288.4L512.4 288.6L512.9 288.8L513.4 289.1L513.9 289.4L514.4 289.7L514.9 290.1L515.4 290.5L515.9 290.8L516.4 291.1L516.9 291.4L517.4 291.6L517.9 291.7L518.4 291.7L518.9 291.6L519.4 291.4L519.9 291.0L520.4 290.5L520.9 290.0L521.4 289.4L521.9 288.7L522.4 288.1L522.9 287.5L523.4 287.0L523.9 286.5L524.4 286.2L524.9 286.0L525.4 286.0L525.9 286.0L526.4 286.2L526.9 286.4L527.4 286.6L527.9 286.9L528.4 287.2L528.9 287.6L529.4 287.9L529.9 288.3L530.4 288.6L530.9 289.0L531.4 289.3L531.9 289.6L532.4 289.8L532.9 290.0L533.4 290.1L533.9 290.1L534.4 290.1L534.9 290.0L535.4 289.9L535.9 289.6L536.4 289.3L536.9 289.0L537.4 288.7L537.9 288.3L538.4 287.9L538.9 287.5L539.4 287.1L539.9 286.8L540.4 286.4L540.9 286.1L541.4 285.8L541.9 285.6L542.4 285.4L542.9 285.3L543.4 285.2L543.9 285.1L544.4 285.1L544.9 285.0L545.4 285.0L545.9 284.9L546.4 284.9L546.9 284.8L547.4 284.8L547.9 284.8L548.4 284.8L548.9 284.8L549.4 284.8L549.9 284.8L550.4 284.8L550.9 284.8L551.4 284.8L551.9 284.8L552.4 284.8L552.9 284.8L553.4 284.8L553.9 284.8L554.4 284.8L554.9 284.8L555.4 284.8L555.6 284.8" stroke="#24a02c" stroke-width="1.6" fill="none" stroke-linejoin="round"/>
<path d="M22.7 11.8H41.8" stroke="#5f88c8" stroke-width="1.6"/>
<text x="48.6" y="15.1" font-size="9.3">HH</text>
<path d="M22.7 24.9H41.8" stroke="#5f88c8" stroke-width="1.6" stroke-dasharray="4.3 1.8"/>
<text x="48.6" y="28.2" font-size="9.3">HC, CH</text>
<path d="M22.7 38.0H41.8" stroke="#5f88c8" stroke-width="1.6" stroke-dasharray="1.35 1.7"/>
<text x="48.6" y="41.3" font-size="9.3">HO, OH</text>
<path d="M22.7 51.0H41.8" stroke="#e69d28" stroke-width="1.6"/>
<text x="48.6" y="54.3" font-size="9.3">CC</text>
<path d="M22.7 64.0H41.8" stroke="#e69d28" stroke-width="1.6" stroke-dasharray="4.3 1.8"/>
<text x="48.6" y="67.3" font-size="9.3">CO, OC</text>
<path d="M22.7 77.1H41.8" stroke="#ec6b46" stroke-width="1.6"/>
<text x="48.6" y="80.4" font-size="9.3">OO</text>
<path d="M327.6 11.7H346.5" stroke="#5f88c8" stroke-width="1.6" stroke-dasharray="1.35 1.7"/>
<path d="M327.6 30.3H346.5" stroke="#e69d28" stroke-width="1.6" stroke-dasharray="4.3 1.8"/>
<path d="M327.6 47.5H346.5" stroke="#24a02c" stroke-width="1.6"/>
<text x="353.6" y="15.2" font-size="9.2">NaNaNa, ClClCl</text>
<text x="353.6" y="28.4" font-size="9.2">NaClCl, ClClNa,</text>
<text x="353.6" y="38.0" font-size="9.2">ClNaNa, NaNaCl</text>
<text x="353.6" y="51.1" font-size="9.2">NaClNa, ClNaCl</text>
<line x1="111.9" y1="12.9" x2="107.2" y2="8.8" stroke="#4e4e4e" stroke-width="2.2" stroke-linecap="round"/>
<line x1="111.7" y1="12.7" x2="107.0" y2="8.6" stroke="#a4a4a4" stroke-width="0.8" stroke-linecap="round"/>
<line x1="111.9" y1="12.9" x2="118.5" y2="11.3" stroke="#4e4e4e" stroke-width="2.2" stroke-linecap="round"/>
<line x1="111.7" y1="12.7" x2="118.3" y2="11.1" stroke="#a4a4a4" stroke-width="0.8" stroke-linecap="round"/>
<line x1="111.9" y1="12.9" x2="111.0" y2="10.6" stroke="#4e4e4e" stroke-width="2.2" stroke-linecap="round"/>
<line x1="111.7" y1="12.7" x2="110.8" y2="10.4" stroke="#a4a4a4" stroke-width="0.8" stroke-linecap="round"/>
<line x1="111.9" y1="12.9" x2="112.1" y2="21.4" stroke="#4e4e4e" stroke-width="2.2" stroke-linecap="round"/>
<line x1="111.7" y1="12.7" x2="111.9" y2="21.2" stroke="#a4a4a4" stroke-width="0.8" stroke-linecap="round"/>
<line x1="112.1" y1="21.4" x2="109.0" y2="24.7" stroke="#4e4e4e" stroke-width="2.2" stroke-linecap="round"/>
<line x1="111.9" y1="21.2" x2="108.8" y2="24.5" stroke="#a4a4a4" stroke-width="0.8" stroke-linecap="round"/>
<line x1="112.1" y1="21.4" x2="115.6" y2="26.8" stroke="#4e4e4e" stroke-width="2.2" stroke-linecap="round"/>
<line x1="111.9" y1="21.2" x2="115.4" y2="26.6" stroke="#a4a4a4" stroke-width="0.8" stroke-linecap="round"/>
<line x1="115.6" y1="26.8" x2="116.0" y2="35.8" stroke="#4e4e4e" stroke-width="2.2" stroke-linecap="round"/>
<line x1="115.4" y1="26.6" x2="115.8" y2="35.6" stroke="#a4a4a4" stroke-width="0.8" stroke-linecap="round"/>
<line x1="116.0" y1="35.8" x2="123.7" y2="39.4" stroke="#4e4e4e" stroke-width="2.2" stroke-linecap="round"/>
<line x1="115.8" y1="35.6" x2="123.5" y2="39.2" stroke="#a4a4a4" stroke-width="0.8" stroke-linecap="round"/>
<line x1="123.7" y1="39.4" x2="123.7" y2="47.2" stroke="#4e4e4e" stroke-width="2.2" stroke-linecap="round"/>
<line x1="123.5" y1="39.2" x2="123.5" y2="47.0" stroke="#a4a4a4" stroke-width="0.8" stroke-linecap="round"/>
<line x1="123.7" y1="47.2" x2="116.0" y2="51.6" stroke="#4e4e4e" stroke-width="2.2" stroke-linecap="round"/>
<line x1="123.5" y1="47.0" x2="115.8" y2="51.4" stroke="#a4a4a4" stroke-width="0.8" stroke-linecap="round"/>
<line x1="116.0" y1="51.6" x2="107.9" y2="48.7" stroke="#4e4e4e" stroke-width="2.2" stroke-linecap="round"/>
<line x1="115.8" y1="51.4" x2="107.7" y2="48.5" stroke="#a4a4a4" stroke-width="0.8" stroke-linecap="round"/>
<line x1="107.9" y1="48.7" x2="107.9" y2="40.1" stroke="#4e4e4e" stroke-width="2.2" stroke-linecap="round"/>
<line x1="107.7" y1="48.5" x2="107.7" y2="39.9" stroke="#a4a4a4" stroke-width="0.8" stroke-linecap="round"/>
<line x1="107.9" y1="40.1" x2="116.0" y2="35.8" stroke="#4e4e4e" stroke-width="2.2" stroke-linecap="round"/>
<line x1="107.7" y1="39.9" x2="115.8" y2="35.6" stroke="#a4a4a4" stroke-width="0.8" stroke-linecap="round"/>
<line x1="123.7" y1="39.4" x2="132.0" y2="33.8" stroke="#4e4e4e" stroke-width="2.2" stroke-linecap="round"/>
<line x1="123.5" y1="39.2" x2="131.8" y2="33.6" stroke="#a4a4a4" stroke-width="0.8" stroke-linecap="round"/>
<line x1="132.0" y1="33.8" x2="137.5" y2="36.6" stroke="#4e4e4e" stroke-width="2.2" stroke-linecap="round"/>
<line x1="131.8" y1="33.6" x2="137.3" y2="36.4" stroke="#a4a4a4" stroke-width="0.8" stroke-linecap="round"/>
<line x1="132.0" y1="33.8" x2="132.6" y2="26.8" stroke="#4e4e4e" stroke-width="2.2" stroke-linecap="round"/>
<line x1="131.8" y1="33.6" x2="132.4" y2="26.6" stroke="#a4a4a4" stroke-width="0.8" stroke-linecap="round"/>
<line x1="132.6" y1="26.8" x2="138.6" y2="25.0" stroke="#4e4e4e" stroke-width="2.2" stroke-linecap="round"/>
<line x1="132.4" y1="26.6" x2="138.4" y2="24.8" stroke="#a4a4a4" stroke-width="0.8" stroke-linecap="round"/>
<line x1="107.9" y1="40.1" x2="101.8" y2="36.8" stroke="#4e4e4e" stroke-width="2.2" stroke-linecap="round"/>
<line x1="107.7" y1="39.9" x2="101.6" y2="36.6" stroke="#a4a4a4" stroke-width="0.8" stroke-linecap="round"/>
<line x1="107.9" y1="48.7" x2="101.8" y2="51.7" stroke="#4e4e4e" stroke-width="2.2" stroke-linecap="round"/>
<line x1="107.7" y1="48.5" x2="101.6" y2="51.5" stroke="#a4a4a4" stroke-width="0.8" stroke-linecap="round"/>
<line x1="116.0" y1="51.6" x2="116.0" y2="58.1" stroke="#4e4e4e" stroke-width="2.2" stroke-linecap="round"/>
<line x1="115.8" y1="51.4" x2="115.8" y2="57.9" stroke="#a4a4a4" stroke-width="0.8" stroke-linecap="round"/>
<line x1="123.7" y1="47.2" x2="129.0" y2="51.5" stroke="#4e4e4e" stroke-width="2.2" stroke-linecap="round"/>
<line x1="123.5" y1="47.0" x2="128.8" y2="51.3" stroke="#a4a4a4" stroke-width="0.8" stroke-linecap="round"/>
<circle cx="111.9" cy="12.9" r="1.5" fill="#575757"/><circle cx="111.5" cy="12.5" r="0.6" fill="#b0b0b0"/>
<circle cx="107.2" cy="8.8" r="1.6" fill="#b9c2c2"/><circle cx="106.8" cy="8.4" r="0.7" fill="#eef2f2"/>
<circle cx="118.5" cy="11.3" r="1.6" fill="#b9c2c2"/><circle cx="118.1" cy="10.9" r="0.7" fill="#eef2f2"/>
<circle cx="111.0" cy="10.6" r="1.6" fill="#b9c2c2"/><circle cx="110.6" cy="10.2" r="0.7" fill="#eef2f2"/>
<circle cx="112.1" cy="21.4" r="1.5" fill="#575757"/><circle cx="111.7" cy="21.0" r="0.6" fill="#b0b0b0"/>
<circle cx="109.0" cy="24.7" r="2.0" fill="#e0201c"/><circle cx="108.4" cy="24.1" r="0.8" fill="#ff8a80"/>
<circle cx="115.6" cy="26.8" r="2.0" fill="#e0201c"/><circle cx="115.0" cy="26.2" r="0.8" fill="#ff8a80"/>
<circle cx="116.0" cy="35.8" r="1.5" fill="#575757"/><circle cx="115.6" cy="35.4" r="0.6" fill="#b0b0b0"/>
<circle cx="123.7" cy="39.4" r="1.5" fill="#575757"/><circle cx="123.3" cy="39.0" r="0.6" fill="#b0b0b0"/>
<circle cx="123.7" cy="47.2" r="1.5" fill="#575757"/><circle cx="123.3" cy="46.8" r="0.6" fill="#b0b0b0"/>
<circle cx="116.0" cy="51.6" r="1.5" fill="#575757"/><circle cx="115.6" cy="51.2" r="0.6" fill="#b0b0b0"/>
<circle cx="107.9" cy="48.7" r="1.5" fill="#575757"/><circle cx="107.5" cy="48.3" r="0.6" fill="#b0b0b0"/>
<circle cx="107.9" cy="40.1" r="1.5" fill="#575757"/><circle cx="107.5" cy="39.7" r="0.6" fill="#b0b0b0"/>
<circle cx="132.0" cy="33.8" r="1.5" fill="#575757"/><circle cx="131.6" cy="33.4" r="0.6" fill="#b0b0b0"/>
<circle cx="137.5" cy="36.6" r="2.0" fill="#e0201c"/><circle cx="136.9" cy="36.0" r="0.8" fill="#ff8a80"/>
<circle cx="132.6" cy="26.8" r="2.0" fill="#e0201c"/><circle cx="132.0" cy="26.2" r="0.8" fill="#ff8a80"/>
<circle cx="138.6" cy="25.0" r="1.6" fill="#b9c2c2"/><circle cx="138.2" cy="24.6" r="0.7" fill="#eef2f2"/>
<circle cx="101.8" cy="36.8" r="1.6" fill="#b9c2c2"/><circle cx="101.4" cy="36.4" r="0.7" fill="#eef2f2"/>
<circle cx="101.8" cy="51.7" r="1.6" fill="#b9c2c2"/><circle cx="101.4" cy="51.3" r="0.7" fill="#eef2f2"/>
<circle cx="116.0" cy="58.1" r="1.6" fill="#b9c2c2"/><circle cx="115.6" cy="57.7" r="0.7" fill="#eef2f2"/>
<circle cx="129.0" cy="51.5" r="1.6" fill="#b9c2c2"/><circle cx="128.6" cy="51.1" r="0.7" fill="#eef2f2"/>
<line x1="102.2" y1="27.8" x2="110.0" y2="32.5" stroke="#111" stroke-width="1.1"/>
<path d="M112.3 33.9L108.4 33.4L110.3 30.4Z" fill="#111"/>
<text x="93.6" y="25.7" font-size="8.8" font-style="italic">r</text><text x="97.1" y="26.4" font-size="5.8">6</text>
<line x1="358.9" y1="69.4" x2="376.3" y2="73.2" stroke="#b0b0b0" stroke-width="0.6"/>
<line x1="376.3" y1="73.2" x2="397.1" y2="70.0" stroke="#b0b0b0" stroke-width="0.6"/>
<line x1="397.1" y1="70.0" x2="380.4" y2="66.2" stroke="#b0b0b0" stroke-width="0.6"/>
<line x1="380.4" y1="66.2" x2="358.9" y2="69.4" stroke="#b0b0b0" stroke-width="0.6"/>
<line x1="358.7" y1="97.4" x2="375.9" y2="101.3" stroke="#b0b0b0" stroke-width="0.6"/>
<line x1="375.9" y1="101.3" x2="397.1" y2="98.8" stroke="#b0b0b0" stroke-width="0.6"/>
<line x1="397.1" y1="98.8" x2="380.4" y2="94.4" stroke="#b0b0b0" stroke-width="0.6"/>
<line x1="380.4" y1="94.4" x2="358.7" y2="97.4" stroke="#b0b0b0" stroke-width="0.6"/>
<line x1="358.9" y1="69.4" x2="358.7" y2="97.4" stroke="#b0b0b0" stroke-width="0.6"/>
<line x1="376.3" y1="73.2" x2="375.9" y2="101.3" stroke="#b0b0b0" stroke-width="0.6"/>
<line x1="397.1" y1="70.0" x2="397.1" y2="98.8" stroke="#b0b0b0" stroke-width="0.6"/>
<line x1="380.4" y1="66.2" x2="380.4" y2="94.4" stroke="#b0b0b0" stroke-width="0.6"/>
<circle cx="380.4" cy="66.2" r="2.05" fill="#8f4ad8"/><circle cx="379.8" cy="65.6" r="0.8" fill="#c3a0f2"/>
<circle cx="369.6" cy="67.8" r="1.45" fill="#a9e29a" stroke="#74c064" stroke-width="0.4"/><circle cx="369.3" cy="67.5" r="0.6" fill="#eafbe4"/>
<circle cx="388.8" cy="68.1" r="1.45" fill="#a9e29a" stroke="#74c064" stroke-width="0.4"/><circle cx="388.4" cy="67.8" r="0.6" fill="#eafbe4"/>
<circle cx="358.9" cy="69.4" r="2.05" fill="#8f4ad8"/><circle cx="358.3" cy="68.8" r="0.8" fill="#c3a0f2"/>
<circle cx="378.0" cy="69.7" r="2.05" fill="#8f4ad8"/><circle cx="377.4" cy="69.1" r="0.8" fill="#c3a0f2"/>
<circle cx="397.1" cy="70.0" r="2.05" fill="#8f4ad8"/><circle cx="396.5" cy="69.4" r="0.8" fill="#c3a0f2"/>
<circle cx="367.6" cy="71.3" r="1.45" fill="#a9e29a" stroke="#74c064" stroke-width="0.4"/><circle cx="367.2" cy="71.0" r="0.6" fill="#eafbe4"/>
<circle cx="386.7" cy="71.6" r="1.45" fill="#a9e29a" stroke="#74c064" stroke-width="0.4"/><circle cx="386.4" cy="71.2" r="0.6" fill="#eafbe4"/>
<circle cx="376.3" cy="73.2" r="2.05" fill="#8f4ad8"/><circle cx="375.7" cy="72.6" r="0.8" fill="#c3a0f2"/>
<circle cx="380.4" cy="80.3" r="1.45" fill="#a9e29a" stroke="#74c064" stroke-width="0.4"/><circle cx="380.0" cy="80.0" r="0.6" fill="#eafbe4"/>
<circle cx="369.6" cy="81.9" r="2.05" fill="#8f4ad8"/><circle cx="369.0" cy="81.3" r="0.8" fill="#c3a0f2"/>
<circle cx="388.8" cy="82.5" r="2.05" fill="#8f4ad8"/><circle cx="388.1" cy="81.9" r="0.8" fill="#c3a0f2"/>
<circle cx="358.8" cy="83.4" r="1.45" fill="#a9e29a" stroke="#74c064" stroke-width="0.4"/><circle cx="358.4" cy="83.1" r="0.6" fill="#eafbe4"/>
<circle cx="378.0" cy="84.1" r="1.45" fill="#a9e29a" stroke="#74c064" stroke-width="0.4"/><circle cx="377.6" cy="83.8" r="0.6" fill="#eafbe4"/>
<circle cx="397.1" cy="84.4" r="1.45" fill="#a9e29a" stroke="#74c064" stroke-width="0.4"/><circle cx="396.8" cy="84.1" r="0.6" fill="#eafbe4"/>
<circle cx="367.4" cy="85.3" r="2.05" fill="#8f4ad8"/><circle cx="366.8" cy="84.8" r="0.8" fill="#c3a0f2"/>
<circle cx="386.7" cy="86.0" r="2.05" fill="#8f4ad8"/><circle cx="386.1" cy="85.4" r="0.8" fill="#c3a0f2"/>
<circle cx="376.1" cy="87.2" r="1.45" fill="#a9e29a" stroke="#74c064" stroke-width="0.4"/><circle cx="375.8" cy="86.9" r="0.6" fill="#eafbe4"/>
<circle cx="380.4" cy="94.4" r="2.05" fill="#8f4ad8"/><circle cx="379.8" cy="93.8" r="0.8" fill="#c3a0f2"/>
<circle cx="369.5" cy="95.9" r="1.45" fill="#a9e29a" stroke="#74c064" stroke-width="0.4"/><circle cx="369.2" cy="95.6" r="0.6" fill="#eafbe4"/>
<circle cx="388.8" cy="96.6" r="1.45" fill="#a9e29a" stroke="#74c064" stroke-width="0.4"/><circle cx="388.4" cy="96.2" r="0.6" fill="#eafbe4"/>
<circle cx="358.7" cy="97.4" r="2.05" fill="#8f4ad8"/><circle cx="358.1" cy="96.8" r="0.8" fill="#c3a0f2"/>
<circle cx="377.9" cy="98.1" r="2.05" fill="#8f4ad8"/><circle cx="377.3" cy="97.5" r="0.8" fill="#c3a0f2"/>
<circle cx="397.1" cy="98.8" r="2.05" fill="#8f4ad8"/><circle cx="396.5" cy="98.2" r="0.8" fill="#c3a0f2"/>
<circle cx="367.3" cy="99.3" r="1.45" fill="#a9e29a" stroke="#74c064" stroke-width="0.4"/><circle cx="366.9" cy="99.0" r="0.6" fill="#eafbe4"/>
<circle cx="386.5" cy="100.0" r="1.45" fill="#a9e29a" stroke="#74c064" stroke-width="0.4"/><circle cx="386.1" cy="99.7" r="0.6" fill="#eafbe4"/>
<circle cx="375.9" cy="101.3" r="2.05" fill="#8f4ad8"/><circle cx="375.3" cy="100.7" r="0.8" fill="#c3a0f2"/>
<line x1="412.2" y1="74.7" x2="403.0" y2="79.8" stroke="#111" stroke-width="1.1"/>
<path d="M399.9 81.7L402.0 77.9L404.2 81.4Z" fill="#111"/>
<text x="413.0" y="73.0" font-size="8" font-style="italic">r</text><text x="416.4" y="74.7" font-size="5.6">1</text>
<text transform="translate(10.3,97) rotate(-90)" font-size="7.6" style="stroke-width:0.42px"><tspan font-style="italic">f</tspan><tspan font-size="5.4" dy="1.6">2</tspan><tspan dy="-1.6"> / arbitrary units</tspan></text>
<text transform="translate(313.2,98.4) rotate(-90)" font-size="7.6" style="stroke-width:0.42px"><tspan font-style="italic">f</tspan><tspan font-size="5.4" dy="1.6">3</tspan><tspan dy="-1.6"> / arbitrary units</tspan></text>
<g transform="translate(10.2,264.0) rotate(-90)"><path d="M0.3 -5.9H5.9L3.1 -0.4Z" fill="none" stroke="#1a1a1a" stroke-width="1.1"/><text x="6.5" y="0" font-size="7.6" style="stroke-width:0.42px"><tspan font-style="italic">f</tspan><tspan font-size="5.4" dy="1.6">2</tspan><tspan dy="-1.6"> / arbitrary units</tspan></text></g>
<g transform="translate(313.7,263.5) rotate(-90)"><path d="M0.3 -5.9H5.9L3.1 -0.4Z" fill="none" stroke="#1a1a1a" stroke-width="1.1"/><text x="6.5" y="0" font-size="7.6" style="stroke-width:0.42px"><tspan font-style="italic">f</tspan><tspan font-size="5.4" dy="1.6">3</tspan><tspan dy="-1.6"> / arbitrary units</tspan></text></g>
<text x="227.3" y="147.6" font-size="9.6" font-style="italic">d</text>
<text x="233.6" y="144.0" font-size="6.2">−1</text>
<text x="243.2" y="147.6" font-size="9.0">/</text>
<text x="246.9" y="147.6" font-size="9.4" font-style="italic">Å</text>
<text x="253.8" y="144.0" font-size="6.2">−1</text>
<text x="548.4" y="146.2" font-size="7.8">cos</text>
<path d="M567.3 140.2L563.3 145.6H568.7" fill="none" stroke="#1a1a1a" stroke-width="0.95" stroke-linejoin="miter"/>
<text x="390.2" y="147.0" font-size="7.2">−</text>
<text x="397.6" y="143.4" font-size="4.2" text-anchor="middle">1</text>
<rect x="396.3" y="144.2" width="2.6" height="0.6" fill="#1a1a1a"/>
<text x="397.6" y="148.9" font-size="4.2" text-anchor="middle">2</text>
<text x="490.6" y="143.4" font-size="4.2" text-anchor="middle">1</text>
<rect x="489.3" y="144.2" width="2.6" height="0.6" fill="#1a1a1a"/>
<text x="490.6" y="148.9" font-size="4.2" text-anchor="middle">2</text>
<path d="M225.1 194.8H230.9L228.0 200.3Z" fill="none" stroke="#1a1a1a" stroke-width="1.15" stroke-linejoin="miter"/>
<text x="231.4" y="200.8" font-size="9.6" font-style="italic">f</text>
<text x="234.8" y="202.8" font-size="6.6">2</text>
<text x="239.9" y="200.8" font-size="9.4">·</text>
<text x="244.1" y="200.8" font-size="9.6" font-style="italic">x</text>
<path d="M246.5 194.6L247.8 193.2L249.1 194.6" fill="none" stroke="#1a1a1a" stroke-width="0.9"/>
<path d="M225.1 250.9H230.9L228.0 256.4Z" fill="none" stroke="#1a1a1a" stroke-width="1.15" stroke-linejoin="miter"/>
<text x="231.4" y="256.9" font-size="9.6" font-style="italic">f</text>
<text x="234.8" y="258.9" font-size="6.6">2</text>
<text x="239.9" y="256.9" font-size="9.4">·</text>
<text x="244.1" y="256.9" font-size="9.6" font-style="italic">y</text>
<path d="M246.5 250.7L247.8 249.3L249.1 250.7" fill="none" stroke="#1a1a1a" stroke-width="0.9"/>
<path d="M225.1 306.4H230.9L228.0 311.9Z" fill="none" stroke="#1a1a1a" stroke-width="1.15" stroke-linejoin="miter"/>
<text x="231.4" y="312.4" font-size="9.6" font-style="italic">f</text>
<text x="234.8" y="314.4" font-size="6.6">2</text>
<text x="239.9" y="312.4" font-size="9.4">·</text>
<text x="244.1" y="312.4" font-size="9.6" font-style="italic">z</text>
<path d="M246.5 305.9L247.8 304.5L249.1 305.9" fill="none" stroke="#1a1a1a" stroke-width="0.9"/>
<path d="M530.0 194.6H535.8L532.9 200.1Z" fill="none" stroke="#1a1a1a" stroke-width="1.15" stroke-linejoin="miter"/>
<text x="536.3" y="200.6" font-size="9.6" font-style="italic">f</text>
<text x="539.7" y="202.6" font-size="6.6">3</text>
<text x="544.8" y="200.6" font-size="9.4">·</text>
<text x="549.0" y="200.6" font-size="9.6" font-style="italic">x</text>
<path d="M551.4 194.4L552.7 193.0L554.0 194.4" fill="none" stroke="#1a1a1a" stroke-width="0.9"/>
<path d="M530.0 250.5H535.8L532.9 256.0Z" fill="none" stroke="#1a1a1a" stroke-width="1.15" stroke-linejoin="miter"/>
<text x="536.3" y="256.5" font-size="9.6" font-style="italic">f</text>
<text x="539.7" y="258.5" font-size="6.6">3</text>
<text x="544.8" y="256.5" font-size="9.4">·</text>
<text x="549.0" y="256.5" font-size="9.6" font-style="italic">y</text>
<path d="M551.4 250.3L552.7 248.9L554.0 250.3" fill="none" stroke="#1a1a1a" stroke-width="0.9"/>
<path d="M530.0 306.4H535.8L532.9 311.9Z" fill="none" stroke="#1a1a1a" stroke-width="1.15" stroke-linejoin="miter"/>
<text x="536.3" y="312.4" font-size="9.6" font-style="italic">f</text>
<text x="539.7" y="314.4" font-size="6.6">3</text>
<text x="544.8" y="312.4" font-size="9.4">·</text>
<text x="549.0" y="312.4" font-size="9.6" font-style="italic">z</text>
<path d="M551.4 305.9L552.7 304.5L554.0 305.9" fill="none" stroke="#1a1a1a" stroke-width="0.9"/>
</svg>
</body></html>
